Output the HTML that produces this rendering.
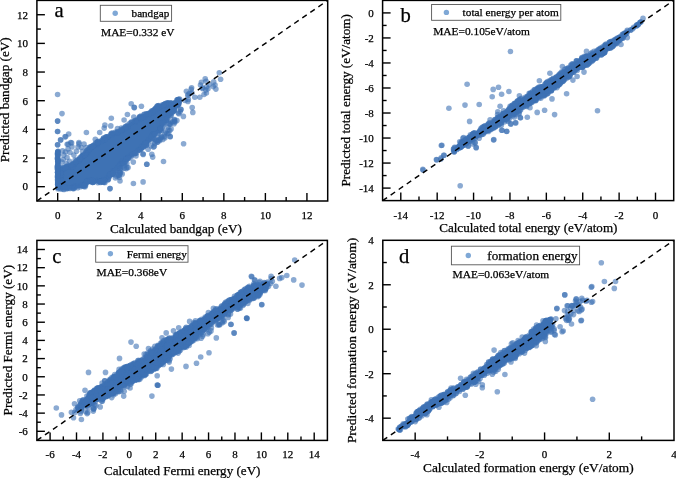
<!DOCTYPE html>
<html><head><meta charset="utf-8"><style>
html,body{margin:0;padding:0;background:#fff;width:676px;height:478px;overflow:hidden}
svg{display:block;will-change:transform}
text{font-family:"Liberation Serif", serif;fill:#000;stroke:#000;stroke-width:0.25px}
</style></head><body>
<svg width="676" height="478" viewBox="0 0 676 478">
<clipPath id="clipa"><rect x="36.9" y="0.4" width="290.8" height="200.6"/></clipPath>
<clipPath id="clipb"><rect x="382.6" y="0.4" width="291.1" height="200.2"/></clipPath>
<clipPath id="clipc"><rect x="36.9" y="240.4" width="290.5" height="199.99999999999997"/></clipPath>
<clipPath id="clipd"><rect x="382.8" y="240.3" width="291.2" height="200.09999999999997"/></clipPath>
<g clip-path="url(#clipa)"><polygon points="59.1,167.5 59.1,189.8 69.9,189.2 79.7,187.9 85.3,186.9 86.8,183.4 86.9,183.2 87.0,183.1 87.1,183.0 87.2,182.8 87.3,182.7 87.5,182.6 87.6,182.6 87.7,182.5 87.9,182.5 88.1,182.4 88.2,182.4 88.4,182.4 95.2,182.7 106.2,182.4 115.8,171.0 115.9,170.9 120.9,165.9 120.9,165.8 126.9,160.3 127.1,160.2 132.0,156.7 139.0,151.2 139.0,151.2 144.9,146.8 149.8,141.9 154.7,135.5 154.8,135.4 154.9,135.3 155.1,135.2 155.2,135.1 160.8,131.9 163.1,127.0 163.1,127.0 165.6,121.8 165.6,121.6 165.7,121.5 165.9,121.4 169.8,117.5 173.7,112.1 179.4,103.9 179.8,98.6 178.2,99.1 172.0,101.6 171.9,101.6 171.7,101.7 165.4,103.0 157.1,105.4 151.1,111.2 151.0,111.3 150.9,111.3 150.7,111.4 150.6,111.5 144.7,114.0 138.8,116.9 132.4,121.3 132.3,121.4 125.8,125.4 125.8,125.4 119.8,129.0 119.7,129.0 113.7,131.9 106.8,135.9 100.8,139.4 94.9,143.3 88.7,147.7 83.2,154.0 83.1,154.1 83.0,154.2 77.1,159.2 71.1,165.1 71.0,165.2 70.9,165.3 70.8,165.4 70.6,165.5 70.5,165.5 70.3,165.6 60.3,167.6 60.2,167.6 60.0,167.6 59.8,167.6 59.7,167.6 59.1,167.5" fill="#3e72b4"/><rect x="55.8" y="150" width="4.0" height="40" fill="#3e72b4"/><g fill="#3e72b4" fill-opacity="0.6"><circle cx="146.6" cy="114.1" r="2.8"/><circle cx="88.1" cy="152.1" r="2.8"/><circle cx="101.8" cy="140.4" r="2.8"/><circle cx="59.6" cy="171.5" r="2.8"/><circle cx="85.6" cy="185.5" r="2.8"/><circle cx="121.3" cy="129.5" r="2.8"/><circle cx="66.9" cy="188.4" r="2.8"/><circle cx="67.6" cy="166.2" r="2.8"/><circle cx="166.9" cy="116.8" r="2.8"/><circle cx="84.4" cy="184.8" r="2.8"/><circle cx="174.1" cy="110.7" r="2.8"/><circle cx="87.0" cy="180.5" r="2.8"/><circle cx="87.2" cy="182.5" r="2.8"/><circle cx="141.5" cy="116.7" r="2.8"/><circle cx="174.4" cy="109.9" r="2.8"/><circle cx="104.1" cy="182.5" r="2.8"/><circle cx="171.1" cy="115.3" r="2.8"/><circle cx="131.0" cy="155.2" r="2.8"/><circle cx="59.8" cy="180.8" r="2.8"/><circle cx="108.1" cy="179.1" r="2.8"/><circle cx="173.8" cy="111.0" r="2.8"/><circle cx="169.6" cy="113.7" r="2.8"/><circle cx="150.3" cy="113.1" r="2.8"/><circle cx="86.2" cy="151.8" r="2.8"/><circle cx="89.1" cy="181.0" r="2.8"/><circle cx="172.6" cy="111.6" r="2.8"/><circle cx="59.9" cy="175.6" r="2.8"/><circle cx="149.0" cy="141.1" r="2.8"/><circle cx="148.6" cy="139.9" r="2.8"/><circle cx="88.0" cy="181.4" r="2.8"/><circle cx="127.9" cy="126.7" r="2.8"/><circle cx="84.7" cy="155.4" r="2.8"/><circle cx="165.9" cy="120.3" r="2.8"/><circle cx="82.8" cy="156.8" r="2.8"/><circle cx="135.1" cy="121.4" r="2.8"/><circle cx="81.2" cy="158.3" r="2.8"/><circle cx="153.0" cy="134.1" r="2.8"/><circle cx="73.9" cy="188.4" r="2.8"/><circle cx="159.7" cy="131.0" r="2.8"/><circle cx="60.5" cy="185.4" r="2.8"/><circle cx="59.9" cy="175.3" r="2.8"/><circle cx="141.3" cy="118.0" r="2.8"/><circle cx="73.8" cy="186.7" r="2.8"/><circle cx="157.7" cy="105.9" r="2.8"/><circle cx="127.5" cy="125.3" r="2.8"/><circle cx="66.4" cy="187.4" r="2.8"/><circle cx="63.2" cy="188.9" r="2.8"/><circle cx="153.1" cy="137.5" r="2.8"/><circle cx="168.9" cy="104.5" r="2.8"/><circle cx="85.7" cy="183.8" r="2.8"/><circle cx="160.4" cy="129.1" r="2.8"/><circle cx="97.5" cy="181.0" r="2.8"/><circle cx="72.9" cy="187.9" r="2.8"/><circle cx="139.7" cy="117.9" r="2.8"/><circle cx="167.2" cy="103.9" r="2.8"/><circle cx="177.2" cy="100.1" r="2.8"/><circle cx="145.0" cy="116.6" r="2.8"/><circle cx="164.3" cy="122.9" r="2.8"/><circle cx="73.7" cy="163.8" r="2.8"/><circle cx="143.4" cy="116.4" r="2.8"/><circle cx="149.2" cy="113.6" r="2.8"/><circle cx="106.0" cy="137.0" r="2.8"/><circle cx="134.1" cy="121.5" r="2.8"/><circle cx="127.9" cy="157.9" r="2.8"/><circle cx="135.1" cy="153.6" r="2.8"/><circle cx="139.7" cy="116.6" r="2.8"/><circle cx="113.4" cy="133.8" r="2.8"/><circle cx="97.1" cy="180.6" r="2.8"/><circle cx="84.2" cy="185.3" r="2.8"/><circle cx="127.6" cy="127.0" r="2.8"/><circle cx="74.3" cy="164.0" r="2.8"/><circle cx="161.3" cy="130.7" r="2.8"/><circle cx="90.6" cy="148.4" r="2.8"/><circle cx="79.5" cy="159.4" r="2.8"/><circle cx="98.3" cy="141.4" r="2.8"/><circle cx="62.4" cy="169.2" r="2.8"/><circle cx="81.5" cy="156.8" r="2.8"/><circle cx="86.4" cy="150.8" r="2.8"/><circle cx="152.6" cy="111.1" r="2.8"/><circle cx="178.8" cy="101.7" r="2.8"/><circle cx="117.2" cy="132.1" r="2.8"/><circle cx="60.0" cy="178.0" r="2.8"/><circle cx="127.7" cy="126.2" r="2.8"/><circle cx="131.2" cy="122.1" r="2.8"/><circle cx="178.3" cy="103.7" r="2.8"/><circle cx="126.1" cy="158.6" r="2.8"/><circle cx="98.2" cy="181.0" r="2.8"/><circle cx="72.1" cy="165.5" r="2.8"/><circle cx="107.6" cy="177.4" r="2.8"/><circle cx="164.0" cy="123.0" r="2.8"/><circle cx="78.6" cy="160.9" r="2.8"/><circle cx="72.6" cy="187.5" r="2.8"/><circle cx="60.2" cy="181.7" r="2.8"/><circle cx="100.1" cy="182.4" r="2.8"/><circle cx="177.3" cy="101.6" r="2.8"/><circle cx="61.5" cy="189.0" r="2.8"/><circle cx="85.1" cy="186.8" r="2.8"/><circle cx="179.6" cy="99.1" r="2.8"/><circle cx="168.7" cy="103.1" r="2.8"/><circle cx="86.0" cy="154.5" r="2.8"/><circle cx="91.1" cy="181.5" r="2.8"/><circle cx="150.7" cy="112.3" r="2.8"/><circle cx="159.7" cy="107.0" r="2.8"/><circle cx="170.7" cy="116.1" r="2.8"/><circle cx="141.1" cy="149.1" r="2.8"/><circle cx="59.8" cy="188.8" r="2.8"/><circle cx="163.2" cy="105.2" r="2.8"/><circle cx="90.2" cy="181.2" r="2.8"/><circle cx="91.8" cy="180.1" r="2.8"/><circle cx="60.9" cy="184.6" r="2.8"/><circle cx="177.7" cy="102.4" r="2.8"/><circle cx="83.1" cy="155.6" r="2.8"/><circle cx="173.2" cy="109.2" r="2.8"/><circle cx="113.9" cy="172.4" r="2.8"/><circle cx="148.2" cy="114.2" r="2.8"/><circle cx="126.5" cy="159.8" r="2.8"/><circle cx="102.9" cy="182.3" r="2.8"/><circle cx="135.1" cy="122.3" r="2.8"/><circle cx="152.6" cy="134.6" r="2.8"/><circle cx="77.3" cy="159.9" r="2.8"/><circle cx="74.9" cy="162.8" r="2.8"/><circle cx="160.3" cy="128.3" r="2.8"/><circle cx="62.8" cy="169.6" r="2.8"/><circle cx="178.1" cy="105.1" r="2.8"/><circle cx="60.7" cy="177.4" r="2.8"/><circle cx="102.0" cy="180.6" r="2.8"/><circle cx="59.4" cy="176.3" r="2.8"/><circle cx="151.1" cy="112.1" r="2.8"/><circle cx="93.8" cy="181.3" r="2.8"/><circle cx="137.8" cy="150.6" r="2.8"/><circle cx="60.9" cy="176.4" r="2.8"/><circle cx="74.8" cy="186.4" r="2.8"/><circle cx="86.5" cy="153.1" r="2.8"/><circle cx="60.6" cy="185.1" r="2.8"/><circle cx="166.1" cy="103.8" r="2.8"/><circle cx="108.4" cy="179.6" r="2.8"/><circle cx="68.0" cy="166.2" r="2.8"/><circle cx="108.1" cy="137.0" r="2.8"/><circle cx="178.2" cy="100.4" r="2.8"/><circle cx="139.2" cy="150.1" r="2.8"/><circle cx="135.6" cy="120.6" r="2.8"/><circle cx="139.8" cy="118.9" r="2.8"/><circle cx="97.5" cy="142.1" r="2.8"/><circle cx="103.9" cy="139.4" r="2.8"/><circle cx="67.4" cy="167.1" r="2.8"/><circle cx="152.1" cy="138.5" r="2.8"/><circle cx="151.8" cy="110.9" r="2.8"/><circle cx="82.5" cy="186.0" r="2.8"/><circle cx="162.2" cy="127.9" r="2.8"/><circle cx="60.4" cy="168.2" r="2.8"/><circle cx="86.5" cy="181.6" r="2.8"/><circle cx="139.4" cy="117.6" r="2.8"/><circle cx="111.4" cy="133.3" r="2.8"/><circle cx="76.4" cy="185.9" r="2.8"/><circle cx="170.7" cy="103.4" r="2.8"/><circle cx="97.2" cy="144.6" r="2.8"/><circle cx="126.0" cy="159.1" r="2.8"/><circle cx="103.0" cy="180.2" r="2.8"/><circle cx="102.9" cy="181.9" r="2.8"/><circle cx="111.5" cy="134.3" r="2.8"/><circle cx="144.3" cy="114.6" r="2.8"/><circle cx="59.7" cy="171.8" r="2.8"/><circle cx="59.8" cy="171.4" r="2.8"/><circle cx="78.5" cy="161.0" r="2.8"/><circle cx="125.2" cy="127.2" r="2.8"/><circle cx="121.3" cy="128.1" r="2.8"/><circle cx="72.4" cy="166.7" r="2.8"/><circle cx="102.4" cy="180.7" r="2.8"/><circle cx="140.0" cy="118.9" r="2.8"/><circle cx="155.7" cy="108.9" r="2.8"/><circle cx="117.9" cy="132.3" r="2.8"/><circle cx="162.0" cy="128.9" r="2.8"/><circle cx="112.1" cy="134.9" r="2.8"/><circle cx="102.9" cy="180.9" r="2.8"/><circle cx="73.1" cy="188.6" r="2.8"/><circle cx="155.6" cy="108.2" r="2.8"/><circle cx="103.6" cy="138.1" r="2.8"/><circle cx="143.8" cy="145.7" r="2.8"/><circle cx="123.3" cy="128.5" r="2.8"/><circle cx="80.0" cy="157.5" r="2.8"/><circle cx="141.0" cy="148.4" r="2.8"/><circle cx="112.5" cy="174.3" r="2.8"/><circle cx="103.0" cy="139.5" r="2.8"/><circle cx="61.0" cy="179.8" r="2.8"/><circle cx="112.2" cy="174.3" r="2.8"/><circle cx="142.2" cy="147.2" r="2.8"/><circle cx="92.7" cy="182.5" r="2.8"/><circle cx="82.8" cy="185.8" r="2.8"/><circle cx="62.3" cy="167.3" r="2.8"/><circle cx="59.3" cy="171.5" r="2.8"/><circle cx="61.1" cy="183.4" r="2.8"/><circle cx="128.2" cy="157.7" r="2.8"/><circle cx="63.5" cy="167.6" r="2.8"/><circle cx="138.8" cy="149.7" r="2.8"/><circle cx="88.7" cy="149.5" r="2.8"/><circle cx="163.4" cy="105.9" r="2.8"/><circle cx="177.1" cy="99.8" r="2.8"/><circle cx="73.0" cy="165.3" r="2.8"/><circle cx="87.8" cy="149.8" r="2.8"/><circle cx="119.9" cy="164.2" r="2.8"/><circle cx="81.8" cy="185.2" r="2.8"/><circle cx="111.7" cy="133.3" r="2.8"/><circle cx="60.6" cy="177.2" r="2.8"/><circle cx="134.9" cy="153.3" r="2.8"/><circle cx="112.9" cy="170.9" r="2.8"/><circle cx="109.0" cy="176.1" r="2.8"/><circle cx="110.1" cy="174.9" r="2.8"/><circle cx="71.4" cy="165.3" r="2.8"/><circle cx="92.5" cy="182.5" r="2.8"/><circle cx="178.8" cy="101.3" r="2.8"/><circle cx="164.8" cy="104.1" r="2.8"/><circle cx="85.3" cy="184.3" r="2.8"/><circle cx="59.2" cy="177.7" r="2.8"/><circle cx="158.8" cy="107.5" r="2.8"/><circle cx="89.5" cy="148.1" r="2.8"/><circle cx="166.4" cy="120.7" r="2.8"/><circle cx="68.0" cy="167.3" r="2.8"/><circle cx="123.3" cy="162.4" r="2.8"/><circle cx="163.2" cy="122.0" r="2.8"/><circle cx="178.7" cy="100.9" r="2.8"/><circle cx="97.2" cy="143.6" r="2.8"/><circle cx="166.4" cy="120.2" r="2.8"/><circle cx="105.0" cy="182.4" r="2.8"/><circle cx="138.1" cy="119.1" r="2.8"/><circle cx="178.1" cy="99.5" r="2.8"/><circle cx="139.8" cy="117.4" r="2.8"/><circle cx="100.5" cy="182.3" r="2.8"/><circle cx="159.8" cy="130.6" r="2.8"/><circle cx="82.3" cy="155.7" r="2.8"/><circle cx="174.7" cy="108.0" r="2.8"/><circle cx="118.7" cy="167.6" r="2.8"/><circle cx="176.4" cy="106.9" r="2.8"/><circle cx="112.1" cy="172.8" r="2.8"/><circle cx="125.5" cy="128.4" r="2.8"/><circle cx="90.2" cy="146.8" r="2.8"/><circle cx="69.6" cy="188.4" r="2.8"/><circle cx="153.4" cy="110.4" r="2.8"/><circle cx="175.4" cy="102.2" r="2.8"/><circle cx="171.4" cy="103.3" r="2.8"/><circle cx="153.1" cy="112.5" r="2.8"/><circle cx="60.0" cy="180.4" r="2.8"/><circle cx="145.3" cy="143.3" r="2.8"/><circle cx="158.4" cy="132.6" r="2.8"/><circle cx="158.8" cy="105.5" r="2.8"/><circle cx="140.4" cy="149.8" r="2.8"/><circle cx="99.9" cy="181.5" r="2.8"/><circle cx="80.3" cy="186.7" r="2.8"/><circle cx="114.5" cy="171.1" r="2.8"/><circle cx="97.2" cy="142.0" r="2.8"/><circle cx="71.8" cy="166.7" r="2.8"/><circle cx="177.8" cy="104.6" r="2.8"/><circle cx="156.7" cy="108.6" r="2.8"/><circle cx="153.1" cy="134.2" r="2.8"/><circle cx="67.3" cy="187.8" r="2.8"/><circle cx="72.6" cy="164.8" r="2.8"/><circle cx="154.6" cy="109.6" r="2.8"/><circle cx="175.3" cy="106.1" r="2.8"/><circle cx="178.4" cy="104.1" r="2.8"/><circle cx="143.8" cy="146.1" r="2.8"/><circle cx="128.8" cy="156.8" r="2.8"/><circle cx="61.4" cy="175.0" r="2.8"/><circle cx="61.0" cy="175.0" r="2.8"/><circle cx="123.0" cy="129.6" r="2.8"/><circle cx="136.6" cy="152.9" r="2.8"/><circle cx="67.1" cy="166.6" r="2.8"/><circle cx="93.3" cy="182.3" r="2.8"/><circle cx="167.0" cy="118.9" r="2.8"/><circle cx="154.8" cy="109.3" r="2.8"/><circle cx="146.4" cy="145.0" r="2.8"/><circle cx="177.9" cy="104.9" r="2.8"/><circle cx="177.9" cy="99.7" r="2.8"/><circle cx="165.0" cy="119.4" r="2.8"/><circle cx="132.3" cy="154.6" r="2.8"/><circle cx="103.6" cy="138.2" r="2.8"/><circle cx="83.0" cy="155.5" r="2.8"/><circle cx="144.1" cy="114.4" r="2.8"/><circle cx="144.8" cy="143.5" r="2.8"/><circle cx="63.9" cy="189.4" r="2.8"/><circle cx="165.3" cy="105.0" r="2.8"/><circle cx="162.4" cy="104.9" r="2.8"/><circle cx="106.0" cy="137.4" r="2.8"/><circle cx="179.0" cy="104.0" r="2.8"/><circle cx="92.6" cy="146.5" r="2.8"/><circle cx="76.5" cy="160.8" r="2.8"/><circle cx="74.7" cy="187.6" r="2.8"/><circle cx="144.6" cy="143.9" r="2.8"/><circle cx="147.8" cy="113.5" r="2.8"/><circle cx="90.7" cy="181.4" r="2.8"/><circle cx="106.4" cy="136.9" r="2.8"/><circle cx="60.5" cy="186.4" r="2.8"/><circle cx="87.2" cy="153.1" r="2.8"/><circle cx="125.3" cy="126.8" r="2.8"/><circle cx="151.0" cy="113.3" r="2.8"/><circle cx="158.9" cy="106.6" r="2.8"/><circle cx="135.4" cy="120.4" r="2.8"/><circle cx="60.2" cy="183.7" r="2.8"/><circle cx="165.5" cy="105.0" r="2.8"/><circle cx="104.0" cy="139.7" r="2.8"/><circle cx="140.9" cy="116.1" r="2.8"/><circle cx="146.3" cy="144.8" r="2.8"/><circle cx="102.6" cy="181.1" r="2.8"/><circle cx="158.0" cy="106.1" r="2.8"/><circle cx="85.8" cy="182.1" r="2.8"/><circle cx="92.6" cy="145.7" r="2.8"/><circle cx="170.7" cy="113.2" r="2.8"/><circle cx="156.3" cy="107.6" r="2.8"/><circle cx="146.4" cy="144.9" r="2.8"/><circle cx="60.2" cy="175.1" r="2.8"/><circle cx="107.9" cy="179.8" r="2.8"/><circle cx="117.8" cy="168.7" r="2.8"/><circle cx="163.8" cy="105.7" r="2.8"/><circle cx="156.7" cy="109.1" r="2.8"/><circle cx="116.8" cy="132.6" r="2.8"/><circle cx="132.0" cy="122.0" r="2.8"/><circle cx="83.2" cy="154.9" r="2.8"/><circle cx="152.8" cy="112.2" r="2.8"/><circle cx="88.5" cy="150.1" r="2.8"/><circle cx="117.7" cy="168.1" r="2.8"/><circle cx="71.8" cy="167.3" r="2.8"/><circle cx="82.2" cy="155.9" r="2.8"/><circle cx="173.6" cy="103.2" r="2.8"/><circle cx="148.8" cy="139.8" r="2.8"/><circle cx="166.0" cy="105.0" r="2.8"/><circle cx="97.7" cy="182.6" r="2.8"/><circle cx="77.7" cy="187.8" r="2.8"/><circle cx="119.8" cy="165.2" r="2.8"/><circle cx="70.0" cy="188.0" r="2.8"/><circle cx="142.1" cy="145.8" r="2.8"/><circle cx="117.5" cy="167.8" r="2.8"/><circle cx="104.6" cy="180.6" r="2.8"/><circle cx="168.7" cy="114.8" r="2.8"/><circle cx="108.8" cy="175.9" r="2.8"/><circle cx="66.4" cy="188.8" r="2.8"/><circle cx="60.2" cy="186.9" r="2.8"/><circle cx="91.4" cy="146.9" r="2.8"/><circle cx="154.6" cy="134.5" r="2.8"/><circle cx="95.5" cy="143.1" r="2.8"/><circle cx="118.6" cy="131.6" r="2.8"/><circle cx="115.8" cy="170.8" r="2.8"/><circle cx="113.4" cy="173.2" r="2.8"/><circle cx="61.0" cy="172.7" r="2.8"/><circle cx="167.9" cy="102.8" r="2.8"/><circle cx="83.1" cy="155.8" r="2.8"/><circle cx="165.2" cy="103.5" r="2.8"/><circle cx="169.6" cy="114.5" r="2.8"/><circle cx="179.2" cy="100.9" r="2.8"/><circle cx="167.6" cy="118.4" r="2.8"/><circle cx="107.8" cy="136.6" r="2.8"/><circle cx="164.7" cy="104.6" r="2.8"/><circle cx="115.4" cy="170.4" r="2.8"/><circle cx="145.7" cy="143.2" r="2.8"/><circle cx="79.8" cy="159.5" r="2.8"/><circle cx="109.4" cy="176.7" r="2.8"/><circle cx="90.8" cy="147.0" r="2.8"/><circle cx="115.4" cy="132.0" r="2.8"/><circle cx="167.2" cy="102.9" r="2.8"/><circle cx="97.9" cy="141.8" r="2.8"/><circle cx="141.5" cy="147.3" r="2.8"/><circle cx="170.7" cy="113.1" r="2.8"/><circle cx="110.0" cy="174.4" r="2.8"/><circle cx="60.8" cy="168.8" r="2.8"/><circle cx="74.3" cy="164.0" r="2.8"/><circle cx="148.5" cy="114.9" r="2.8"/><circle cx="137.2" cy="120.2" r="2.8"/><circle cx="141.1" cy="118.5" r="2.8"/><circle cx="150.9" cy="138.5" r="2.8"/><circle cx="75.9" cy="162.1" r="2.8"/><circle cx="164.2" cy="124.6" r="2.8"/><circle cx="110.1" cy="174.6" r="2.8"/><circle cx="93.4" cy="181.8" r="2.8"/><circle cx="174.5" cy="106.9" r="2.8"/><circle cx="168.3" cy="103.8" r="2.8"/><circle cx="90.6" cy="180.4" r="2.8"/><circle cx="160.3" cy="128.5" r="2.8"/><circle cx="85.3" cy="154.8" r="2.8"/><circle cx="95.9" cy="143.7" r="2.8"/><circle cx="126.0" cy="126.4" r="2.8"/><circle cx="152.1" cy="135.1" r="2.8"/><circle cx="87.2" cy="181.1" r="2.8"/><circle cx="119.9" cy="166.7" r="2.8"/><circle cx="110.7" cy="134.6" r="2.8"/><circle cx="121.3" cy="131.0" r="2.8"/><circle cx="153.6" cy="135.5" r="2.8"/><circle cx="84.7" cy="155.3" r="2.8"/><circle cx="143.8" cy="146.6" r="2.8"/><circle cx="160.4" cy="128.7" r="2.8"/><circle cx="100.5" cy="181.4" r="2.8"/><circle cx="59.4" cy="171.4" r="2.8"/><circle cx="128.9" cy="158.5" r="2.8"/><circle cx="93.6" cy="145.6" r="2.8"/><circle cx="59.1" cy="182.8" r="2.8"/><circle cx="93.9" cy="145.0" r="2.8"/><circle cx="131.2" cy="122.8" r="2.8"/><circle cx="145.8" cy="143.9" r="2.8"/><circle cx="84.0" cy="186.4" r="2.8"/><circle cx="64.0" cy="168.5" r="2.8"/><circle cx="85.5" cy="153.0" r="2.8"/><circle cx="178.9" cy="99.4" r="2.8"/><circle cx="151.3" cy="136.5" r="2.8"/><circle cx="79.8" cy="158.6" r="2.8"/><circle cx="129.3" cy="123.7" r="2.8"/><circle cx="66.4" cy="166.4" r="2.8"/><circle cx="92.9" cy="146.5" r="2.8"/><circle cx="84.5" cy="185.6" r="2.8"/><circle cx="131.2" cy="156.7" r="2.8"/><circle cx="163.3" cy="105.3" r="2.8"/><circle cx="143.6" cy="147.0" r="2.8"/><circle cx="73.0" cy="163.6" r="2.8"/><circle cx="154.7" cy="134.6" r="2.8"/><circle cx="90.1" cy="180.2" r="2.8"/><circle cx="122.1" cy="163.4" r="2.8"/><circle cx="105.0" cy="139.7" r="2.8"/><circle cx="119.1" cy="166.2" r="2.8"/><circle cx="157.2" cy="133.4" r="2.8"/><circle cx="92.4" cy="180.3" r="2.8"/><circle cx="135.2" cy="153.5" r="2.8"/><circle cx="140.3" cy="117.7" r="2.8"/><circle cx="118.0" cy="132.6" r="2.8"/><circle cx="69.3" cy="166.1" r="2.8"/><circle cx="68.6" cy="188.0" r="2.8"/><circle cx="174.1" cy="111.0" r="2.8"/><circle cx="170.8" cy="103.1" r="2.8"/><circle cx="162.3" cy="123.4" r="2.8"/><circle cx="128.0" cy="157.7" r="2.8"/><circle cx="73.0" cy="166.7" r="2.8"/><circle cx="122.2" cy="161.3" r="2.8"/><circle cx="63.8" cy="187.3" r="2.8"/><circle cx="113.1" cy="133.0" r="2.8"/><circle cx="121.6" cy="130.0" r="2.8"/><circle cx="112.8" cy="173.4" r="2.8"/><circle cx="154.8" cy="133.7" r="2.8"/><circle cx="65.6" cy="167.5" r="2.8"/><circle cx="101.4" cy="141.4" r="2.8"/><circle cx="98.2" cy="142.6" r="2.8"/><circle cx="154.9" cy="110.4" r="2.8"/><circle cx="142.8" cy="117.5" r="2.8"/><circle cx="148.8" cy="114.1" r="2.8"/><circle cx="60.9" cy="173.1" r="2.8"/><circle cx="64.7" cy="187.2" r="2.8"/><circle cx="164.1" cy="104.5" r="2.8"/><circle cx="122.9" cy="163.5" r="2.8"/><circle cx="171.1" cy="103.4" r="2.8"/><circle cx="146.2" cy="113.9" r="2.8"/><circle cx="172.3" cy="112.4" r="2.8"/><circle cx="179.1" cy="102.2" r="2.8"/><circle cx="126.5" cy="159.4" r="2.8"/><circle cx="162.8" cy="139.4" r="2.8"/><circle cx="169.4" cy="124.1" r="2.8"/><circle cx="169.6" cy="123.8" r="2.8"/><circle cx="155.1" cy="139.5" r="2.8"/><circle cx="165.9" cy="132.2" r="2.8"/><circle cx="168.6" cy="133.5" r="2.8"/><circle cx="154.2" cy="142.0" r="2.8"/><circle cx="164.9" cy="138.0" r="2.8"/><circle cx="174.4" cy="121.3" r="2.8"/><circle cx="170.7" cy="122.0" r="2.8"/><circle cx="170.2" cy="123.9" r="2.8"/><circle cx="154.3" cy="138.9" r="2.8"/><circle cx="124.9" cy="162.7" r="2.8"/><circle cx="120.2" cy="168.6" r="2.8"/><circle cx="124.9" cy="161.9" r="2.8"/><circle cx="119.4" cy="172.0" r="2.8"/><circle cx="120.4" cy="168.5" r="2.8"/><circle cx="126.8" cy="163.5" r="2.8"/><circle cx="114.1" cy="174.7" r="2.8"/><circle cx="124.7" cy="164.9" r="2.8"/><circle cx="123.0" cy="163.7" r="2.8"/><circle cx="120.0" cy="172.7" r="2.8"/><circle cx="158.0" cy="140.5" r="2.8"/><circle cx="158.6" cy="139.9" r="2.8"/><circle cx="172.3" cy="122.0" r="2.8"/><circle cx="176.9" cy="120.6" r="2.8"/><circle cx="161.5" cy="136.7" r="2.8"/><circle cx="164.5" cy="136.5" r="2.8"/><circle cx="164.7" cy="134.0" r="2.8"/><circle cx="160.2" cy="138.7" r="2.8"/><circle cx="174.9" cy="122.1" r="2.8"/><circle cx="118.4" cy="175.4" r="2.8"/><circle cx="157.3" cy="141.9" r="2.8"/><circle cx="126.1" cy="168.6" r="2.8"/><circle cx="169.7" cy="130.6" r="2.8"/><circle cx="153.5" cy="147.1" r="2.8"/><circle cx="167.1" cy="133.6" r="2.8"/><circle cx="133.3" cy="162.1" r="2.8"/><circle cx="143.0" cy="154.0" r="2.8"/><circle cx="159.8" cy="140.4" r="2.8"/><circle cx="159.8" cy="137.3" r="2.8"/><circle cx="157.8" cy="142.1" r="2.8"/><circle cx="119.7" cy="173.1" r="2.8"/><circle cx="180.9" cy="109.4" r="2.8"/><circle cx="124.2" cy="168.2" r="2.8"/><circle cx="161.6" cy="137.1" r="2.8"/><circle cx="180.2" cy="111.6" r="2.8"/><circle cx="180.9" cy="109.5" r="2.8"/><circle cx="117.0" cy="176.5" r="2.8"/><circle cx="148.1" cy="149.2" r="2.8"/><circle cx="178.3" cy="113.0" r="2.8"/><circle cx="155.0" cy="143.6" r="2.8"/><circle cx="154.3" cy="146.3" r="2.8"/><circle cx="156.3" cy="140.5" r="2.8"/><circle cx="171.1" cy="128.9" r="2.8"/><circle cx="122.2" cy="173.9" r="2.8"/><circle cx="119.5" cy="177.5" r="2.8"/><circle cx="128.1" cy="167.6" r="2.8"/><circle cx="168.0" cy="127.3" r="2.8"/><circle cx="174.0" cy="123.8" r="2.8"/><circle cx="143.2" cy="154.4" r="2.8"/><circle cx="120.6" cy="173.1" r="2.8"/><circle cx="167.9" cy="130.0" r="2.8"/><circle cx="178.9" cy="113.8" r="2.8"/><circle cx="118.2" cy="174.6" r="2.8"/><circle cx="126.9" cy="167.4" r="2.8"/><circle cx="115.4" cy="178.0" r="2.8"/><circle cx="187.9" cy="101.4" r="2.8"/><circle cx="189.7" cy="93.4" r="2.8"/><circle cx="206.6" cy="86.9" r="2.8"/><circle cx="202.6" cy="88.6" r="2.8"/><circle cx="201.4" cy="82.3" r="2.8"/><circle cx="188.3" cy="99.4" r="2.8"/><circle cx="213.2" cy="86.6" r="2.8"/><circle cx="204.0" cy="94.5" r="2.8"/><circle cx="205.8" cy="90.1" r="2.8"/><circle cx="191.2" cy="89.4" r="2.8"/><circle cx="187.8" cy="95.5" r="2.8"/><circle cx="199.8" cy="97.2" r="2.8"/><circle cx="191.9" cy="92.7" r="2.8"/><circle cx="209.3" cy="84.6" r="2.8"/><circle cx="185.0" cy="100.5" r="2.8"/><circle cx="206.4" cy="93.0" r="2.8"/><circle cx="57.7" cy="155.5" r="2.8"/><circle cx="57.9" cy="152.4" r="2.8"/><circle cx="57.8" cy="163.9" r="2.8"/><circle cx="57.5" cy="169.5" r="2.8"/><circle cx="57.5" cy="166.6" r="2.8"/><circle cx="57.5" cy="153.1" r="2.8"/><circle cx="57.8" cy="182.2" r="2.8"/><circle cx="57.6" cy="158.3" r="2.8"/><circle cx="57.9" cy="186.9" r="2.8"/><circle cx="57.8" cy="165.2" r="2.8"/><circle cx="58.1" cy="151.3" r="2.8"/><circle cx="58.0" cy="160.9" r="2.8"/><circle cx="57.6" cy="154.2" r="2.8"/><circle cx="57.7" cy="181.7" r="2.8"/><circle cx="57.6" cy="172.5" r="2.8"/><circle cx="57.9" cy="164.2" r="2.8"/><circle cx="57.8" cy="152.0" r="2.8"/><circle cx="57.5" cy="157.6" r="2.8"/><circle cx="57.9" cy="166.4" r="2.8"/><circle cx="57.7" cy="172.6" r="2.8"/><circle cx="57.8" cy="161.3" r="2.8"/><circle cx="58.0" cy="177.1" r="2.8"/><circle cx="57.6" cy="172.2" r="2.8"/><circle cx="57.8" cy="184.1" r="2.8"/><circle cx="57.9" cy="160.9" r="2.8"/><circle cx="58.1" cy="154.2" r="2.8"/><circle cx="57.8" cy="179.4" r="2.8"/><circle cx="57.6" cy="168.8" r="2.8"/><circle cx="57.5" cy="175.9" r="2.8"/><circle cx="58.0" cy="172.1" r="2.8"/><circle cx="58.0" cy="161.9" r="2.8"/><circle cx="57.9" cy="173.0" r="2.8"/><circle cx="57.8" cy="167.5" r="2.8"/><circle cx="58.0" cy="186.8" r="2.8"/><circle cx="57.8" cy="175.7" r="2.8"/><circle cx="57.5" cy="177.2" r="2.8"/><circle cx="57.9" cy="188.7" r="2.8"/><circle cx="58.0" cy="160.7" r="2.8"/><circle cx="57.7" cy="175.9" r="2.8"/><circle cx="57.5" cy="167.7" r="2.8"/><circle cx="57.6" cy="154.1" r="2.8"/><circle cx="57.5" cy="179.8" r="2.8"/><circle cx="57.6" cy="159.3" r="2.8"/><circle cx="57.7" cy="183.9" r="2.8"/><circle cx="57.5" cy="167.2" r="2.8"/><circle cx="57.8" cy="184.4" r="2.8"/><circle cx="58.0" cy="183.6" r="2.8"/><circle cx="57.7" cy="165.9" r="2.8"/><circle cx="57.7" cy="184.4" r="2.8"/><circle cx="58.1" cy="155.5" r="2.8"/><circle cx="57.6" cy="158.7" r="2.8"/><circle cx="57.6" cy="168.7" r="2.8"/><circle cx="57.9" cy="159.9" r="2.8"/><circle cx="57.5" cy="166.0" r="2.8"/><circle cx="57.7" cy="171.9" r="2.8"/><circle cx="58.1" cy="176.8" r="2.8"/><circle cx="57.8" cy="173.9" r="2.8"/><circle cx="57.9" cy="151.6" r="2.8"/><circle cx="58.0" cy="180.3" r="2.8"/><circle cx="58.0" cy="181.0" r="2.8"/><circle cx="60.7" cy="140.0" r="2.8"/><circle cx="65.0" cy="136.9" r="2.8"/><circle cx="68.2" cy="144.4" r="2.8"/><circle cx="70.7" cy="142.5" r="2.8"/><circle cx="72.0" cy="146.9" r="2.8"/><circle cx="62.6" cy="150.7" r="2.8"/><circle cx="63.8" cy="155.1" r="2.8"/><circle cx="63.2" cy="159.5" r="2.8"/><circle cx="67.0" cy="157.6" r="2.8"/><circle cx="69.5" cy="161.3" r="2.8"/><circle cx="73.9" cy="155.1" r="2.8"/><circle cx="76.4" cy="151.3" r="2.8"/><circle cx="78.9" cy="142.5" r="2.8"/><circle cx="82.6" cy="151.3" r="2.8"/><circle cx="86.4" cy="147.5" r="2.8"/><circle cx="81.4" cy="147.5" r="2.8"/><circle cx="71.3" cy="165.1" r="2.8"/><circle cx="66.3" cy="163.9" r="2.8"/><circle cx="61.9" cy="162.0" r="2.8"/><circle cx="75.1" cy="160.1" r="2.8"/><circle cx="65.5" cy="152.0" r="2.8"/><circle cx="70.0" cy="152.5" r="2.8"/><circle cx="78.0" cy="147.0" r="2.8"/><circle cx="84.0" cy="144.0" r="2.8"/><circle cx="68.0" cy="149.0" r="2.8"/><circle cx="57.6" cy="94.5" r="2.8"/><circle cx="62.0" cy="113.6" r="2.8"/><circle cx="57.6" cy="121.1" r="2.8"/><circle cx="57.6" cy="121.1" r="2.8"/><circle cx="57.6" cy="131.5" r="2.8"/><circle cx="57.6" cy="131.5" r="2.8"/><circle cx="60.5" cy="139.9" r="2.8"/><circle cx="65.7" cy="136.5" r="2.8"/><circle cx="68.7" cy="134.0" r="2.8"/><circle cx="57.6" cy="144.8" r="2.8"/><circle cx="57.6" cy="144.8" r="2.8"/><circle cx="67.2" cy="144.3" r="2.8"/><circle cx="71.6" cy="142.9" r="2.8"/><circle cx="79.0" cy="143.9" r="2.8"/><circle cx="86.4" cy="132.5" r="2.8"/><circle cx="95.3" cy="139.2" r="2.8"/><circle cx="99.7" cy="132.5" r="2.8"/><circle cx="104.9" cy="125.1" r="2.8"/><circle cx="104.2" cy="128.1" r="2.8"/><circle cx="110.8" cy="125.9" r="2.8"/><circle cx="111.3" cy="118.2" r="2.8"/><circle cx="117.5" cy="128.5" r="2.8"/><circle cx="124.1" cy="120.0" r="2.8"/><circle cx="127.4" cy="114.5" r="2.8"/><circle cx="131.2" cy="103.7" r="2.8"/><circle cx="134.1" cy="107.4" r="2.8"/><circle cx="141.4" cy="106.3" r="2.8"/><circle cx="133.8" cy="117.0" r="2.8"/><circle cx="134.4" cy="107.6" r="2.8"/><circle cx="157.0" cy="106.4" r="2.8"/><circle cx="183.6" cy="143.7" r="2.8"/><circle cx="170.2" cy="136.7" r="2.8"/><circle cx="163.5" cy="161.5" r="2.8"/><circle cx="146.8" cy="164.3" r="2.8"/><circle cx="146.8" cy="164.3" r="2.8"/><circle cx="151.0" cy="145.9" r="2.8"/><circle cx="151.8" cy="154.3" r="2.8"/><circle cx="152.7" cy="157.1" r="2.8"/><circle cx="143.1" cy="181.9" r="2.8"/><circle cx="133.4" cy="183.5" r="2.8"/><circle cx="110.0" cy="188.6" r="2.8"/><circle cx="110.0" cy="188.6" r="2.8"/><circle cx="120.0" cy="181.0" r="2.8"/><circle cx="121.7" cy="168.5" r="2.8"/><circle cx="119.2" cy="175.2" r="2.8"/><circle cx="136.0" cy="156.0" r="2.8"/><circle cx="174.4" cy="120.0" r="2.8"/><circle cx="174.6" cy="119.6" r="2.8"/><circle cx="183.4" cy="116.4" r="2.8"/><circle cx="192.8" cy="112.4" r="2.8"/><circle cx="192.2" cy="107.6" r="2.8"/><circle cx="170.2" cy="136.5" r="2.8"/><circle cx="219.3" cy="72.7" r="2.8"/><circle cx="220.6" cy="79.3" r="2.8"/><circle cx="205.2" cy="78.8" r="2.8"/><circle cx="206.1" cy="81.2" r="2.8"/><circle cx="213.7" cy="81.8" r="2.8"/><circle cx="215.0" cy="85.0" r="2.8"/><circle cx="215.9" cy="89.1" r="2.8"/><circle cx="200.5" cy="85.0" r="2.8"/><circle cx="202.4" cy="87.8" r="2.8"/><circle cx="208.0" cy="88.7" r="2.8"/><circle cx="191.6" cy="87.8" r="2.8"/><circle cx="186.4" cy="91.2" r="2.8"/><circle cx="194.8" cy="97.2" r="2.8"/><circle cx="188.2" cy="94.4" r="2.8"/></g></g>
<line x1="36.90" y1="201.00" x2="327.70" y2="0.40" stroke="#000" stroke-width="1.45" stroke-dasharray="5.4,4.37"/>
<line x1="57.67" y1="201.00" x2="57.67" y2="193.00" stroke="#000" stroke-width="1.4"/>
<line x1="78.44" y1="201.00" x2="78.44" y2="197.00" stroke="#000" stroke-width="1.4"/>
<line x1="99.21" y1="201.00" x2="99.21" y2="193.00" stroke="#000" stroke-width="1.4"/>
<line x1="119.99" y1="201.00" x2="119.99" y2="197.00" stroke="#000" stroke-width="1.4"/>
<line x1="140.76" y1="201.00" x2="140.76" y2="193.00" stroke="#000" stroke-width="1.4"/>
<line x1="161.53" y1="201.00" x2="161.53" y2="197.00" stroke="#000" stroke-width="1.4"/>
<line x1="182.30" y1="201.00" x2="182.30" y2="193.00" stroke="#000" stroke-width="1.4"/>
<line x1="203.07" y1="201.00" x2="203.07" y2="197.00" stroke="#000" stroke-width="1.4"/>
<line x1="223.84" y1="201.00" x2="223.84" y2="193.00" stroke="#000" stroke-width="1.4"/>
<line x1="244.61" y1="201.00" x2="244.61" y2="197.00" stroke="#000" stroke-width="1.4"/>
<line x1="265.39" y1="201.00" x2="265.39" y2="193.00" stroke="#000" stroke-width="1.4"/>
<line x1="286.16" y1="201.00" x2="286.16" y2="197.00" stroke="#000" stroke-width="1.4"/>
<line x1="306.93" y1="201.00" x2="306.93" y2="193.00" stroke="#000" stroke-width="1.4"/>
<line x1="36.90" y1="186.67" x2="44.90" y2="186.67" stroke="#000" stroke-width="1.4"/>
<line x1="36.90" y1="172.34" x2="40.90" y2="172.34" stroke="#000" stroke-width="1.4"/>
<line x1="36.90" y1="158.01" x2="44.90" y2="158.01" stroke="#000" stroke-width="1.4"/>
<line x1="36.90" y1="143.69" x2="40.90" y2="143.69" stroke="#000" stroke-width="1.4"/>
<line x1="36.90" y1="129.36" x2="44.90" y2="129.36" stroke="#000" stroke-width="1.4"/>
<line x1="36.90" y1="115.03" x2="40.90" y2="115.03" stroke="#000" stroke-width="1.4"/>
<line x1="36.90" y1="100.70" x2="44.90" y2="100.70" stroke="#000" stroke-width="1.4"/>
<line x1="36.90" y1="86.37" x2="40.90" y2="86.37" stroke="#000" stroke-width="1.4"/>
<line x1="36.90" y1="72.04" x2="44.90" y2="72.04" stroke="#000" stroke-width="1.4"/>
<line x1="36.90" y1="57.71" x2="40.90" y2="57.71" stroke="#000" stroke-width="1.4"/>
<line x1="36.90" y1="43.39" x2="44.90" y2="43.39" stroke="#000" stroke-width="1.4"/>
<line x1="36.90" y1="29.06" x2="40.90" y2="29.06" stroke="#000" stroke-width="1.4"/>
<line x1="36.90" y1="14.73" x2="44.90" y2="14.73" stroke="#000" stroke-width="1.4"/>
<rect x="36.90" y="0.40" width="290.80" height="200.60" fill="none" stroke="#000" stroke-width="1.5"/>
<text x="57.67" y="219.00" text-anchor="middle" font-size="11.0">0</text>
<text x="99.21" y="219.00" text-anchor="middle" font-size="11.0">2</text>
<text x="140.76" y="219.00" text-anchor="middle" font-size="11.0">4</text>
<text x="182.30" y="219.00" text-anchor="middle" font-size="11.0">6</text>
<text x="223.84" y="219.00" text-anchor="middle" font-size="11.0">8</text>
<text x="265.39" y="219.00" text-anchor="middle" font-size="11.0">10</text>
<text x="306.93" y="219.00" text-anchor="middle" font-size="11.0">12</text>
<text x="28.00" y="190.47" text-anchor="end" font-size="11.0">0</text>
<text x="28.00" y="161.81" text-anchor="end" font-size="11.0">2</text>
<text x="28.00" y="133.16" text-anchor="end" font-size="11.0">4</text>
<text x="28.00" y="104.50" text-anchor="end" font-size="11.0">6</text>
<text x="28.00" y="75.84" text-anchor="end" font-size="11.0">8</text>
<text x="28.00" y="47.19" text-anchor="end" font-size="11.0">10</text>
<text x="28.00" y="18.53" text-anchor="end" font-size="11.0">12</text>
<text x="110.0" y="232.6" font-size="13.2">Calculated bandgap (eV)</text>
<text transform="translate(9.2,162.2) rotate(-90)" x="0" y="0" font-size="13.15">Predicted bandgap (eV)</text>
<text x="54.5" y="16.5" font-size="20.6">a</text>
<rect x="100.3" y="5.3" width="71.30" height="16.00" fill="#fff" stroke="#555" stroke-width="0.9"/>
<circle cx="115.2" cy="13.3" r="2.7" fill="#7fa8d6"/>
<text x="131.6" y="17.3" font-size="11.1">bandgap</text>
<text x="101.0" y="36.2" font-size="11.4">MAE=0.332 eV</text>
<g clip-path="url(#clipb)"><polygon points="453.6,150.5 453.6,152.8 457.1,150.4 465.1,144.9 465.1,144.9 475.1,138.5 475.3,138.4 486.2,132.9 496.1,127.1 503.0,121.8 503.1,121.8 509.1,117.7 509.1,117.6 520.1,110.6 520.1,110.6 530.1,104.2 530.2,104.1 541.2,98.1 551.0,91.3 564.0,80.9 564.0,80.9 575.0,72.5 575.2,72.4 585.1,66.4 596.1,58.8 604.1,53.4 615.0,44.8 625.0,37.0 632.9,29.5 632.9,29.5 639.8,23.3 641.6,21.1 641.5,21.1 635.0,26.0 634.9,26.0 626.9,31.5 626.9,31.6 616.9,37.9 616.8,38.0 605.8,44.0 597.9,49.5 597.8,49.5 597.7,49.6 586.7,54.6 576.9,60.4 565.9,68.4 565.9,68.5 552.9,77.9 552.9,77.9 542.9,84.8 542.8,84.9 531.8,90.9 521.9,97.7 511.1,105.7 505.1,111.7 505.0,111.9 498.0,117.2 497.9,117.3 487.9,123.6 476.9,130.7 467.0,137.5 459.1,144.9 453.6,150.5" fill="#3e72b4"/><g fill="#3e72b4" fill-opacity="0.6"><circle cx="606.0" cy="46.1" r="2.8"/><circle cx="604.3" cy="52.5" r="2.8"/><circle cx="489.4" cy="122.8" r="2.8"/><circle cx="514.5" cy="113.9" r="2.8"/><circle cx="549.5" cy="80.7" r="2.8"/><circle cx="488.8" cy="128.7" r="2.8"/><circle cx="460.4" cy="144.5" r="2.8"/><circle cx="545.0" cy="84.1" r="2.8"/><circle cx="488.2" cy="125.9" r="2.8"/><circle cx="520.2" cy="100.9" r="2.8"/><circle cx="497.9" cy="123.8" r="2.8"/><circle cx="540.8" cy="98.2" r="2.8"/><circle cx="469.7" cy="137.2" r="2.8"/><circle cx="603.7" cy="52.6" r="2.8"/><circle cx="587.1" cy="56.7" r="2.8"/><circle cx="582.5" cy="67.1" r="2.8"/><circle cx="510.1" cy="115.8" r="2.8"/><circle cx="508.1" cy="111.5" r="2.8"/><circle cx="546.4" cy="82.8" r="2.8"/><circle cx="486.4" cy="127.2" r="2.8"/><circle cx="564.6" cy="72.1" r="2.8"/><circle cx="544.1" cy="95.4" r="2.8"/><circle cx="614.1" cy="42.7" r="2.8"/><circle cx="514.0" cy="106.6" r="2.8"/><circle cx="497.9" cy="117.9" r="2.8"/><circle cx="523.2" cy="106.6" r="2.8"/><circle cx="520.3" cy="99.1" r="2.8"/><circle cx="535.5" cy="99.2" r="2.8"/><circle cx="586.0" cy="64.3" r="2.8"/><circle cx="513.8" cy="113.4" r="2.8"/><circle cx="638.4" cy="24.6" r="2.8"/><circle cx="457.2" cy="148.8" r="2.8"/><circle cx="539.3" cy="97.8" r="2.8"/><circle cx="609.3" cy="46.4" r="2.8"/><circle cx="538.0" cy="97.2" r="2.8"/><circle cx="623.8" cy="34.6" r="2.8"/><circle cx="636.8" cy="25.8" r="2.8"/><circle cx="502.3" cy="116.8" r="2.8"/><circle cx="573.9" cy="72.2" r="2.8"/><circle cx="622.7" cy="34.2" r="2.8"/><circle cx="618.9" cy="38.1" r="2.8"/><circle cx="587.2" cy="63.0" r="2.8"/><circle cx="462.7" cy="145.2" r="2.8"/><circle cx="607.3" cy="45.5" r="2.8"/><circle cx="507.5" cy="116.5" r="2.8"/><circle cx="493.6" cy="127.2" r="2.8"/><circle cx="625.5" cy="33.5" r="2.8"/><circle cx="509.0" cy="116.8" r="2.8"/><circle cx="576.5" cy="61.3" r="2.8"/><circle cx="588.4" cy="63.3" r="2.8"/><circle cx="527.6" cy="96.6" r="2.8"/><circle cx="605.6" cy="50.0" r="2.8"/><circle cx="596.7" cy="58.1" r="2.8"/><circle cx="503.2" cy="113.6" r="2.8"/><circle cx="614.7" cy="42.1" r="2.8"/><circle cx="514.5" cy="105.9" r="2.8"/><circle cx="600.3" cy="49.0" r="2.8"/><circle cx="636.3" cy="25.8" r="2.8"/><circle cx="558.6" cy="84.1" r="2.8"/><circle cx="530.2" cy="93.5" r="2.8"/><circle cx="571.5" cy="72.4" r="2.8"/><circle cx="546.6" cy="93.9" r="2.8"/><circle cx="544.1" cy="94.0" r="2.8"/><circle cx="461.8" cy="146.2" r="2.8"/><circle cx="480.9" cy="129.2" r="2.8"/><circle cx="586.5" cy="62.9" r="2.8"/><circle cx="537.2" cy="89.4" r="2.8"/><circle cx="500.4" cy="116.6" r="2.8"/><circle cx="498.2" cy="122.8" r="2.8"/><circle cx="613.5" cy="45.4" r="2.8"/><circle cx="485.4" cy="125.7" r="2.8"/><circle cx="465.8" cy="139.5" r="2.8"/><circle cx="552.1" cy="80.1" r="2.8"/><circle cx="584.9" cy="65.2" r="2.8"/><circle cx="589.6" cy="56.0" r="2.8"/><circle cx="597.7" cy="55.0" r="2.8"/><circle cx="548.4" cy="90.6" r="2.8"/><circle cx="515.9" cy="110.7" r="2.8"/><circle cx="479.9" cy="130.5" r="2.8"/><circle cx="503.2" cy="114.1" r="2.8"/><circle cx="617.4" cy="39.8" r="2.8"/><circle cx="572.7" cy="71.2" r="2.8"/><circle cx="469.7" cy="140.8" r="2.8"/><circle cx="454.3" cy="151.1" r="2.8"/><circle cx="456.9" cy="149.4" r="2.8"/><circle cx="509.7" cy="114.8" r="2.8"/><circle cx="512.7" cy="105.7" r="2.8"/><circle cx="612.1" cy="47.1" r="2.8"/><circle cx="459.4" cy="147.9" r="2.8"/><circle cx="604.1" cy="52.7" r="2.8"/><circle cx="564.8" cy="69.4" r="2.8"/><circle cx="638.1" cy="24.3" r="2.8"/><circle cx="467.3" cy="140.3" r="2.8"/><circle cx="627.5" cy="31.3" r="2.8"/><circle cx="488.1" cy="130.3" r="2.8"/><circle cx="593.0" cy="58.8" r="2.8"/><circle cx="588.9" cy="63.5" r="2.8"/><circle cx="601.4" cy="54.8" r="2.8"/><circle cx="616.1" cy="39.1" r="2.8"/><circle cx="552.7" cy="86.8" r="2.8"/><circle cx="462.0" cy="145.1" r="2.8"/><circle cx="460.7" cy="146.9" r="2.8"/><circle cx="559.3" cy="76.0" r="2.8"/><circle cx="499.8" cy="117.0" r="2.8"/><circle cx="514.0" cy="113.6" r="2.8"/><circle cx="516.5" cy="112.0" r="2.8"/><circle cx="633.7" cy="27.2" r="2.8"/><circle cx="497.9" cy="117.4" r="2.8"/><circle cx="592.1" cy="59.3" r="2.8"/><circle cx="630.7" cy="29.8" r="2.8"/><circle cx="581.6" cy="60.3" r="2.8"/><circle cx="537.9" cy="89.4" r="2.8"/><circle cx="618.4" cy="39.0" r="2.8"/><circle cx="581.6" cy="59.4" r="2.8"/><circle cx="632.7" cy="28.8" r="2.8"/><circle cx="501.0" cy="123.2" r="2.8"/><circle cx="614.8" cy="39.5" r="2.8"/><circle cx="517.6" cy="102.3" r="2.8"/><circle cx="574.0" cy="70.7" r="2.8"/><circle cx="519.7" cy="108.1" r="2.8"/><circle cx="542.0" cy="87.2" r="2.8"/><circle cx="531.0" cy="102.3" r="2.8"/><circle cx="494.5" cy="119.8" r="2.8"/><circle cx="503.9" cy="119.5" r="2.8"/><circle cx="621.8" cy="37.8" r="2.8"/><circle cx="516.4" cy="103.3" r="2.8"/><circle cx="618.0" cy="40.3" r="2.8"/><circle cx="583.8" cy="57.8" r="2.8"/><circle cx="466.9" cy="142.7" r="2.8"/><circle cx="579.0" cy="61.5" r="2.8"/><circle cx="619.0" cy="40.8" r="2.8"/><circle cx="461.3" cy="146.2" r="2.8"/><circle cx="611.0" cy="43.9" r="2.8"/><circle cx="619.1" cy="38.9" r="2.8"/><circle cx="615.3" cy="42.3" r="2.8"/><circle cx="619.9" cy="37.0" r="2.8"/><circle cx="559.0" cy="76.5" r="2.8"/><circle cx="507.7" cy="116.8" r="2.8"/><circle cx="600.1" cy="48.3" r="2.8"/><circle cx="568.0" cy="77.0" r="2.8"/><circle cx="530.3" cy="93.4" r="2.8"/><circle cx="542.7" cy="86.6" r="2.8"/><circle cx="494.3" cy="121.6" r="2.8"/><circle cx="482.5" cy="134.2" r="2.8"/><circle cx="619.6" cy="37.0" r="2.8"/><circle cx="605.2" cy="45.3" r="2.8"/><circle cx="582.8" cy="66.4" r="2.8"/><circle cx="625.1" cy="33.9" r="2.8"/><circle cx="489.2" cy="124.6" r="2.8"/><circle cx="516.3" cy="111.3" r="2.8"/><circle cx="561.6" cy="81.9" r="2.8"/><circle cx="493.2" cy="121.8" r="2.8"/><circle cx="515.4" cy="103.7" r="2.8"/><circle cx="561.4" cy="80.2" r="2.8"/><circle cx="474.3" cy="132.9" r="2.8"/><circle cx="575.7" cy="69.6" r="2.8"/><circle cx="639.8" cy="22.6" r="2.8"/><circle cx="484.2" cy="127.2" r="2.8"/><circle cx="506.9" cy="111.6" r="2.8"/><circle cx="462.2" cy="142.1" r="2.8"/><circle cx="526.6" cy="104.7" r="2.8"/><circle cx="580.1" cy="61.4" r="2.8"/><circle cx="622.5" cy="37.2" r="2.8"/><circle cx="576.6" cy="68.9" r="2.8"/><circle cx="494.2" cy="126.3" r="2.8"/><circle cx="581.1" cy="66.3" r="2.8"/><circle cx="505.6" cy="112.4" r="2.8"/><circle cx="482.3" cy="127.2" r="2.8"/><circle cx="611.5" cy="43.3" r="2.8"/><circle cx="584.1" cy="64.2" r="2.8"/><circle cx="465.7" cy="139.4" r="2.8"/><circle cx="604.1" cy="45.7" r="2.8"/><circle cx="558.9" cy="74.9" r="2.8"/><circle cx="546.0" cy="83.8" r="2.8"/><circle cx="563.0" cy="80.6" r="2.8"/><circle cx="604.4" cy="50.2" r="2.8"/><circle cx="533.5" cy="100.3" r="2.8"/><circle cx="485.4" cy="130.6" r="2.8"/><circle cx="536.1" cy="98.9" r="2.8"/><circle cx="561.9" cy="81.7" r="2.8"/><circle cx="609.9" cy="42.1" r="2.8"/><circle cx="552.6" cy="80.4" r="2.8"/><circle cx="529.4" cy="95.1" r="2.8"/><circle cx="505.9" cy="112.7" r="2.8"/><circle cx="596.8" cy="55.7" r="2.8"/><circle cx="492.8" cy="126.2" r="2.8"/><circle cx="585.0" cy="64.5" r="2.8"/><circle cx="463.0" cy="145.1" r="2.8"/><circle cx="533.4" cy="100.5" r="2.8"/><circle cx="551.3" cy="79.6" r="2.8"/><circle cx="459.8" cy="147.4" r="2.8"/><circle cx="596.0" cy="58.1" r="2.8"/><circle cx="583.2" cy="59.2" r="2.8"/><circle cx="495.2" cy="126.5" r="2.8"/><circle cx="489.4" cy="129.1" r="2.8"/><circle cx="562.4" cy="79.1" r="2.8"/><circle cx="598.1" cy="55.4" r="2.8"/><circle cx="617.5" cy="41.4" r="2.8"/><circle cx="583.2" cy="66.6" r="2.8"/><circle cx="503.6" cy="114.6" r="2.8"/><circle cx="609.1" cy="47.2" r="2.8"/><circle cx="617.6" cy="39.0" r="2.8"/><circle cx="574.1" cy="64.7" r="2.8"/><circle cx="513.9" cy="113.4" r="2.8"/><circle cx="593.4" cy="59.4" r="2.8"/><circle cx="500.2" cy="116.2" r="2.8"/><circle cx="558.1" cy="83.7" r="2.8"/><circle cx="463.0" cy="144.7" r="2.8"/><circle cx="581.9" cy="57.6" r="2.8"/><circle cx="555.9" cy="77.9" r="2.8"/><circle cx="482.9" cy="128.2" r="2.8"/><circle cx="546.3" cy="83.3" r="2.8"/><circle cx="474.7" cy="134.0" r="2.8"/><circle cx="563.6" cy="78.3" r="2.8"/><circle cx="586.9" cy="56.3" r="2.8"/><circle cx="561.1" cy="74.7" r="2.8"/><circle cx="544.3" cy="94.7" r="2.8"/><circle cx="546.2" cy="91.7" r="2.8"/><circle cx="577.2" cy="68.4" r="2.8"/><circle cx="476.7" cy="135.7" r="2.8"/><circle cx="567.6" cy="70.0" r="2.8"/><circle cx="554.3" cy="87.4" r="2.8"/><circle cx="589.9" cy="60.9" r="2.8"/><circle cx="603.7" cy="48.4" r="2.8"/><circle cx="573.0" cy="66.1" r="2.8"/><circle cx="551.2" cy="91.0" r="2.8"/><circle cx="482.0" cy="130.1" r="2.8"/><circle cx="630.6" cy="30.3" r="2.8"/><circle cx="610.4" cy="48.2" r="2.8"/><circle cx="514.0" cy="106.1" r="2.8"/><circle cx="546.8" cy="82.6" r="2.8"/><circle cx="550.1" cy="81.9" r="2.8"/><circle cx="606.1" cy="44.3" r="2.8"/><circle cx="484.6" cy="127.5" r="2.8"/><circle cx="615.2" cy="43.4" r="2.8"/><circle cx="459.4" cy="146.2" r="2.8"/><circle cx="603.3" cy="52.2" r="2.8"/><circle cx="611.5" cy="41.2" r="2.8"/><circle cx="474.7" cy="135.1" r="2.8"/><circle cx="497.1" cy="120.6" r="2.8"/><circle cx="619.6" cy="40.3" r="2.8"/><circle cx="503.1" cy="113.7" r="2.8"/><circle cx="516.9" cy="111.6" r="2.8"/><circle cx="537.7" cy="88.6" r="2.8"/><circle cx="474.0" cy="133.6" r="2.8"/><circle cx="616.3" cy="39.3" r="2.8"/><circle cx="526.6" cy="106.4" r="2.8"/><circle cx="548.6" cy="92.0" r="2.8"/><circle cx="505.3" cy="119.6" r="2.8"/><circle cx="600.3" cy="54.7" r="2.8"/><circle cx="542.1" cy="94.9" r="2.8"/><circle cx="484.3" cy="126.4" r="2.8"/><circle cx="602.8" cy="53.5" r="2.8"/><circle cx="484.4" cy="131.7" r="2.8"/><circle cx="580.2" cy="67.3" r="2.8"/><circle cx="467.6" cy="141.8" r="2.8"/><circle cx="495.5" cy="126.5" r="2.8"/><circle cx="492.1" cy="128.4" r="2.8"/><circle cx="587.4" cy="64.7" r="2.8"/><circle cx="535.0" cy="90.8" r="2.8"/><circle cx="512.2" cy="105.2" r="2.8"/><circle cx="459.3" cy="146.8" r="2.8"/><circle cx="543.1" cy="86.5" r="2.8"/><circle cx="593.1" cy="58.6" r="2.8"/><circle cx="560.2" cy="74.1" r="2.8"/><circle cx="493.1" cy="126.7" r="2.8"/><circle cx="625.6" cy="32.7" r="2.8"/><circle cx="494.9" cy="121.7" r="2.8"/><circle cx="475.7" cy="136.5" r="2.8"/><circle cx="551.2" cy="90.6" r="2.8"/><circle cx="544.6" cy="94.6" r="2.8"/><circle cx="495.8" cy="119.7" r="2.8"/><circle cx="484.4" cy="131.1" r="2.8"/><circle cx="534.7" cy="91.4" r="2.8"/><circle cx="615.1" cy="42.0" r="2.8"/><circle cx="461.5" cy="146.6" r="2.8"/><circle cx="556.1" cy="77.2" r="2.8"/><circle cx="525.3" cy="97.3" r="2.8"/><circle cx="590.0" cy="62.5" r="2.8"/><circle cx="609.3" cy="48.0" r="2.8"/><circle cx="467.4" cy="138.1" r="2.8"/><circle cx="465.1" cy="140.7" r="2.8"/><circle cx="564.4" cy="79.1" r="2.8"/><circle cx="453.6" cy="150.7" r="2.8"/><circle cx="494.8" cy="126.7" r="2.8"/><circle cx="571.9" cy="64.1" r="2.8"/><circle cx="529.3" cy="103.8" r="2.8"/><circle cx="591.8" cy="61.5" r="2.8"/><circle cx="489.5" cy="128.1" r="2.8"/><circle cx="460.6" cy="146.9" r="2.8"/><circle cx="615.2" cy="43.2" r="2.8"/><circle cx="507.9" cy="110.6" r="2.8"/><circle cx="525.5" cy="105.6" r="2.8"/><circle cx="500.3" cy="123.1" r="2.8"/><circle cx="519.4" cy="99.7" r="2.8"/><circle cx="563.9" cy="72.9" r="2.8"/><circle cx="473.5" cy="139.5" r="2.8"/><circle cx="603.9" cy="53.0" r="2.8"/><circle cx="521.5" cy="98.3" r="2.8"/><circle cx="462.4" cy="143.3" r="2.8"/><circle cx="568.5" cy="69.1" r="2.8"/><circle cx="547.4" cy="93.4" r="2.8"/><circle cx="555.8" cy="84.6" r="2.8"/><circle cx="640.7" cy="22.0" r="2.8"/><circle cx="587.4" cy="56.2" r="2.8"/><circle cx="463.6" cy="141.4" r="2.8"/><circle cx="488.5" cy="131.4" r="2.8"/><circle cx="474.7" cy="133.0" r="2.8"/><circle cx="463.5" cy="141.3" r="2.8"/><circle cx="564.8" cy="79.5" r="2.8"/><circle cx="532.8" cy="91.3" r="2.8"/><circle cx="461.4" cy="142.8" r="2.8"/><circle cx="527.3" cy="96.3" r="2.8"/><circle cx="626.1" cy="33.6" r="2.8"/><circle cx="465.8" cy="141.1" r="2.8"/><circle cx="488.6" cy="125.4" r="2.8"/><circle cx="596.5" cy="57.0" r="2.8"/><circle cx="620.5" cy="38.4" r="2.8"/><circle cx="563.0" cy="72.0" r="2.8"/><circle cx="474.1" cy="135.1" r="2.8"/><circle cx="582.2" cy="67.5" r="2.8"/><circle cx="616.2" cy="41.2" r="2.8"/><circle cx="472.4" cy="134.2" r="2.8"/><circle cx="469.5" cy="139.7" r="2.8"/><circle cx="588.2" cy="64.1" r="2.8"/><circle cx="509.7" cy="109.5" r="2.8"/><circle cx="490.5" cy="128.4" r="2.8"/><circle cx="605.1" cy="52.1" r="2.8"/><circle cx="570.7" cy="65.2" r="2.8"/><circle cx="571.7" cy="65.9" r="2.8"/><circle cx="536.0" cy="98.6" r="2.8"/><circle cx="503.1" cy="119.1" r="2.8"/><circle cx="479.5" cy="135.2" r="2.8"/><circle cx="504.9" cy="114.5" r="2.8"/><circle cx="475.4" cy="138.3" r="2.8"/><circle cx="472.2" cy="138.9" r="2.8"/><circle cx="620.9" cy="38.8" r="2.8"/><circle cx="607.8" cy="48.6" r="2.8"/><circle cx="498.7" cy="124.9" r="2.8"/><circle cx="540.8" cy="96.2" r="2.8"/><circle cx="594.1" cy="51.4" r="2.8"/><circle cx="559.2" cy="83.4" r="2.8"/><circle cx="512.0" cy="105.6" r="2.8"/><circle cx="568.6" cy="76.7" r="2.8"/><circle cx="508.9" cy="109.5" r="2.8"/><circle cx="614.9" cy="40.6" r="2.8"/><circle cx="538.5" cy="87.9" r="2.8"/><circle cx="598.2" cy="51.0" r="2.8"/><circle cx="596.8" cy="50.8" r="2.8"/><circle cx="540.5" cy="86.7" r="2.8"/><circle cx="599.0" cy="49.6" r="2.8"/><circle cx="477.3" cy="135.5" r="2.8"/><circle cx="622.1" cy="34.9" r="2.8"/><circle cx="637.8" cy="24.6" r="2.8"/><circle cx="611.6" cy="43.2" r="2.8"/><circle cx="550.9" cy="88.5" r="2.8"/><circle cx="561.3" cy="80.7" r="2.8"/><circle cx="487.9" cy="124.8" r="2.8"/><circle cx="603.5" cy="51.0" r="2.8"/><circle cx="551.5" cy="90.2" r="2.8"/><circle cx="473.6" cy="133.6" r="2.8"/><circle cx="511.5" cy="107.0" r="2.8"/><circle cx="535.8" cy="100.3" r="2.8"/><circle cx="478.8" cy="132.3" r="2.8"/><circle cx="493.8" cy="127.9" r="2.8"/><circle cx="507.2" cy="117.8" r="2.8"/><circle cx="470.3" cy="136.4" r="2.8"/><circle cx="498.3" cy="124.8" r="2.8"/><circle cx="460.6" cy="144.5" r="2.8"/><circle cx="606.6" cy="46.1" r="2.8"/><circle cx="584.4" cy="56.2" r="2.8"/><circle cx="558.5" cy="76.0" r="2.8"/><circle cx="616.2" cy="43.8" r="2.8"/><circle cx="615.2" cy="42.2" r="2.8"/><circle cx="557.3" cy="77.0" r="2.8"/><circle cx="614.8" cy="41.1" r="2.8"/><circle cx="483.4" cy="134.0" r="2.8"/><circle cx="620.4" cy="39.5" r="2.8"/><circle cx="559.7" cy="84.1" r="2.8"/><circle cx="593.0" cy="59.6" r="2.8"/><circle cx="498.1" cy="117.3" r="2.8"/><circle cx="557.6" cy="85.6" r="2.8"/><circle cx="614.1" cy="44.0" r="2.8"/><circle cx="636.6" cy="25.0" r="2.8"/><circle cx="612.1" cy="46.5" r="2.8"/><circle cx="509.0" cy="109.3" r="2.8"/><circle cx="526.6" cy="105.8" r="2.8"/><circle cx="581.8" cy="59.5" r="2.8"/><circle cx="609.7" cy="47.2" r="2.8"/><circle cx="576.9" cy="60.9" r="2.8"/><circle cx="472.4" cy="134.9" r="2.8"/><circle cx="558.4" cy="85.2" r="2.8"/><circle cx="545.1" cy="93.0" r="2.8"/><circle cx="573.8" cy="64.9" r="2.8"/><circle cx="458.3" cy="147.1" r="2.8"/><circle cx="500.6" cy="117.7" r="2.8"/><circle cx="613.5" cy="45.2" r="2.8"/><circle cx="560.6" cy="81.2" r="2.8"/><circle cx="572.8" cy="64.9" r="2.8"/><circle cx="466.0" cy="141.2" r="2.8"/><circle cx="620.9" cy="37.8" r="2.8"/><circle cx="559.8" cy="75.6" r="2.8"/><circle cx="502.9" cy="113.7" r="2.8"/><circle cx="520.9" cy="107.2" r="2.8"/><circle cx="495.4" cy="125.2" r="2.8"/><circle cx="570.0" cy="75.2" r="2.8"/><circle cx="568.3" cy="67.8" r="2.8"/><circle cx="602.3" cy="49.0" r="2.8"/><circle cx="470.3" cy="141.2" r="2.8"/><circle cx="506.6" cy="119.3" r="2.8"/><circle cx="528.7" cy="103.7" r="2.8"/><circle cx="514.1" cy="111.7" r="2.8"/><circle cx="537.3" cy="88.2" r="2.8"/><circle cx="563.2" cy="80.9" r="2.8"/><circle cx="593.0" cy="59.5" r="2.8"/><circle cx="606.4" cy="46.5" r="2.8"/><circle cx="535.2" cy="100.2" r="2.8"/><circle cx="590.1" cy="60.9" r="2.8"/><circle cx="595.5" cy="57.6" r="2.8"/><circle cx="510.6" cy="107.0" r="2.8"/><circle cx="457.8" cy="147.1" r="2.8"/><circle cx="518.8" cy="111.1" r="2.8"/><circle cx="596.8" cy="51.9" r="2.8"/><circle cx="551.5" cy="90.2" r="2.8"/><circle cx="562.0" cy="79.5" r="2.8"/><circle cx="509.4" cy="108.5" r="2.8"/><circle cx="495.5" cy="119.4" r="2.8"/><circle cx="540.1" cy="88.2" r="2.8"/><circle cx="612.3" cy="41.5" r="2.8"/><circle cx="582.9" cy="65.4" r="2.8"/><circle cx="478.6" cy="134.0" r="2.8"/><circle cx="459.5" cy="146.1" r="2.8"/><circle cx="539.4" cy="88.9" r="2.8"/><circle cx="467.3" cy="142.0" r="2.8"/><circle cx="496.1" cy="120.0" r="2.8"/><circle cx="611.1" cy="42.4" r="2.8"/><circle cx="519.2" cy="100.0" r="2.8"/><circle cx="464.3" cy="145.2" r="2.8"/><circle cx="567.4" cy="70.3" r="2.8"/><circle cx="585.7" cy="56.5" r="2.8"/><circle cx="608.9" cy="48.0" r="2.8"/><circle cx="640.8" cy="22.0" r="2.8"/><circle cx="498.6" cy="119.1" r="2.8"/><circle cx="501.5" cy="122.7" r="2.8"/><circle cx="473.1" cy="133.5" r="2.8"/><circle cx="488.8" cy="123.5" r="2.8"/><circle cx="568.9" cy="75.4" r="2.8"/><circle cx="562.4" cy="79.7" r="2.8"/><circle cx="609.1" cy="42.6" r="2.8"/><circle cx="530.0" cy="103.0" r="2.8"/><circle cx="507.1" cy="118.6" r="2.8"/><circle cx="460.8" cy="147.2" r="2.8"/><circle cx="472.3" cy="138.4" r="2.8"/><circle cx="549.5" cy="89.6" r="2.8"/><circle cx="488.0" cy="124.3" r="2.8"/><circle cx="602.0" cy="47.2" r="2.8"/><circle cx="555.0" cy="86.8" r="2.8"/><circle cx="612.6" cy="42.0" r="2.8"/><circle cx="572.5" cy="71.3" r="2.8"/><circle cx="530.3" cy="101.3" r="2.8"/><circle cx="581.1" cy="66.9" r="2.8"/><circle cx="553.5" cy="78.4" r="2.8"/><circle cx="567.5" cy="68.5" r="2.8"/><circle cx="471.1" cy="139.3" r="2.8"/><circle cx="601.9" cy="54.6" r="2.8"/><circle cx="488.2" cy="129.9" r="2.8"/><circle cx="479.0" cy="134.0" r="2.8"/><circle cx="467.4" cy="138.5" r="2.8"/><circle cx="585.9" cy="56.5" r="2.8"/><circle cx="469.5" cy="137.2" r="2.8"/><circle cx="519.6" cy="101.7" r="2.8"/><circle cx="522.7" cy="107.5" r="2.8"/><circle cx="607.3" cy="48.5" r="2.8"/><circle cx="505.8" cy="113.8" r="2.8"/><circle cx="604.8" cy="50.4" r="2.8"/><circle cx="602.6" cy="53.6" r="2.8"/><circle cx="578.2" cy="62.5" r="2.8"/><circle cx="454.2" cy="152.0" r="2.8"/><circle cx="560.4" cy="83.2" r="2.8"/><circle cx="553.7" cy="86.9" r="2.8"/><circle cx="500.9" cy="121.5" r="2.8"/><circle cx="552.6" cy="79.9" r="2.8"/><circle cx="586.7" cy="65.3" r="2.8"/><circle cx="539.0" cy="87.1" r="2.8"/><circle cx="491.5" cy="123.4" r="2.8"/><circle cx="504.2" cy="114.2" r="2.8"/><circle cx="617.7" cy="37.7" r="2.8"/><circle cx="610.6" cy="47.2" r="2.8"/><circle cx="560.4" cy="81.4" r="2.8"/><circle cx="581.8" cy="66.6" r="2.8"/><circle cx="595.7" cy="56.7" r="2.8"/><circle cx="618.3" cy="40.3" r="2.8"/><circle cx="465.6" cy="142.2" r="2.8"/><circle cx="555.4" cy="85.5" r="2.8"/><circle cx="463.0" cy="141.4" r="2.8"/><circle cx="587.2" cy="56.3" r="2.8"/><circle cx="554.4" cy="87.8" r="2.8"/><circle cx="501.7" cy="121.0" r="2.8"/><circle cx="622.8" cy="38.0" r="2.8"/><circle cx="577.3" cy="70.3" r="2.8"/><circle cx="575.8" cy="63.7" r="2.8"/><circle cx="582.5" cy="66.0" r="2.8"/><circle cx="540.6" cy="87.8" r="2.8"/><circle cx="582.1" cy="58.3" r="2.8"/><circle cx="486.2" cy="127.7" r="2.8"/><circle cx="530.0" cy="103.3" r="2.8"/><circle cx="529.7" cy="101.7" r="2.8"/><circle cx="623.9" cy="35.6" r="2.8"/><circle cx="544.7" cy="95.6" r="2.8"/><circle cx="484.2" cy="126.3" r="2.8"/><circle cx="605.7" cy="44.4" r="2.8"/><circle cx="533.7" cy="101.1" r="2.8"/><circle cx="576.3" cy="60.9" r="2.8"/><circle cx="472.9" cy="134.1" r="2.8"/><circle cx="624.3" cy="35.0" r="2.8"/><circle cx="481.1" cy="134.8" r="2.8"/><circle cx="619.0" cy="38.9" r="2.8"/><circle cx="585.0" cy="57.4" r="2.8"/><circle cx="548.8" cy="90.4" r="2.8"/><circle cx="609.9" cy="42.1" r="2.8"/><circle cx="624.1" cy="33.4" r="2.8"/><circle cx="519.9" cy="110.1" r="2.8"/><circle cx="559.1" cy="76.1" r="2.8"/><circle cx="483.0" cy="127.2" r="2.8"/><circle cx="469.4" cy="141.2" r="2.8"/><circle cx="481.1" cy="128.4" r="2.8"/><circle cx="463.6" cy="142.4" r="2.8"/><circle cx="526.2" cy="104.0" r="2.8"/><circle cx="470.0" cy="138.9" r="2.8"/><circle cx="495.9" cy="126.6" r="2.8"/><circle cx="515.2" cy="103.5" r="2.8"/><circle cx="567.1" cy="78.0" r="2.8"/><circle cx="582.0" cy="58.4" r="2.8"/><circle cx="514.2" cy="103.7" r="2.8"/><circle cx="532.3" cy="101.0" r="2.8"/><circle cx="511.5" cy="114.0" r="2.8"/><circle cx="561.1" cy="73.8" r="2.8"/><circle cx="609.3" cy="43.5" r="2.8"/><circle cx="572.9" cy="63.9" r="2.8"/><circle cx="615.3" cy="41.0" r="2.8"/><circle cx="624.3" cy="35.2" r="2.8"/><circle cx="550.1" cy="82.3" r="2.8"/><circle cx="475.5" cy="136.0" r="2.8"/><circle cx="598.3" cy="49.5" r="2.8"/><circle cx="623.1" cy="38.1" r="2.8"/><circle cx="547.0" cy="84.5" r="2.8"/><circle cx="624.4" cy="33.7" r="2.8"/><circle cx="531.5" cy="93.5" r="2.8"/><circle cx="563.3" cy="72.1" r="2.8"/><circle cx="529.2" cy="93.4" r="2.8"/><circle cx="535.9" cy="100.6" r="2.8"/><circle cx="518.7" cy="101.6" r="2.8"/><circle cx="531.6" cy="92.8" r="2.8"/><circle cx="517.7" cy="101.2" r="2.8"/><circle cx="592.8" cy="60.3" r="2.8"/><circle cx="454.2" cy="151.8" r="2.8"/><circle cx="591.0" cy="55.3" r="2.8"/><circle cx="533.1" cy="99.8" r="2.8"/><circle cx="560.3" cy="73.4" r="2.8"/><circle cx="490.0" cy="129.6" r="2.8"/><circle cx="532.7" cy="100.0" r="2.8"/><circle cx="520.6" cy="110.1" r="2.8"/><circle cx="531.7" cy="102.7" r="2.8"/><circle cx="542.7" cy="96.0" r="2.8"/><circle cx="550.4" cy="81.1" r="2.8"/><circle cx="484.8" cy="127.8" r="2.8"/><circle cx="592.0" cy="52.5" r="2.8"/><circle cx="485.7" cy="130.9" r="2.8"/><circle cx="600.7" cy="49.1" r="2.8"/><circle cx="563.5" cy="80.8" r="2.8"/><circle cx="571.0" cy="73.4" r="2.8"/><circle cx="513.4" cy="113.8" r="2.8"/><circle cx="466.9" cy="142.8" r="2.8"/><circle cx="561.8" cy="71.9" r="2.8"/><circle cx="571.0" cy="72.7" r="2.8"/><circle cx="610.6" cy="44.0" r="2.8"/><circle cx="617.6" cy="39.0" r="2.8"/><circle cx="613.6" cy="40.7" r="2.8"/><circle cx="535.0" cy="89.5" r="2.8"/><circle cx="569.6" cy="72.0" r="2.8"/><circle cx="577.7" cy="66.3" r="2.8"/><circle cx="497.6" cy="114.5" r="2.8"/><circle cx="586.3" cy="62.4" r="2.8"/><circle cx="617.0" cy="43.0" r="2.8"/><circle cx="534.3" cy="97.4" r="2.8"/><circle cx="504.3" cy="122.0" r="2.8"/><circle cx="557.0" cy="87.6" r="2.8"/><circle cx="460.7" cy="146.1" r="2.8"/><circle cx="585.0" cy="63.9" r="2.8"/><circle cx="479.3" cy="131.8" r="2.8"/><circle cx="541.5" cy="87.1" r="2.8"/><circle cx="604.3" cy="47.1" r="2.8"/><circle cx="552.4" cy="88.4" r="2.8"/><circle cx="490.9" cy="129.4" r="2.8"/><circle cx="488.3" cy="129.6" r="2.8"/><circle cx="573.5" cy="72.3" r="2.8"/><circle cx="601.2" cy="52.6" r="2.8"/><circle cx="491.0" cy="127.9" r="2.8"/><circle cx="493.1" cy="127.6" r="2.8"/><circle cx="534.3" cy="89.7" r="2.8"/><circle cx="521.2" cy="103.3" r="2.8"/><circle cx="469.6" cy="137.3" r="2.8"/><circle cx="495.1" cy="122.5" r="2.8"/><circle cx="580.1" cy="60.6" r="2.8"/><circle cx="470.4" cy="134.8" r="2.8"/><circle cx="502.4" cy="116.1" r="2.8"/><circle cx="484.7" cy="132.2" r="2.8"/><circle cx="490.1" cy="119.7" r="2.8"/><circle cx="569.2" cy="76.7" r="2.8"/><circle cx="626.8" cy="33.4" r="2.8"/><circle cx="497.0" cy="123.2" r="2.8"/><circle cx="581.7" cy="61.5" r="2.8"/><circle cx="566.3" cy="68.9" r="2.8"/><circle cx="604.4" cy="52.6" r="2.8"/><circle cx="569.8" cy="75.9" r="2.8"/><circle cx="479.1" cy="138.3" r="2.8"/><circle cx="590.6" cy="53.8" r="2.8"/><circle cx="517.0" cy="101.5" r="2.8"/><circle cx="500.2" cy="119.0" r="2.8"/><circle cx="547.9" cy="93.5" r="2.8"/><circle cx="503.6" cy="110.8" r="2.8"/><circle cx="519.1" cy="113.8" r="2.8"/><circle cx="509.5" cy="118.6" r="2.8"/><circle cx="507.2" cy="120.1" r="2.8"/><circle cx="553.1" cy="78.8" r="2.8"/><circle cx="534.9" cy="98.2" r="2.8"/><circle cx="514.4" cy="116.9" r="2.8"/><circle cx="577.1" cy="65.3" r="2.8"/><circle cx="578.0" cy="64.8" r="2.8"/><circle cx="592.8" cy="53.9" r="2.8"/><circle cx="512.1" cy="107.8" r="2.8"/><circle cx="487.0" cy="130.3" r="2.8"/><circle cx="521.6" cy="101.5" r="2.8"/><circle cx="627.2" cy="30.2" r="2.8"/><circle cx="487.6" cy="130.6" r="2.8"/><circle cx="557.8" cy="85.4" r="2.8"/><circle cx="612.8" cy="46.3" r="2.8"/><circle cx="472.9" cy="143.9" r="2.8"/><circle cx="471.5" cy="138.7" r="2.8"/><circle cx="516.0" cy="114.7" r="2.8"/><circle cx="521.6" cy="107.2" r="2.8"/><circle cx="558.7" cy="75.9" r="2.8"/><circle cx="537.0" cy="89.8" r="2.8"/><circle cx="542.5" cy="89.3" r="2.8"/><circle cx="534.6" cy="96.9" r="2.8"/><circle cx="510.1" cy="106.3" r="2.8"/><circle cx="514.6" cy="103.4" r="2.8"/><circle cx="530.0" cy="107.7" r="2.8"/><circle cx="517.1" cy="109.6" r="2.8"/><circle cx="531.6" cy="97.3" r="2.8"/><circle cx="506.8" cy="117.1" r="2.8"/><circle cx="556.6" cy="76.9" r="2.8"/><circle cx="515.3" cy="103.9" r="2.8"/><circle cx="512.7" cy="115.7" r="2.8"/><circle cx="548.2" cy="91.1" r="2.8"/><circle cx="547.5" cy="81.6" r="2.8"/><circle cx="533.3" cy="93.5" r="2.8"/><circle cx="520.8" cy="106.3" r="2.8"/><circle cx="526.9" cy="98.9" r="2.8"/><circle cx="526.4" cy="104.4" r="2.8"/><circle cx="559.4" cy="81.8" r="2.8"/><circle cx="559.5" cy="84.5" r="2.8"/><circle cx="502.7" cy="120.2" r="2.8"/><circle cx="518.8" cy="113.0" r="2.8"/><circle cx="501.3" cy="125.2" r="2.8"/><circle cx="498.1" cy="118.8" r="2.8"/><circle cx="538.2" cy="90.8" r="2.8"/><circle cx="508.0" cy="121.3" r="2.8"/><circle cx="517.6" cy="100.8" r="2.8"/><circle cx="423.1" cy="170.0" r="2.8"/><circle cx="436.7" cy="159.9" r="2.8"/><circle cx="440.9" cy="159.1" r="2.8"/><circle cx="444.1" cy="155.3" r="2.8"/><circle cx="441.3" cy="145.5" r="2.8"/><circle cx="453.5" cy="149.0" r="2.8"/><circle cx="454.5" cy="147.4" r="2.8"/><circle cx="459.7" cy="141.7" r="2.8"/><circle cx="462.9" cy="138.2" r="2.8"/><circle cx="468.1" cy="145.9" r="2.8"/><circle cx="476.1" cy="147.4" r="2.8"/><circle cx="474.8" cy="142.8" r="2.8"/><circle cx="493.6" cy="140.0" r="2.8"/><circle cx="501.6" cy="130.2" r="2.8"/><circle cx="506.8" cy="131.3" r="2.8"/><circle cx="511.0" cy="123.9" r="2.8"/><circle cx="515.8" cy="122.9" r="2.8"/><circle cx="469.6" cy="121.4" r="2.8"/><circle cx="448.9" cy="108.2" r="2.8"/><circle cx="465.0" cy="105.1" r="2.8"/><circle cx="479.2" cy="104.5" r="2.8"/><circle cx="467.1" cy="84.2" r="2.8"/><circle cx="492.2" cy="96.7" r="2.8"/><circle cx="493.2" cy="89.4" r="2.8"/><circle cx="498.5" cy="87.3" r="2.8"/><circle cx="501.6" cy="94.2" r="2.8"/><circle cx="508.9" cy="91.5" r="2.8"/><circle cx="500.1" cy="106.2" r="2.8"/><circle cx="497.8" cy="111.8" r="2.8"/><circle cx="519.4" cy="95.7" r="2.8"/><circle cx="527.3" cy="117.2" r="2.8"/><circle cx="537.2" cy="112.4" r="2.8"/><circle cx="520.4" cy="117.7" r="2.8"/><circle cx="520.4" cy="117.7" r="2.8"/><circle cx="539.4" cy="80.7" r="2.8"/><circle cx="549.9" cy="73.2" r="2.8"/><circle cx="562.4" cy="66.5" r="2.8"/><circle cx="586.5" cy="51.4" r="2.8"/><circle cx="566.6" cy="93.7" r="2.8"/><circle cx="552.0" cy="98.9" r="2.8"/><circle cx="584.0" cy="72.1" r="2.8"/><circle cx="572.9" cy="80.1" r="2.8"/><circle cx="577.1" cy="76.5" r="2.8"/><circle cx="621.0" cy="44.5" r="2.8"/><circle cx="627.3" cy="37.6" r="2.8"/><circle cx="544.6" cy="110.3" r="2.8"/><circle cx="554.6" cy="114.6" r="2.8"/><circle cx="510.4" cy="51.5" r="2.8"/><circle cx="597.5" cy="110.7" r="2.8"/><circle cx="460.2" cy="185.8" r="2.8"/><circle cx="476.2" cy="147.8" r="2.8"/><circle cx="475.2" cy="142.8" r="2.8"/><circle cx="441.9" cy="145.3" r="2.8"/><circle cx="506.6" cy="131.5" r="2.8"/><circle cx="502.2" cy="130.2" r="2.8"/><circle cx="510.4" cy="123.9" r="2.8"/><circle cx="515.4" cy="122.7" r="2.8"/><circle cx="493.8" cy="139.6" r="2.8"/><circle cx="643.0" cy="18.4" r="2.8"/><circle cx="422.8" cy="169.4" r="2.8"/><circle cx="436.4" cy="159.5" r="2.8"/><circle cx="441.1" cy="157.9" r="2.8"/><circle cx="443.7" cy="155.3" r="2.8"/><circle cx="453.7" cy="149.0" r="2.8"/><circle cx="455.2" cy="147.5" r="2.8"/><circle cx="461.0" cy="142.2" r="2.8"/><circle cx="463.6" cy="137.5" r="2.8"/><circle cx="466.2" cy="143.8" r="2.8"/><circle cx="468.3" cy="145.9" r="2.8"/></g></g>
<line x1="382.60" y1="200.60" x2="673.70" y2="0.40" stroke="#000" stroke-width="1.45" stroke-dasharray="5.4,4.37"/>
<line x1="400.79" y1="200.60" x2="400.79" y2="192.60" stroke="#000" stroke-width="1.4"/>
<line x1="418.99" y1="200.60" x2="418.99" y2="196.60" stroke="#000" stroke-width="1.4"/>
<line x1="437.18" y1="200.60" x2="437.18" y2="192.60" stroke="#000" stroke-width="1.4"/>
<line x1="455.38" y1="200.60" x2="455.38" y2="196.60" stroke="#000" stroke-width="1.4"/>
<line x1="473.57" y1="200.60" x2="473.57" y2="192.60" stroke="#000" stroke-width="1.4"/>
<line x1="491.76" y1="200.60" x2="491.76" y2="196.60" stroke="#000" stroke-width="1.4"/>
<line x1="509.96" y1="200.60" x2="509.96" y2="192.60" stroke="#000" stroke-width="1.4"/>
<line x1="528.15" y1="200.60" x2="528.15" y2="196.60" stroke="#000" stroke-width="1.4"/>
<line x1="546.34" y1="200.60" x2="546.34" y2="192.60" stroke="#000" stroke-width="1.4"/>
<line x1="564.54" y1="200.60" x2="564.54" y2="196.60" stroke="#000" stroke-width="1.4"/>
<line x1="582.73" y1="200.60" x2="582.73" y2="192.60" stroke="#000" stroke-width="1.4"/>
<line x1="600.93" y1="200.60" x2="600.93" y2="196.60" stroke="#000" stroke-width="1.4"/>
<line x1="619.12" y1="200.60" x2="619.12" y2="192.60" stroke="#000" stroke-width="1.4"/>
<line x1="637.31" y1="200.60" x2="637.31" y2="196.60" stroke="#000" stroke-width="1.4"/>
<line x1="655.51" y1="200.60" x2="655.51" y2="192.60" stroke="#000" stroke-width="1.4"/>
<line x1="382.60" y1="188.09" x2="390.60" y2="188.09" stroke="#000" stroke-width="1.4"/>
<line x1="382.60" y1="175.57" x2="386.60" y2="175.57" stroke="#000" stroke-width="1.4"/>
<line x1="382.60" y1="163.06" x2="390.60" y2="163.06" stroke="#000" stroke-width="1.4"/>
<line x1="382.60" y1="150.55" x2="386.60" y2="150.55" stroke="#000" stroke-width="1.4"/>
<line x1="382.60" y1="138.04" x2="390.60" y2="138.04" stroke="#000" stroke-width="1.4"/>
<line x1="382.60" y1="125.53" x2="386.60" y2="125.53" stroke="#000" stroke-width="1.4"/>
<line x1="382.60" y1="113.01" x2="390.60" y2="113.01" stroke="#000" stroke-width="1.4"/>
<line x1="382.60" y1="100.50" x2="386.60" y2="100.50" stroke="#000" stroke-width="1.4"/>
<line x1="382.60" y1="87.99" x2="390.60" y2="87.99" stroke="#000" stroke-width="1.4"/>
<line x1="382.60" y1="75.47" x2="386.60" y2="75.47" stroke="#000" stroke-width="1.4"/>
<line x1="382.60" y1="62.96" x2="390.60" y2="62.96" stroke="#000" stroke-width="1.4"/>
<line x1="382.60" y1="50.45" x2="386.60" y2="50.45" stroke="#000" stroke-width="1.4"/>
<line x1="382.60" y1="37.94" x2="390.60" y2="37.94" stroke="#000" stroke-width="1.4"/>
<line x1="382.60" y1="25.43" x2="386.60" y2="25.43" stroke="#000" stroke-width="1.4"/>
<line x1="382.60" y1="12.91" x2="390.60" y2="12.91" stroke="#000" stroke-width="1.4"/>
<rect x="382.60" y="0.40" width="291.10" height="200.20" fill="none" stroke="#000" stroke-width="1.5"/>
<text x="400.79" y="218.60" text-anchor="middle" font-size="11.0">-14</text>
<text x="437.18" y="218.60" text-anchor="middle" font-size="11.0">-12</text>
<text x="473.57" y="218.60" text-anchor="middle" font-size="11.0">-10</text>
<text x="509.96" y="218.60" text-anchor="middle" font-size="11.0">-8</text>
<text x="546.34" y="218.60" text-anchor="middle" font-size="11.0">-6</text>
<text x="582.73" y="218.60" text-anchor="middle" font-size="11.0">-4</text>
<text x="619.12" y="218.60" text-anchor="middle" font-size="11.0">-2</text>
<text x="655.51" y="218.60" text-anchor="middle" font-size="11.0">0</text>
<text x="373.80" y="191.89" text-anchor="end" font-size="11.0">-14</text>
<text x="373.80" y="166.86" text-anchor="end" font-size="11.0">-12</text>
<text x="373.80" y="141.84" text-anchor="end" font-size="11.0">-10</text>
<text x="373.80" y="116.81" text-anchor="end" font-size="11.0">-8</text>
<text x="373.80" y="91.79" text-anchor="end" font-size="11.0">-6</text>
<text x="373.80" y="66.76" text-anchor="end" font-size="11.0">-4</text>
<text x="373.80" y="41.74" text-anchor="end" font-size="11.0">-2</text>
<text x="373.80" y="16.71" text-anchor="end" font-size="11.0">0</text>
<text x="439.2" y="231.7" font-size="13.1">Calculated total energy (eV/atom)</text>
<text transform="translate(350.0,186.5) rotate(-90)" x="0" y="0" font-size="13.15">Predicted total energy (eV/atom)</text>
<text x="400.5" y="21.5" font-size="20.6">b</text>
<rect x="431.6" y="4.5" width="129.20" height="15.80" fill="#fff" stroke="#555" stroke-width="0.9"/>
<circle cx="446.4" cy="12.4" r="2.7" fill="#7fa8d6"/>
<text x="462.6" y="16.0" font-size="11.3">total energy per atom</text>
<text x="433.2" y="35.4" font-size="11.4">MAE=0.105eV/atom</text>
<g clip-path="url(#clipc)"><polygon points="73.6,412.8 73.6,413.9 79.7,409.0 79.8,408.9 79.9,408.8 80.1,408.8 80.2,408.7 85.4,407.1 91.9,403.6 92.1,403.5 102.3,399.5 112.2,393.6 122.1,387.3 122.2,387.2 132.2,381.8 132.3,381.8 142.2,377.0 152.1,370.6 162.1,363.6 172.1,356.4 192.0,341.7 201.9,332.8 211.9,324.0 212.0,323.9 222.0,316.0 222.2,315.9 232.2,310.0 232.2,310.0 246.2,302.4 256.1,296.5 263.9,291.2 268.4,285.4 268.4,281.0 265.5,281.9 257.5,284.4 257.4,284.4 247.7,287.2 233.9,296.7 223.9,303.6 214.0,311.4 213.9,311.5 203.9,317.9 203.8,317.9 193.8,323.9 183.9,330.2 183.8,330.2 173.8,336.1 173.6,336.2 163.9,340.4 154.0,348.7 144.1,357.5 144.0,357.6 143.8,357.7 143.7,357.8 133.7,362.7 123.9,367.5 114.1,376.2 114.0,376.2 104.0,384.6 103.9,384.7 103.8,384.8 103.7,384.9 93.6,389.4 87.2,394.7 82.0,401.2 73.6,412.8" fill="#3e72b4"/><g fill="#3e72b4" fill-opacity="0.6"><circle cx="144.1" cy="373.9" r="2.8"/><circle cx="161.7" cy="342.9" r="2.8"/><circle cx="182.9" cy="333.5" r="2.8"/><circle cx="225.1" cy="311.8" r="2.8"/><circle cx="115.8" cy="389.2" r="2.8"/><circle cx="200.9" cy="321.4" r="2.8"/><circle cx="90.7" cy="401.7" r="2.8"/><circle cx="244.4" cy="302.6" r="2.8"/><circle cx="200.1" cy="321.4" r="2.8"/><circle cx="162.5" cy="344.5" r="2.8"/><circle cx="150.0" cy="370.1" r="2.8"/><circle cx="226.1" cy="304.2" r="2.8"/><circle cx="190.8" cy="328.0" r="2.8"/><circle cx="91.2" cy="402.0" r="2.8"/><circle cx="145.1" cy="374.8" r="2.8"/><circle cx="120.9" cy="370.2" r="2.8"/><circle cx="103.5" cy="386.1" r="2.8"/><circle cx="133.3" cy="364.0" r="2.8"/><circle cx="184.8" cy="330.2" r="2.8"/><circle cx="102.6" cy="396.9" r="2.8"/><circle cx="220.8" cy="308.9" r="2.8"/><circle cx="244.1" cy="301.9" r="2.8"/><circle cx="207.7" cy="315.5" r="2.8"/><circle cx="178.7" cy="334.0" r="2.8"/><circle cx="148.9" cy="371.0" r="2.8"/><circle cx="156.8" cy="365.4" r="2.8"/><circle cx="175.5" cy="336.7" r="2.8"/><circle cx="89.5" cy="394.0" r="2.8"/><circle cx="214.4" cy="311.7" r="2.8"/><circle cx="114.4" cy="376.5" r="2.8"/><circle cx="181.4" cy="347.1" r="2.8"/><circle cx="218.3" cy="316.7" r="2.8"/><circle cx="135.4" cy="379.9" r="2.8"/><circle cx="111.7" cy="391.2" r="2.8"/><circle cx="89.5" cy="404.5" r="2.8"/><circle cx="188.1" cy="343.6" r="2.8"/><circle cx="240.3" cy="294.3" r="2.8"/><circle cx="106.2" cy="395.6" r="2.8"/><circle cx="238.2" cy="296.4" r="2.8"/><circle cx="91.9" cy="402.1" r="2.8"/><circle cx="227.1" cy="303.0" r="2.8"/><circle cx="231.5" cy="299.5" r="2.8"/><circle cx="212.7" cy="322.0" r="2.8"/><circle cx="123.9" cy="367.5" r="2.8"/><circle cx="188.1" cy="342.9" r="2.8"/><circle cx="263.7" cy="283.9" r="2.8"/><circle cx="221.4" cy="316.5" r="2.8"/><circle cx="115.1" cy="378.5" r="2.8"/><circle cx="158.4" cy="365.1" r="2.8"/><circle cx="109.1" cy="393.6" r="2.8"/><circle cx="217.8" cy="318.4" r="2.8"/><circle cx="125.1" cy="367.0" r="2.8"/><circle cx="267.4" cy="283.4" r="2.8"/><circle cx="247.9" cy="287.2" r="2.8"/><circle cx="238.3" cy="296.0" r="2.8"/><circle cx="162.1" cy="360.6" r="2.8"/><circle cx="111.3" cy="380.9" r="2.8"/><circle cx="116.9" cy="387.8" r="2.8"/><circle cx="231.8" cy="300.5" r="2.8"/><circle cx="81.5" cy="403.7" r="2.8"/><circle cx="212.1" cy="314.3" r="2.8"/><circle cx="90.7" cy="402.2" r="2.8"/><circle cx="215.4" cy="312.6" r="2.8"/><circle cx="160.1" cy="346.7" r="2.8"/><circle cx="78.0" cy="408.7" r="2.8"/><circle cx="188.7" cy="341.5" r="2.8"/><circle cx="215.4" cy="321.0" r="2.8"/><circle cx="111.8" cy="393.6" r="2.8"/><circle cx="198.8" cy="322.3" r="2.8"/><circle cx="264.7" cy="283.1" r="2.8"/><circle cx="122.8" cy="370.2" r="2.8"/><circle cx="119.0" cy="374.9" r="2.8"/><circle cx="213.2" cy="320.0" r="2.8"/><circle cx="227.8" cy="310.1" r="2.8"/><circle cx="142.2" cy="360.1" r="2.8"/><circle cx="78.1" cy="407.3" r="2.8"/><circle cx="208.2" cy="316.1" r="2.8"/><circle cx="188.4" cy="343.3" r="2.8"/><circle cx="86.5" cy="405.3" r="2.8"/><circle cx="246.0" cy="290.6" r="2.8"/><circle cx="165.0" cy="360.0" r="2.8"/><circle cx="193.2" cy="338.5" r="2.8"/><circle cx="165.3" cy="340.0" r="2.8"/><circle cx="125.7" cy="367.3" r="2.8"/><circle cx="90.7" cy="393.7" r="2.8"/><circle cx="119.4" cy="372.1" r="2.8"/><circle cx="121.1" cy="371.1" r="2.8"/><circle cx="209.9" cy="324.8" r="2.8"/><circle cx="106.9" cy="385.0" r="2.8"/><circle cx="153.6" cy="369.5" r="2.8"/><circle cx="231.2" cy="310.1" r="2.8"/><circle cx="81.0" cy="408.5" r="2.8"/><circle cx="133.4" cy="364.5" r="2.8"/><circle cx="78.3" cy="407.7" r="2.8"/><circle cx="176.1" cy="351.9" r="2.8"/><circle cx="176.8" cy="334.9" r="2.8"/><circle cx="155.2" cy="350.3" r="2.8"/><circle cx="100.7" cy="388.4" r="2.8"/><circle cx="189.6" cy="327.8" r="2.8"/><circle cx="185.3" cy="345.3" r="2.8"/><circle cx="105.9" cy="383.8" r="2.8"/><circle cx="167.1" cy="359.7" r="2.8"/><circle cx="254.1" cy="297.2" r="2.8"/><circle cx="96.7" cy="388.2" r="2.8"/><circle cx="176.5" cy="336.1" r="2.8"/><circle cx="179.3" cy="333.1" r="2.8"/><circle cx="264.4" cy="287.8" r="2.8"/><circle cx="264.9" cy="286.2" r="2.8"/><circle cx="124.7" cy="383.7" r="2.8"/><circle cx="221.3" cy="316.5" r="2.8"/><circle cx="139.7" cy="360.8" r="2.8"/><circle cx="240.4" cy="292.3" r="2.8"/><circle cx="238.2" cy="304.8" r="2.8"/><circle cx="205.2" cy="318.8" r="2.8"/><circle cx="115.1" cy="390.1" r="2.8"/><circle cx="132.5" cy="380.9" r="2.8"/><circle cx="175.7" cy="351.0" r="2.8"/><circle cx="176.3" cy="351.3" r="2.8"/><circle cx="151.8" cy="352.2" r="2.8"/><circle cx="219.5" cy="316.5" r="2.8"/><circle cx="97.8" cy="399.2" r="2.8"/><circle cx="208.1" cy="327.0" r="2.8"/><circle cx="113.3" cy="378.5" r="2.8"/><circle cx="140.1" cy="375.8" r="2.8"/><circle cx="157.9" cy="345.4" r="2.8"/><circle cx="239.2" cy="294.3" r="2.8"/><circle cx="163.9" cy="361.4" r="2.8"/><circle cx="259.2" cy="292.4" r="2.8"/><circle cx="204.7" cy="319.6" r="2.8"/><circle cx="158.1" cy="345.7" r="2.8"/><circle cx="160.7" cy="364.5" r="2.8"/><circle cx="83.3" cy="399.9" r="2.8"/><circle cx="249.0" cy="299.3" r="2.8"/><circle cx="263.0" cy="289.7" r="2.8"/><circle cx="183.0" cy="345.3" r="2.8"/><circle cx="86.9" cy="396.1" r="2.8"/><circle cx="94.5" cy="390.0" r="2.8"/><circle cx="125.0" cy="367.8" r="2.8"/><circle cx="82.7" cy="401.9" r="2.8"/><circle cx="159.8" cy="347.0" r="2.8"/><circle cx="94.5" cy="390.6" r="2.8"/><circle cx="155.1" cy="350.4" r="2.8"/><circle cx="190.8" cy="341.9" r="2.8"/><circle cx="162.0" cy="363.2" r="2.8"/><circle cx="237.7" cy="295.0" r="2.8"/><circle cx="163.4" cy="360.7" r="2.8"/><circle cx="163.5" cy="341.7" r="2.8"/><circle cx="216.0" cy="319.9" r="2.8"/><circle cx="150.5" cy="352.7" r="2.8"/><circle cx="186.7" cy="330.9" r="2.8"/><circle cx="252.1" cy="296.6" r="2.8"/><circle cx="106.7" cy="396.2" r="2.8"/><circle cx="89.6" cy="404.0" r="2.8"/><circle cx="156.5" cy="367.3" r="2.8"/><circle cx="229.8" cy="299.9" r="2.8"/><circle cx="95.9" cy="390.5" r="2.8"/><circle cx="81.2" cy="402.6" r="2.8"/><circle cx="203.3" cy="329.8" r="2.8"/><circle cx="138.1" cy="376.8" r="2.8"/><circle cx="121.2" cy="372.4" r="2.8"/><circle cx="141.8" cy="376.7" r="2.8"/><circle cx="132.7" cy="381.5" r="2.8"/><circle cx="91.7" cy="402.9" r="2.8"/><circle cx="97.5" cy="388.5" r="2.8"/><circle cx="245.0" cy="301.1" r="2.8"/><circle cx="157.3" cy="347.0" r="2.8"/><circle cx="160.8" cy="343.0" r="2.8"/><circle cx="224.3" cy="305.8" r="2.8"/><circle cx="195.4" cy="337.3" r="2.8"/><circle cx="151.7" cy="370.6" r="2.8"/><circle cx="267.6" cy="282.0" r="2.8"/><circle cx="197.9" cy="334.8" r="2.8"/><circle cx="168.1" cy="340.9" r="2.8"/><circle cx="177.0" cy="334.2" r="2.8"/><circle cx="245.3" cy="300.2" r="2.8"/><circle cx="181.3" cy="332.1" r="2.8"/><circle cx="179.6" cy="348.2" r="2.8"/><circle cx="234.5" cy="296.4" r="2.8"/><circle cx="202.8" cy="330.6" r="2.8"/><circle cx="90.1" cy="404.6" r="2.8"/><circle cx="200.1" cy="332.5" r="2.8"/><circle cx="102.8" cy="387.8" r="2.8"/><circle cx="254.0" cy="295.1" r="2.8"/><circle cx="228.8" cy="300.9" r="2.8"/><circle cx="238.7" cy="294.8" r="2.8"/><circle cx="91.8" cy="401.2" r="2.8"/><circle cx="267.2" cy="284.3" r="2.8"/><circle cx="116.0" cy="389.4" r="2.8"/><circle cx="148.2" cy="354.4" r="2.8"/><circle cx="123.5" cy="385.6" r="2.8"/><circle cx="89.4" cy="394.7" r="2.8"/><circle cx="186.2" cy="343.0" r="2.8"/><circle cx="125.6" cy="383.2" r="2.8"/><circle cx="194.0" cy="325.9" r="2.8"/><circle cx="118.0" cy="376.1" r="2.8"/><circle cx="140.4" cy="375.6" r="2.8"/><circle cx="168.3" cy="357.0" r="2.8"/><circle cx="105.1" cy="395.7" r="2.8"/><circle cx="202.1" cy="332.1" r="2.8"/><circle cx="187.8" cy="342.3" r="2.8"/><circle cx="106.5" cy="396.0" r="2.8"/><circle cx="195.4" cy="323.8" r="2.8"/><circle cx="205.2" cy="317.1" r="2.8"/><circle cx="146.2" cy="356.9" r="2.8"/><circle cx="92.1" cy="392.8" r="2.8"/><circle cx="125.7" cy="368.8" r="2.8"/><circle cx="80.4" cy="405.0" r="2.8"/><circle cx="161.9" cy="344.0" r="2.8"/><circle cx="223.5" cy="313.1" r="2.8"/><circle cx="180.3" cy="350.3" r="2.8"/><circle cx="158.4" cy="365.8" r="2.8"/><circle cx="126.3" cy="367.8" r="2.8"/><circle cx="150.4" cy="353.8" r="2.8"/><circle cx="212.9" cy="321.7" r="2.8"/><circle cx="169.0" cy="338.4" r="2.8"/><circle cx="180.2" cy="332.9" r="2.8"/><circle cx="186.9" cy="328.9" r="2.8"/><circle cx="85.6" cy="405.6" r="2.8"/><circle cx="241.5" cy="292.1" r="2.8"/><circle cx="177.7" cy="350.1" r="2.8"/><circle cx="254.8" cy="287.5" r="2.8"/><circle cx="118.2" cy="375.3" r="2.8"/><circle cx="127.7" cy="366.7" r="2.8"/><circle cx="190.7" cy="339.8" r="2.8"/><circle cx="123.3" cy="370.7" r="2.8"/><circle cx="227.3" cy="303.4" r="2.8"/><circle cx="195.1" cy="324.7" r="2.8"/><circle cx="141.2" cy="360.6" r="2.8"/><circle cx="225.6" cy="305.2" r="2.8"/><circle cx="169.2" cy="356.5" r="2.8"/><circle cx="174.6" cy="352.7" r="2.8"/><circle cx="241.4" cy="303.6" r="2.8"/><circle cx="102.1" cy="399.4" r="2.8"/><circle cx="225.2" cy="313.1" r="2.8"/><circle cx="162.1" cy="345.1" r="2.8"/><circle cx="98.6" cy="389.2" r="2.8"/><circle cx="182.6" cy="332.4" r="2.8"/><circle cx="120.5" cy="373.4" r="2.8"/><circle cx="155.6" cy="365.3" r="2.8"/><circle cx="138.5" cy="360.4" r="2.8"/><circle cx="258.8" cy="292.6" r="2.8"/><circle cx="252.7" cy="298.4" r="2.8"/><circle cx="168.5" cy="339.4" r="2.8"/><circle cx="242.2" cy="291.5" r="2.8"/><circle cx="212.3" cy="315.0" r="2.8"/><circle cx="200.7" cy="331.6" r="2.8"/><circle cx="150.2" cy="354.2" r="2.8"/><circle cx="173.7" cy="338.8" r="2.8"/><circle cx="225.1" cy="312.4" r="2.8"/><circle cx="184.4" cy="346.8" r="2.8"/><circle cx="112.0" cy="391.6" r="2.8"/><circle cx="207.3" cy="327.3" r="2.8"/><circle cx="101.5" cy="397.5" r="2.8"/><circle cx="204.7" cy="328.4" r="2.8"/><circle cx="104.7" cy="385.3" r="2.8"/><circle cx="90.4" cy="393.0" r="2.8"/><circle cx="236.3" cy="305.7" r="2.8"/><circle cx="190.5" cy="341.4" r="2.8"/><circle cx="170.9" cy="339.9" r="2.8"/><circle cx="179.1" cy="333.5" r="2.8"/><circle cx="250.0" cy="288.0" r="2.8"/><circle cx="122.5" cy="384.5" r="2.8"/><circle cx="127.1" cy="383.7" r="2.8"/><circle cx="237.1" cy="295.3" r="2.8"/><circle cx="237.1" cy="297.3" r="2.8"/><circle cx="176.6" cy="350.3" r="2.8"/><circle cx="102.6" cy="399.1" r="2.8"/><circle cx="143.1" cy="375.0" r="2.8"/><circle cx="201.7" cy="319.4" r="2.8"/><circle cx="122.7" cy="370.9" r="2.8"/><circle cx="204.3" cy="329.4" r="2.8"/><circle cx="239.3" cy="295.8" r="2.8"/><circle cx="167.3" cy="341.5" r="2.8"/><circle cx="172.7" cy="354.5" r="2.8"/><circle cx="258.1" cy="284.6" r="2.8"/><circle cx="77.7" cy="407.1" r="2.8"/><circle cx="109.3" cy="394.7" r="2.8"/><circle cx="185.3" cy="345.7" r="2.8"/><circle cx="166.4" cy="340.2" r="2.8"/><circle cx="257.2" cy="294.3" r="2.8"/><circle cx="160.7" cy="362.0" r="2.8"/><circle cx="185.1" cy="330.2" r="2.8"/><circle cx="234.2" cy="299.4" r="2.8"/><circle cx="182.2" cy="345.8" r="2.8"/><circle cx="221.9" cy="305.7" r="2.8"/><circle cx="213.4" cy="312.7" r="2.8"/><circle cx="89.0" cy="395.7" r="2.8"/><circle cx="257.8" cy="294.7" r="2.8"/><circle cx="167.1" cy="357.6" r="2.8"/><circle cx="119.9" cy="372.4" r="2.8"/><circle cx="224.0" cy="306.7" r="2.8"/><circle cx="267.2" cy="285.3" r="2.8"/><circle cx="260.2" cy="292.5" r="2.8"/><circle cx="184.4" cy="330.6" r="2.8"/><circle cx="167.6" cy="339.5" r="2.8"/><circle cx="131.7" cy="380.2" r="2.8"/><circle cx="181.9" cy="346.9" r="2.8"/><circle cx="98.2" cy="398.9" r="2.8"/><circle cx="136.9" cy="379.3" r="2.8"/><circle cx="189.0" cy="342.7" r="2.8"/><circle cx="127.8" cy="381.5" r="2.8"/><circle cx="182.0" cy="333.6" r="2.8"/><circle cx="200.9" cy="333.6" r="2.8"/><circle cx="192.4" cy="340.2" r="2.8"/><circle cx="188.3" cy="330.1" r="2.8"/><circle cx="184.9" cy="346.8" r="2.8"/><circle cx="102.6" cy="398.1" r="2.8"/><circle cx="125.3" cy="382.9" r="2.8"/><circle cx="261.3" cy="285.0" r="2.8"/><circle cx="133.9" cy="378.5" r="2.8"/><circle cx="114.9" cy="377.9" r="2.8"/><circle cx="151.8" cy="352.0" r="2.8"/><circle cx="258.8" cy="293.0" r="2.8"/><circle cx="239.7" cy="294.2" r="2.8"/><circle cx="219.4" cy="315.7" r="2.8"/><circle cx="230.1" cy="309.6" r="2.8"/><circle cx="248.6" cy="289.1" r="2.8"/><circle cx="235.4" cy="298.1" r="2.8"/><circle cx="81.9" cy="402.7" r="2.8"/><circle cx="136.7" cy="378.7" r="2.8"/><circle cx="241.6" cy="302.8" r="2.8"/><circle cx="246.2" cy="290.0" r="2.8"/><circle cx="101.4" cy="386.9" r="2.8"/><circle cx="118.3" cy="375.1" r="2.8"/><circle cx="264.6" cy="287.4" r="2.8"/><circle cx="241.6" cy="303.0" r="2.8"/><circle cx="107.5" cy="383.6" r="2.8"/><circle cx="123.8" cy="385.2" r="2.8"/><circle cx="151.1" cy="371.0" r="2.8"/><circle cx="150.5" cy="354.6" r="2.8"/><circle cx="108.4" cy="381.6" r="2.8"/><circle cx="178.5" cy="335.8" r="2.8"/><circle cx="209.7" cy="316.9" r="2.8"/><circle cx="112.6" cy="393.4" r="2.8"/><circle cx="190.0" cy="340.7" r="2.8"/><circle cx="114.0" cy="377.1" r="2.8"/><circle cx="95.8" cy="399.4" r="2.8"/><circle cx="96.0" cy="390.7" r="2.8"/><circle cx="110.5" cy="381.8" r="2.8"/><circle cx="107.7" cy="382.1" r="2.8"/><circle cx="154.3" cy="351.3" r="2.8"/><circle cx="252.5" cy="287.8" r="2.8"/><circle cx="257.0" cy="284.6" r="2.8"/><circle cx="200.2" cy="320.5" r="2.8"/><circle cx="176.6" cy="336.5" r="2.8"/><circle cx="110.5" cy="393.6" r="2.8"/><circle cx="244.8" cy="301.1" r="2.8"/><circle cx="189.2" cy="329.0" r="2.8"/><circle cx="81.2" cy="407.7" r="2.8"/><circle cx="238.5" cy="305.7" r="2.8"/><circle cx="195.9" cy="338.1" r="2.8"/><circle cx="184.8" cy="345.4" r="2.8"/><circle cx="178.5" cy="335.3" r="2.8"/><circle cx="257.4" cy="286.1" r="2.8"/><circle cx="147.1" cy="358.2" r="2.8"/><circle cx="234.3" cy="298.5" r="2.8"/><circle cx="230.1" cy="310.7" r="2.8"/><circle cx="224.1" cy="304.8" r="2.8"/><circle cx="213.0" cy="312.1" r="2.8"/><circle cx="146.5" cy="374.0" r="2.8"/><circle cx="140.3" cy="361.3" r="2.8"/><circle cx="141.5" cy="375.0" r="2.8"/><circle cx="264.1" cy="282.6" r="2.8"/><circle cx="119.4" cy="387.7" r="2.8"/><circle cx="92.1" cy="402.8" r="2.8"/><circle cx="202.7" cy="321.0" r="2.8"/><circle cx="257.6" cy="293.1" r="2.8"/><circle cx="172.9" cy="337.7" r="2.8"/><circle cx="99.0" cy="388.2" r="2.8"/><circle cx="214.0" cy="319.6" r="2.8"/><circle cx="157.1" cy="364.9" r="2.8"/><circle cx="137.3" cy="378.9" r="2.8"/><circle cx="103.3" cy="398.3" r="2.8"/><circle cx="200.6" cy="320.7" r="2.8"/><circle cx="114.2" cy="377.6" r="2.8"/><circle cx="80.2" cy="404.9" r="2.8"/><circle cx="126.7" cy="366.6" r="2.8"/><circle cx="153.7" cy="367.9" r="2.8"/><circle cx="211.7" cy="314.4" r="2.8"/><circle cx="122.0" cy="371.0" r="2.8"/><circle cx="187.3" cy="328.2" r="2.8"/><circle cx="187.1" cy="343.3" r="2.8"/><circle cx="115.9" cy="389.5" r="2.8"/><circle cx="220.4" cy="316.3" r="2.8"/><circle cx="177.5" cy="350.3" r="2.8"/><circle cx="98.8" cy="387.7" r="2.8"/><circle cx="221.8" cy="315.6" r="2.8"/><circle cx="196.9" cy="336.9" r="2.8"/><circle cx="257.7" cy="295.2" r="2.8"/><circle cx="217.5" cy="309.0" r="2.8"/><circle cx="137.0" cy="363.5" r="2.8"/><circle cx="82.2" cy="406.5" r="2.8"/><circle cx="206.8" cy="318.2" r="2.8"/><circle cx="118.8" cy="372.6" r="2.8"/><circle cx="199.5" cy="334.0" r="2.8"/><circle cx="210.7" cy="315.5" r="2.8"/><circle cx="212.7" cy="313.5" r="2.8"/><circle cx="131.4" cy="381.8" r="2.8"/><circle cx="143.9" cy="374.8" r="2.8"/><circle cx="245.3" cy="301.8" r="2.8"/><circle cx="166.7" cy="357.7" r="2.8"/><circle cx="183.4" cy="347.6" r="2.8"/><circle cx="134.2" cy="378.8" r="2.8"/><circle cx="245.6" cy="288.8" r="2.8"/><circle cx="211.7" cy="314.0" r="2.8"/><circle cx="147.9" cy="371.2" r="2.8"/><circle cx="109.2" cy="383.5" r="2.8"/><circle cx="109.5" cy="382.1" r="2.8"/><circle cx="265.5" cy="288.9" r="2.8"/><circle cx="255.7" cy="294.4" r="2.8"/><circle cx="260.9" cy="291.2" r="2.8"/><circle cx="168.2" cy="340.9" r="2.8"/><circle cx="218.4" cy="318.3" r="2.8"/><circle cx="231.4" cy="299.6" r="2.8"/><circle cx="213.4" cy="312.8" r="2.8"/><circle cx="164.9" cy="360.5" r="2.8"/><circle cx="125.3" cy="383.0" r="2.8"/><circle cx="163.7" cy="340.6" r="2.8"/><circle cx="146.7" cy="356.7" r="2.8"/><circle cx="181.2" cy="333.5" r="2.8"/><circle cx="90.3" cy="403.1" r="2.8"/><circle cx="216.5" cy="311.6" r="2.8"/><circle cx="101.7" cy="397.5" r="2.8"/><circle cx="225.1" cy="304.0" r="2.8"/><circle cx="167.2" cy="340.5" r="2.8"/><circle cx="265.5" cy="289.0" r="2.8"/><circle cx="200.1" cy="321.0" r="2.8"/><circle cx="227.8" cy="303.1" r="2.8"/><circle cx="203.8" cy="319.4" r="2.8"/><circle cx="207.1" cy="325.4" r="2.8"/><circle cx="84.5" cy="405.8" r="2.8"/><circle cx="171.9" cy="354.0" r="2.8"/><circle cx="253.7" cy="297.7" r="2.8"/><circle cx="154.5" cy="368.8" r="2.8"/><circle cx="197.3" cy="323.1" r="2.8"/><circle cx="89.8" cy="395.7" r="2.8"/><circle cx="143.0" cy="359.0" r="2.8"/><circle cx="129.7" cy="365.6" r="2.8"/><circle cx="137.8" cy="360.7" r="2.8"/><circle cx="241.0" cy="292.3" r="2.8"/><circle cx="193.4" cy="338.4" r="2.8"/><circle cx="231.9" cy="307.7" r="2.8"/><circle cx="144.2" cy="374.4" r="2.8"/><circle cx="113.9" cy="392.0" r="2.8"/><circle cx="178.2" cy="334.2" r="2.8"/><circle cx="155.5" cy="365.8" r="2.8"/><circle cx="248.1" cy="289.6" r="2.8"/><circle cx="162.3" cy="361.9" r="2.8"/><circle cx="172.0" cy="354.4" r="2.8"/><circle cx="211.5" cy="324.1" r="2.8"/><circle cx="217.3" cy="316.9" r="2.8"/><circle cx="181.3" cy="331.8" r="2.8"/><circle cx="169.3" cy="340.6" r="2.8"/><circle cx="243.2" cy="302.6" r="2.8"/><circle cx="192.5" cy="325.7" r="2.8"/><circle cx="95.6" cy="401.1" r="2.8"/><circle cx="91.4" cy="393.9" r="2.8"/><circle cx="169.6" cy="340.2" r="2.8"/><circle cx="159.8" cy="346.3" r="2.8"/><circle cx="102.5" cy="397.6" r="2.8"/><circle cx="133.6" cy="378.6" r="2.8"/><circle cx="231.1" cy="308.3" r="2.8"/><circle cx="221.1" cy="308.1" r="2.8"/><circle cx="166.1" cy="357.9" r="2.8"/><circle cx="241.3" cy="304.0" r="2.8"/><circle cx="114.4" cy="378.3" r="2.8"/><circle cx="258.6" cy="293.1" r="2.8"/><circle cx="219.1" cy="310.1" r="2.8"/><circle cx="99.4" cy="388.6" r="2.8"/><circle cx="219.0" cy="309.9" r="2.8"/><circle cx="74.7" cy="412.4" r="2.8"/><circle cx="258.7" cy="285.6" r="2.8"/><circle cx="118.4" cy="372.9" r="2.8"/><circle cx="265.5" cy="288.3" r="2.8"/><circle cx="133.3" cy="364.6" r="2.8"/><circle cx="204.1" cy="328.6" r="2.8"/><circle cx="154.8" cy="366.8" r="2.8"/><circle cx="192.4" cy="325.4" r="2.8"/><circle cx="139.2" cy="362.4" r="2.8"/><circle cx="121.4" cy="372.1" r="2.8"/><circle cx="125.6" cy="368.8" r="2.8"/><circle cx="208.1" cy="317.2" r="2.8"/><circle cx="123.0" cy="370.6" r="2.8"/><circle cx="232.9" cy="308.0" r="2.8"/><circle cx="242.1" cy="302.6" r="2.8"/><circle cx="104.7" cy="395.2" r="2.8"/><circle cx="187.0" cy="344.9" r="2.8"/><circle cx="162.7" cy="343.8" r="2.8"/><circle cx="169.0" cy="356.7" r="2.8"/><circle cx="258.8" cy="293.4" r="2.8"/><circle cx="212.5" cy="314.6" r="2.8"/><circle cx="177.7" cy="349.3" r="2.8"/><circle cx="184.5" cy="346.6" r="2.8"/><circle cx="210.3" cy="322.6" r="2.8"/><circle cx="248.0" cy="299.9" r="2.8"/><circle cx="131.1" cy="379.9" r="2.8"/><circle cx="94.0" cy="391.4" r="2.8"/><circle cx="131.4" cy="382.1" r="2.8"/><circle cx="108.6" cy="393.3" r="2.8"/><circle cx="247.9" cy="287.7" r="2.8"/><circle cx="134.7" cy="362.7" r="2.8"/><circle cx="105.8" cy="397.0" r="2.8"/><circle cx="123.6" cy="368.9" r="2.8"/><circle cx="254.8" cy="285.4" r="2.8"/><circle cx="245.3" cy="301.0" r="2.8"/><circle cx="226.9" cy="301.8" r="2.8"/><circle cx="218.1" cy="311.0" r="2.8"/><circle cx="194.3" cy="338.1" r="2.8"/><circle cx="111.6" cy="392.7" r="2.8"/><circle cx="121.8" cy="385.7" r="2.8"/><circle cx="154.7" cy="349.9" r="2.8"/><circle cx="145.2" cy="374.5" r="2.8"/><circle cx="108.2" cy="395.1" r="2.8"/><circle cx="155.5" cy="368.1" r="2.8"/><circle cx="168.0" cy="340.7" r="2.8"/><circle cx="184.7" cy="344.1" r="2.8"/><circle cx="112.0" cy="391.1" r="2.8"/><circle cx="80.1" cy="405.0" r="2.8"/><circle cx="264.7" cy="284.5" r="2.8"/><circle cx="237.0" cy="304.7" r="2.8"/><circle cx="185.4" cy="346.2" r="2.8"/><circle cx="239.9" cy="294.7" r="2.8"/><circle cx="195.1" cy="336.8" r="2.8"/><circle cx="231.4" cy="301.0" r="2.8"/><circle cx="237.4" cy="295.2" r="2.8"/><circle cx="216.7" cy="319.2" r="2.8"/><circle cx="131.8" cy="380.2" r="2.8"/><circle cx="109.5" cy="383.2" r="2.8"/><circle cx="93.0" cy="391.9" r="2.8"/><circle cx="210.8" cy="314.1" r="2.8"/><circle cx="110.1" cy="380.6" r="2.8"/><circle cx="179.1" cy="351.2" r="2.8"/><circle cx="160.0" cy="364.5" r="2.8"/><circle cx="159.3" cy="365.0" r="2.8"/><circle cx="220.3" cy="308.7" r="2.8"/><circle cx="104.0" cy="395.9" r="2.8"/><circle cx="221.2" cy="306.7" r="2.8"/><circle cx="113.2" cy="392.9" r="2.8"/><circle cx="192.1" cy="339.1" r="2.8"/><circle cx="158.0" cy="347.6" r="2.8"/><circle cx="135.2" cy="380.2" r="2.8"/><circle cx="183.0" cy="333.1" r="2.8"/><circle cx="145.9" cy="373.1" r="2.8"/><circle cx="116.8" cy="390.0" r="2.8"/><circle cx="100.4" cy="397.5" r="2.8"/><circle cx="237.3" cy="304.6" r="2.8"/><circle cx="196.0" cy="322.9" r="2.8"/><circle cx="213.4" cy="313.9" r="2.8"/><circle cx="162.9" cy="362.2" r="2.8"/><circle cx="109.5" cy="381.0" r="2.8"/><circle cx="194.2" cy="325.1" r="2.8"/><circle cx="212.6" cy="313.4" r="2.8"/><circle cx="101.4" cy="387.4" r="2.8"/><circle cx="156.4" cy="366.2" r="2.8"/><circle cx="101.5" cy="386.6" r="2.8"/><circle cx="206.6" cy="318.9" r="2.8"/><circle cx="217.8" cy="317.6" r="2.8"/><circle cx="265.4" cy="286.4" r="2.8"/><circle cx="231.5" cy="299.7" r="2.8"/><circle cx="214.2" cy="311.9" r="2.8"/><circle cx="243.2" cy="302.9" r="2.8"/><circle cx="186.5" cy="345.5" r="2.8"/><circle cx="205.4" cy="318.2" r="2.8"/><circle cx="188.8" cy="327.9" r="2.8"/><circle cx="253.9" cy="296.3" r="2.8"/><circle cx="106.8" cy="384.2" r="2.8"/><circle cx="185.4" cy="329.3" r="2.8"/><circle cx="162.3" cy="343.4" r="2.8"/><circle cx="195.9" cy="335.9" r="2.8"/><circle cx="227.7" cy="302.9" r="2.8"/><circle cx="141.4" cy="361.7" r="2.8"/><circle cx="108.4" cy="395.6" r="2.8"/><circle cx="137.6" cy="362.4" r="2.8"/><circle cx="196.1" cy="335.8" r="2.8"/><circle cx="113.6" cy="376.7" r="2.8"/><circle cx="246.4" cy="300.7" r="2.8"/><circle cx="187.9" cy="330.3" r="2.8"/><circle cx="160.0" cy="362.4" r="2.8"/><circle cx="98.1" cy="387.8" r="2.8"/><circle cx="209.7" cy="324.1" r="2.8"/><circle cx="82.5" cy="400.8" r="2.8"/><circle cx="183.5" cy="330.6" r="2.8"/><circle cx="202.5" cy="321.6" r="2.8"/><circle cx="162.9" cy="360.7" r="2.8"/><circle cx="138.5" cy="362.3" r="2.8"/><circle cx="161.4" cy="345.5" r="2.8"/><circle cx="215.8" cy="319.7" r="2.8"/><circle cx="186.9" cy="331.2" r="2.8"/><circle cx="229.5" cy="309.5" r="2.8"/><circle cx="111.5" cy="393.0" r="2.8"/><circle cx="156.5" cy="348.3" r="2.8"/><circle cx="102.9" cy="386.1" r="2.8"/><circle cx="150.5" cy="352.0" r="2.8"/><circle cx="256.1" cy="294.2" r="2.8"/><circle cx="240.3" cy="305.2" r="2.8"/><circle cx="96.3" cy="399.3" r="2.8"/><circle cx="106.4" cy="384.3" r="2.8"/><circle cx="86.9" cy="406.1" r="2.8"/><circle cx="266.9" cy="284.5" r="2.8"/><circle cx="158.8" cy="346.3" r="2.8"/><circle cx="114.2" cy="390.6" r="2.8"/><circle cx="140.0" cy="377.2" r="2.8"/><circle cx="173.9" cy="352.1" r="2.8"/><circle cx="244.0" cy="290.3" r="2.8"/><circle cx="215.9" cy="310.5" r="2.8"/><circle cx="233.3" cy="307.8" r="2.8"/><circle cx="76.0" cy="409.6" r="2.8"/><circle cx="90.0" cy="392.7" r="2.8"/><circle cx="125.8" cy="367.6" r="2.8"/><circle cx="202.5" cy="321.3" r="2.8"/><circle cx="238.0" cy="304.7" r="2.8"/><circle cx="118.8" cy="375.1" r="2.8"/><circle cx="118.7" cy="373.0" r="2.8"/><circle cx="188.9" cy="328.3" r="2.8"/><circle cx="191.2" cy="326.2" r="2.8"/><circle cx="205.9" cy="326.7" r="2.8"/><circle cx="91.1" cy="392.8" r="2.8"/><circle cx="191.2" cy="326.5" r="2.8"/><circle cx="165.5" cy="359.9" r="2.8"/><circle cx="250.9" cy="298.8" r="2.8"/><circle cx="91.0" cy="403.0" r="2.8"/><circle cx="127.5" cy="367.8" r="2.8"/><circle cx="178.4" cy="335.6" r="2.8"/><circle cx="162.4" cy="361.5" r="2.8"/><circle cx="216.5" cy="319.3" r="2.8"/><circle cx="192.1" cy="339.3" r="2.8"/><circle cx="180.6" cy="347.3" r="2.8"/><circle cx="97.3" cy="388.9" r="2.8"/><circle cx="216.6" cy="319.6" r="2.8"/><circle cx="98.5" cy="389.8" r="2.8"/><circle cx="265.5" cy="288.3" r="2.8"/><circle cx="118.9" cy="373.9" r="2.8"/><circle cx="190.7" cy="341.5" r="2.8"/><circle cx="169.7" cy="338.1" r="2.8"/><circle cx="160.9" cy="361.4" r="2.8"/><circle cx="248.0" cy="288.1" r="2.8"/><circle cx="246.2" cy="301.3" r="2.8"/><circle cx="125.3" cy="383.9" r="2.8"/><circle cx="91.6" cy="403.2" r="2.8"/><circle cx="181.1" cy="332.8" r="2.8"/><circle cx="266.5" cy="287.4" r="2.8"/><circle cx="244.5" cy="300.9" r="2.8"/><circle cx="92.5" cy="392.1" r="2.8"/><circle cx="108.6" cy="392.6" r="2.8"/><circle cx="88.8" cy="407.6" r="2.8"/><circle cx="193.8" cy="322.7" r="2.8"/><circle cx="208.4" cy="312.6" r="2.8"/><circle cx="260.3" cy="293.4" r="2.8"/><circle cx="124.3" cy="386.7" r="2.8"/><circle cx="170.4" cy="344.4" r="2.8"/><circle cx="93.3" cy="401.5" r="2.8"/><circle cx="165.3" cy="347.9" r="2.8"/><circle cx="213.4" cy="308.3" r="2.8"/><circle cx="179.7" cy="340.8" r="2.8"/><circle cx="207.5" cy="316.4" r="2.8"/><circle cx="255.8" cy="286.7" r="2.8"/><circle cx="167.5" cy="339.2" r="2.8"/><circle cx="153.2" cy="364.1" r="2.8"/><circle cx="128.7" cy="378.8" r="2.8"/><circle cx="258.1" cy="296.6" r="2.8"/><circle cx="100.2" cy="406.9" r="2.8"/><circle cx="128.5" cy="366.9" r="2.8"/><circle cx="260.3" cy="287.0" r="2.8"/><circle cx="119.1" cy="369.4" r="2.8"/><circle cx="178.4" cy="346.8" r="2.8"/><circle cx="169.3" cy="350.8" r="2.8"/><circle cx="160.9" cy="362.7" r="2.8"/><circle cx="228.6" cy="300.5" r="2.8"/><circle cx="93.9" cy="408.3" r="2.8"/><circle cx="127.3" cy="380.8" r="2.8"/><circle cx="253.6" cy="288.6" r="2.8"/><circle cx="115.1" cy="392.5" r="2.8"/><circle cx="116.6" cy="377.1" r="2.8"/><circle cx="161.8" cy="352.5" r="2.8"/><circle cx="117.1" cy="391.3" r="2.8"/><circle cx="168.3" cy="346.7" r="2.8"/><circle cx="196.1" cy="323.9" r="2.8"/><circle cx="207.9" cy="333.8" r="2.8"/><circle cx="109.5" cy="379.8" r="2.8"/><circle cx="203.9" cy="322.1" r="2.8"/><circle cx="138.8" cy="379.6" r="2.8"/><circle cx="240.5" cy="308.1" r="2.8"/><circle cx="271.2" cy="278.5" r="2.8"/><circle cx="98.0" cy="398.1" r="2.8"/><circle cx="222.5" cy="317.9" r="2.8"/><circle cx="165.5" cy="358.0" r="2.8"/><circle cx="97.8" cy="397.4" r="2.8"/><circle cx="130.0" cy="374.1" r="2.8"/><circle cx="213.3" cy="318.7" r="2.8"/><circle cx="167.0" cy="360.0" r="2.8"/><circle cx="271.1" cy="276.3" r="2.8"/><circle cx="120.9" cy="391.3" r="2.8"/><circle cx="169.2" cy="362.1" r="2.8"/><circle cx="104.9" cy="384.0" r="2.8"/><circle cx="119.2" cy="378.0" r="2.8"/><circle cx="215.9" cy="310.3" r="2.8"/><circle cx="237.4" cy="309.0" r="2.8"/><circle cx="260.0" cy="281.3" r="2.8"/><circle cx="117.9" cy="391.3" r="2.8"/><circle cx="130.1" cy="388.0" r="2.8"/><circle cx="225.4" cy="304.1" r="2.8"/><circle cx="107.6" cy="391.8" r="2.8"/><circle cx="96.0" cy="394.5" r="2.8"/><circle cx="175.8" cy="335.4" r="2.8"/><circle cx="247.8" cy="303.5" r="2.8"/><circle cx="97.5" cy="388.2" r="2.8"/><circle cx="243.1" cy="305.2" r="2.8"/><circle cx="148.5" cy="348.6" r="2.8"/><circle cx="195.4" cy="320.8" r="2.8"/><circle cx="93.6" cy="409.2" r="2.8"/><circle cx="113.5" cy="393.1" r="2.8"/><circle cx="209.3" cy="332.2" r="2.8"/><circle cx="221.3" cy="314.7" r="2.8"/><circle cx="134.8" cy="366.3" r="2.8"/><circle cx="147.7" cy="353.1" r="2.8"/><circle cx="178.0" cy="341.0" r="2.8"/><circle cx="272.3" cy="281.2" r="2.8"/><circle cx="127.1" cy="368.6" r="2.8"/><circle cx="87.8" cy="412.4" r="2.8"/><circle cx="117.0" cy="380.7" r="2.8"/><circle cx="104.8" cy="380.8" r="2.8"/><circle cx="150.0" cy="357.9" r="2.8"/><circle cx="201.6" cy="321.1" r="2.8"/><circle cx="268.5" cy="286.2" r="2.8"/><circle cx="239.3" cy="297.4" r="2.8"/><circle cx="184.6" cy="331.3" r="2.8"/><circle cx="118.8" cy="391.8" r="2.8"/><circle cx="264.0" cy="290.4" r="2.8"/><circle cx="169.5" cy="340.1" r="2.8"/><circle cx="111.7" cy="397.6" r="2.8"/><circle cx="100.8" cy="394.7" r="2.8"/><circle cx="231.9" cy="305.8" r="2.8"/><circle cx="155.7" cy="363.1" r="2.8"/><circle cx="259.6" cy="295.1" r="2.8"/><circle cx="200.9" cy="321.1" r="2.8"/><circle cx="227.0" cy="306.1" r="2.8"/><circle cx="85.6" cy="411.6" r="2.8"/><circle cx="124.2" cy="391.3" r="2.8"/><circle cx="169.4" cy="343.2" r="2.8"/><circle cx="252.6" cy="297.4" r="2.8"/><circle cx="254.3" cy="298.1" r="2.8"/><circle cx="159.3" cy="359.8" r="2.8"/><circle cx="204.0" cy="321.5" r="2.8"/><circle cx="119.9" cy="378.6" r="2.8"/><circle cx="107.9" cy="388.8" r="2.8"/><circle cx="159.4" cy="345.7" r="2.8"/><circle cx="156.0" cy="368.4" r="2.8"/><circle cx="129.3" cy="368.2" r="2.8"/><circle cx="93.6" cy="408.6" r="2.8"/><circle cx="111.7" cy="393.1" r="2.8"/><circle cx="113.5" cy="394.8" r="2.8"/><circle cx="208.0" cy="324.3" r="2.8"/><circle cx="101.1" cy="394.5" r="2.8"/><circle cx="230.5" cy="313.9" r="2.8"/><circle cx="249.9" cy="295.7" r="2.8"/><circle cx="96.4" cy="394.8" r="2.8"/><circle cx="185.8" cy="328.0" r="2.8"/><circle cx="153.9" cy="367.4" r="2.8"/><circle cx="206.3" cy="317.8" r="2.8"/><circle cx="224.5" cy="313.6" r="2.8"/><circle cx="181.5" cy="346.5" r="2.8"/><circle cx="158.3" cy="355.1" r="2.8"/><circle cx="110.7" cy="380.3" r="2.8"/><circle cx="142.4" cy="373.5" r="2.8"/><circle cx="154.9" cy="346.2" r="2.8"/><circle cx="163.6" cy="348.8" r="2.8"/><circle cx="239.6" cy="307.7" r="2.8"/><circle cx="244.5" cy="289.5" r="2.8"/><circle cx="136.7" cy="379.6" r="2.8"/><circle cx="122.3" cy="377.1" r="2.8"/><circle cx="150.6" cy="356.3" r="2.8"/><circle cx="228.5" cy="314.7" r="2.8"/><circle cx="165.3" cy="348.0" r="2.8"/><circle cx="172.4" cy="344.6" r="2.8"/><circle cx="121.2" cy="374.5" r="2.8"/><circle cx="207.2" cy="316.3" r="2.8"/><circle cx="141.4" cy="372.2" r="2.8"/><circle cx="130.3" cy="379.6" r="2.8"/><circle cx="115.6" cy="393.6" r="2.8"/><circle cx="155.2" cy="366.8" r="2.8"/><circle cx="211.0" cy="330.9" r="2.8"/><circle cx="135.1" cy="363.7" r="2.8"/><circle cx="150.9" cy="359.1" r="2.8"/><circle cx="114.8" cy="374.5" r="2.8"/><circle cx="175.7" cy="337.6" r="2.8"/><circle cx="137.3" cy="371.9" r="2.8"/><circle cx="235.5" cy="300.4" r="2.8"/><circle cx="237.6" cy="309.2" r="2.8"/><circle cx="224.7" cy="303.9" r="2.8"/><circle cx="262.3" cy="287.2" r="2.8"/><circle cx="219.1" cy="324.5" r="2.8"/><circle cx="176.8" cy="341.7" r="2.8"/><circle cx="253.7" cy="286.3" r="2.8"/><circle cx="249.5" cy="286.2" r="2.8"/><circle cx="144.8" cy="372.9" r="2.8"/><circle cx="257.8" cy="295.7" r="2.8"/><circle cx="225.5" cy="302.3" r="2.8"/><circle cx="110.8" cy="378.7" r="2.8"/><circle cx="237.9" cy="304.5" r="2.8"/><circle cx="167.0" cy="346.9" r="2.8"/><circle cx="126.4" cy="377.0" r="2.8"/><circle cx="249.6" cy="289.9" r="2.8"/><circle cx="237.1" cy="307.1" r="2.8"/><circle cx="257.7" cy="292.2" r="2.8"/><circle cx="265.3" cy="290.4" r="2.8"/><circle cx="163.3" cy="364.4" r="2.8"/><circle cx="145.0" cy="357.7" r="2.8"/><circle cx="102.3" cy="401.3" r="2.8"/><circle cx="120.0" cy="383.8" r="2.8"/><circle cx="197.4" cy="338.6" r="2.8"/><circle cx="165.7" cy="357.7" r="2.8"/><circle cx="124.4" cy="375.4" r="2.8"/><circle cx="205.7" cy="328.2" r="2.8"/><circle cx="131.0" cy="384.0" r="2.8"/><circle cx="127.4" cy="380.8" r="2.8"/><circle cx="253.8" cy="283.7" r="2.8"/><circle cx="113.0" cy="382.4" r="2.8"/><circle cx="107.4" cy="395.4" r="2.8"/><circle cx="253.9" cy="294.6" r="2.8"/><circle cx="173.1" cy="345.2" r="2.8"/><circle cx="126.6" cy="377.0" r="2.8"/><circle cx="115.0" cy="385.2" r="2.8"/><circle cx="122.4" cy="384.4" r="2.8"/><circle cx="110.4" cy="387.1" r="2.8"/><circle cx="101.8" cy="389.4" r="2.8"/><circle cx="137.6" cy="364.6" r="2.8"/><circle cx="249.7" cy="287.5" r="2.8"/><circle cx="145.9" cy="354.6" r="2.8"/><circle cx="150.7" cy="371.5" r="2.8"/><circle cx="132.8" cy="368.3" r="2.8"/><circle cx="171.2" cy="338.5" r="2.8"/><circle cx="173.5" cy="351.6" r="2.8"/><circle cx="160.4" cy="351.9" r="2.8"/><circle cx="144.2" cy="354.1" r="2.8"/><circle cx="215.9" cy="308.7" r="2.8"/><circle cx="157.1" cy="363.3" r="2.8"/><circle cx="141.1" cy="369.1" r="2.8"/><circle cx="171.1" cy="345.7" r="2.8"/><circle cx="170.1" cy="358.8" r="2.8"/><circle cx="102.9" cy="398.7" r="2.8"/><circle cx="203.1" cy="334.4" r="2.8"/><circle cx="224.5" cy="313.8" r="2.8"/><circle cx="84.5" cy="402.1" r="2.8"/><circle cx="217.5" cy="325.0" r="2.8"/><circle cx="189.1" cy="345.5" r="2.8"/><circle cx="159.3" cy="356.5" r="2.8"/><circle cx="221.9" cy="322.0" r="2.8"/><circle cx="167.2" cy="352.6" r="2.8"/><circle cx="187.9" cy="343.8" r="2.8"/><circle cx="258.1" cy="291.1" r="2.8"/><circle cx="155.8" cy="358.2" r="2.8"/><circle cx="132.7" cy="375.5" r="2.8"/><circle cx="249.3" cy="300.4" r="2.8"/><circle cx="138.1" cy="379.2" r="2.8"/><circle cx="144.6" cy="368.6" r="2.8"/><circle cx="132.8" cy="363.7" r="2.8"/><circle cx="194.9" cy="329.8" r="2.8"/><circle cx="130.5" cy="365.3" r="2.8"/><circle cx="183.0" cy="341.9" r="2.8"/><circle cx="218.8" cy="324.8" r="2.8"/><circle cx="184.0" cy="335.8" r="2.8"/><circle cx="114.2" cy="377.4" r="2.8"/><circle cx="131.6" cy="372.7" r="2.8"/><circle cx="194.2" cy="339.8" r="2.8"/><circle cx="132.8" cy="380.3" r="2.8"/><circle cx="241.5" cy="293.9" r="2.8"/><circle cx="199.5" cy="320.5" r="2.8"/><circle cx="224.7" cy="314.6" r="2.8"/><circle cx="92.9" cy="403.5" r="2.8"/><circle cx="128.8" cy="370.2" r="2.8"/><circle cx="121.5" cy="384.8" r="2.8"/><circle cx="223.6" cy="306.3" r="2.8"/><circle cx="190.6" cy="338.0" r="2.8"/><circle cx="225.7" cy="308.2" r="2.8"/><circle cx="82.1" cy="407.3" r="2.8"/><circle cx="243.2" cy="298.7" r="2.8"/><circle cx="92.4" cy="397.6" r="2.8"/><circle cx="215.3" cy="310.4" r="2.8"/><circle cx="217.6" cy="314.0" r="2.8"/><circle cx="148.4" cy="357.9" r="2.8"/><circle cx="252.4" cy="292.8" r="2.8"/><circle cx="160.1" cy="357.9" r="2.8"/><circle cx="112.1" cy="377.4" r="2.8"/><circle cx="168.9" cy="357.7" r="2.8"/><circle cx="226.1" cy="306.6" r="2.8"/><circle cx="261.7" cy="290.8" r="2.8"/><circle cx="130.4" cy="365.4" r="2.8"/><circle cx="156.9" cy="368.2" r="2.8"/><circle cx="255.6" cy="289.9" r="2.8"/><circle cx="211.4" cy="327.7" r="2.8"/><circle cx="115.9" cy="377.6" r="2.8"/><circle cx="111.3" cy="383.3" r="2.8"/><circle cx="99.7" cy="388.0" r="2.8"/><circle cx="222.1" cy="310.9" r="2.8"/><circle cx="150.5" cy="350.9" r="2.8"/><circle cx="152.0" cy="367.0" r="2.8"/><circle cx="176.6" cy="341.6" r="2.8"/><circle cx="234.3" cy="298.2" r="2.8"/><circle cx="178.7" cy="345.2" r="2.8"/><circle cx="121.1" cy="371.9" r="2.8"/><circle cx="86.8" cy="400.2" r="2.8"/><circle cx="259.7" cy="288.4" r="2.8"/><circle cx="164.7" cy="356.7" r="2.8"/><circle cx="175.7" cy="341.7" r="2.8"/><circle cx="238.9" cy="307.8" r="2.8"/><circle cx="164.3" cy="353.0" r="2.8"/><circle cx="134.7" cy="374.9" r="2.8"/><circle cx="81.4" cy="410.0" r="2.8"/><circle cx="120.2" cy="389.7" r="2.8"/><circle cx="138.8" cy="373.2" r="2.8"/><circle cx="165.8" cy="347.6" r="2.8"/><circle cx="255.4" cy="285.8" r="2.8"/><circle cx="142.5" cy="369.2" r="2.8"/><circle cx="165.9" cy="346.0" r="2.8"/><circle cx="200.2" cy="321.8" r="2.8"/><circle cx="178.2" cy="339.7" r="2.8"/><circle cx="95.9" cy="405.6" r="2.8"/><circle cx="224.7" cy="313.1" r="2.8"/><circle cx="82.7" cy="400.4" r="2.8"/><circle cx="80.3" cy="413.5" r="2.8"/><circle cx="253.7" cy="285.8" r="2.8"/><circle cx="127.1" cy="368.2" r="2.8"/><circle cx="208.8" cy="317.2" r="2.8"/><circle cx="258.3" cy="295.5" r="2.8"/><circle cx="160.7" cy="360.6" r="2.8"/><circle cx="148.4" cy="365.4" r="2.8"/><circle cx="196.1" cy="324.9" r="2.8"/><circle cx="108.7" cy="391.9" r="2.8"/><circle cx="152.6" cy="349.0" r="2.8"/><circle cx="126.1" cy="378.8" r="2.8"/><circle cx="243.6" cy="304.2" r="2.8"/><circle cx="219.8" cy="324.7" r="2.8"/><circle cx="180.5" cy="343.3" r="2.8"/><circle cx="140.0" cy="378.9" r="2.8"/><circle cx="200.2" cy="325.9" r="2.8"/><circle cx="137.7" cy="376.0" r="2.8"/><circle cx="161.0" cy="350.7" r="2.8"/><circle cx="189.3" cy="343.0" r="2.8"/><circle cx="86.2" cy="399.2" r="2.8"/><circle cx="94.7" cy="390.9" r="2.8"/><circle cx="228.2" cy="313.7" r="2.8"/><circle cx="201.1" cy="338.2" r="2.8"/><circle cx="221.8" cy="316.9" r="2.8"/><circle cx="120.4" cy="387.1" r="2.8"/><circle cx="152.0" cy="352.7" r="2.8"/><circle cx="202.6" cy="336.2" r="2.8"/><circle cx="224.2" cy="321.6" r="2.8"/><circle cx="94.6" cy="404.7" r="2.8"/><circle cx="141.6" cy="372.2" r="2.8"/><circle cx="249.9" cy="298.2" r="2.8"/><circle cx="125.9" cy="380.8" r="2.8"/><circle cx="177.7" cy="351.3" r="2.8"/><circle cx="161.6" cy="349.1" r="2.8"/><circle cx="110.8" cy="393.5" r="2.8"/><circle cx="167.6" cy="344.3" r="2.8"/><circle cx="186.3" cy="347.1" r="2.8"/><circle cx="168.9" cy="360.6" r="2.8"/><circle cx="127.5" cy="366.5" r="2.8"/><circle cx="222.3" cy="322.7" r="2.8"/><circle cx="187.4" cy="334.4" r="2.8"/><circle cx="122.0" cy="368.9" r="2.8"/><circle cx="237.3" cy="306.9" r="2.8"/><circle cx="168.9" cy="342.2" r="2.8"/><circle cx="246.7" cy="290.8" r="2.8"/><circle cx="97.1" cy="390.9" r="2.8"/><circle cx="136.3" cy="378.8" r="2.8"/><circle cx="223.6" cy="320.2" r="2.8"/><circle cx="194.8" cy="323.3" r="2.8"/><circle cx="178.4" cy="348.9" r="2.8"/><circle cx="191.2" cy="331.7" r="2.8"/><circle cx="249.2" cy="292.5" r="2.8"/><circle cx="228.2" cy="317.4" r="2.8"/><circle cx="167.0" cy="347.3" r="2.8"/><circle cx="259.3" cy="282.6" r="2.8"/><circle cx="80.9" cy="411.4" r="2.8"/><circle cx="208.3" cy="323.4" r="2.8"/><circle cx="259.6" cy="288.2" r="2.8"/><circle cx="160.3" cy="354.7" r="2.8"/><circle cx="127.6" cy="386.5" r="2.8"/><circle cx="176.8" cy="349.0" r="2.8"/><circle cx="130.4" cy="384.0" r="2.8"/><circle cx="144.7" cy="375.4" r="2.8"/><circle cx="174.3" cy="352.7" r="2.8"/><circle cx="118.5" cy="387.0" r="2.8"/><circle cx="210.9" cy="322.9" r="2.8"/><circle cx="202.8" cy="327.9" r="2.8"/><circle cx="175.9" cy="351.9" r="2.8"/><circle cx="100.9" cy="394.7" r="2.8"/><circle cx="100.3" cy="390.2" r="2.8"/><circle cx="116.8" cy="375.0" r="2.8"/><circle cx="192.6" cy="340.9" r="2.8"/><circle cx="232.3" cy="302.2" r="2.8"/><circle cx="200.1" cy="328.4" r="2.8"/><circle cx="178.1" cy="353.1" r="2.8"/><circle cx="128.4" cy="382.8" r="2.8"/><circle cx="101.6" cy="401.1" r="2.8"/><circle cx="195.0" cy="323.5" r="2.8"/><circle cx="127.0" cy="368.3" r="2.8"/><circle cx="253.7" cy="285.2" r="2.8"/><circle cx="104.7" cy="380.8" r="2.8"/><circle cx="246.6" cy="296.2" r="2.8"/><circle cx="102.1" cy="383.1" r="2.8"/><circle cx="232.3" cy="309.2" r="2.8"/><circle cx="239.4" cy="297.9" r="2.8"/><circle cx="126.9" cy="367.4" r="2.8"/><circle cx="186.2" cy="327.4" r="2.8"/><circle cx="167.4" cy="349.3" r="2.8"/><circle cx="206.4" cy="329.5" r="2.8"/><circle cx="167.5" cy="345.0" r="2.8"/><circle cx="175.4" cy="335.1" r="2.8"/><circle cx="107.5" cy="383.7" r="2.8"/><circle cx="219.1" cy="317.7" r="2.8"/><circle cx="178.9" cy="349.4" r="2.8"/><circle cx="56.3" cy="408.0" r="2.8"/><circle cx="61.5" cy="414.9" r="2.8"/><circle cx="71.4" cy="412.2" r="2.8"/><circle cx="73.5" cy="417.8" r="2.8"/><circle cx="81.4" cy="419.5" r="2.8"/><circle cx="87.1" cy="413.6" r="2.8"/><circle cx="93.3" cy="411.1" r="2.8"/><circle cx="88.5" cy="372.4" r="2.8"/><circle cx="105.5" cy="372.4" r="2.8"/><circle cx="85.0" cy="390.2" r="2.8"/><circle cx="79.7" cy="400.7" r="2.8"/><circle cx="74.5" cy="403.8" r="2.8"/><circle cx="151.9" cy="396.1" r="2.8"/><circle cx="157.2" cy="385.0" r="2.8"/><circle cx="123.7" cy="396.1" r="2.8"/><circle cx="119.5" cy="358.4" r="2.8"/><circle cx="131.0" cy="342.1" r="2.8"/><circle cx="136.2" cy="346.3" r="2.8"/><circle cx="157.8" cy="385.2" r="2.8"/><circle cx="157.8" cy="385.2" r="2.8"/><circle cx="157.2" cy="375.8" r="2.8"/><circle cx="171.4" cy="369.1" r="2.8"/><circle cx="186.0" cy="366.4" r="2.8"/><circle cx="196.5" cy="363.2" r="2.8"/><circle cx="200.7" cy="357.0" r="2.8"/><circle cx="209.0" cy="352.8" r="2.8"/><circle cx="234.1" cy="332.9" r="2.8"/><circle cx="246.7" cy="318.2" r="2.8"/><circle cx="231.0" cy="324.5" r="2.8"/><circle cx="189.6" cy="321.4" r="2.8"/><circle cx="166.2" cy="332.9" r="2.8"/><circle cx="162.0" cy="337.7" r="2.8"/><circle cx="178.7" cy="327.7" r="2.8"/><circle cx="173.5" cy="330.8" r="2.8"/><circle cx="294.7" cy="260.0" r="2.8"/><circle cx="281.8" cy="277.6" r="2.8"/><circle cx="286.8" cy="275.5" r="2.8"/><circle cx="293.7" cy="279.9" r="2.8"/><circle cx="302.0" cy="285.1" r="2.8"/><circle cx="275.9" cy="286.2" r="2.8"/><circle cx="270.7" cy="283.5" r="2.8"/><circle cx="251.8" cy="276.8" r="2.8"/><circle cx="255.0" cy="280.3" r="2.8"/><circle cx="261.7" cy="304.8" r="2.8"/><circle cx="247.0" cy="318.4" r="2.8"/><circle cx="234.1" cy="333.1" r="2.8"/><circle cx="230.9" cy="324.3" r="2.8"/><circle cx="216.3" cy="337.9" r="2.8"/><circle cx="251.3" cy="276.3" r="2.8"/><circle cx="254.5" cy="279.9" r="2.8"/><circle cx="279.6" cy="278.4" r="2.8"/><circle cx="246.6" cy="318.1" r="2.8"/><circle cx="261.8" cy="304.5" r="2.8"/></g></g>
<line x1="36.90" y1="440.40" x2="327.40" y2="240.40" stroke="#000" stroke-width="1.45" stroke-dasharray="5.4,4.37"/>
<line x1="50.10" y1="440.40" x2="50.10" y2="432.40" stroke="#000" stroke-width="1.4"/>
<line x1="63.31" y1="440.40" x2="63.31" y2="436.40" stroke="#000" stroke-width="1.4"/>
<line x1="76.51" y1="440.40" x2="76.51" y2="432.40" stroke="#000" stroke-width="1.4"/>
<line x1="89.72" y1="440.40" x2="89.72" y2="436.40" stroke="#000" stroke-width="1.4"/>
<line x1="102.92" y1="440.40" x2="102.92" y2="432.40" stroke="#000" stroke-width="1.4"/>
<line x1="116.13" y1="440.40" x2="116.13" y2="436.40" stroke="#000" stroke-width="1.4"/>
<line x1="129.33" y1="440.40" x2="129.33" y2="432.40" stroke="#000" stroke-width="1.4"/>
<line x1="142.54" y1="440.40" x2="142.54" y2="436.40" stroke="#000" stroke-width="1.4"/>
<line x1="155.74" y1="440.40" x2="155.74" y2="432.40" stroke="#000" stroke-width="1.4"/>
<line x1="168.95" y1="440.40" x2="168.95" y2="436.40" stroke="#000" stroke-width="1.4"/>
<line x1="182.15" y1="440.40" x2="182.15" y2="432.40" stroke="#000" stroke-width="1.4"/>
<line x1="195.35" y1="440.40" x2="195.35" y2="436.40" stroke="#000" stroke-width="1.4"/>
<line x1="208.56" y1="440.40" x2="208.56" y2="432.40" stroke="#000" stroke-width="1.4"/>
<line x1="221.76" y1="440.40" x2="221.76" y2="436.40" stroke="#000" stroke-width="1.4"/>
<line x1="234.97" y1="440.40" x2="234.97" y2="432.40" stroke="#000" stroke-width="1.4"/>
<line x1="248.17" y1="440.40" x2="248.17" y2="436.40" stroke="#000" stroke-width="1.4"/>
<line x1="261.38" y1="440.40" x2="261.38" y2="432.40" stroke="#000" stroke-width="1.4"/>
<line x1="274.58" y1="440.40" x2="274.58" y2="436.40" stroke="#000" stroke-width="1.4"/>
<line x1="287.79" y1="440.40" x2="287.79" y2="432.40" stroke="#000" stroke-width="1.4"/>
<line x1="300.99" y1="440.40" x2="300.99" y2="436.40" stroke="#000" stroke-width="1.4"/>
<line x1="314.20" y1="440.40" x2="314.20" y2="432.40" stroke="#000" stroke-width="1.4"/>
<line x1="36.90" y1="431.31" x2="44.90" y2="431.31" stroke="#000" stroke-width="1.4"/>
<line x1="36.90" y1="422.22" x2="40.90" y2="422.22" stroke="#000" stroke-width="1.4"/>
<line x1="36.90" y1="413.13" x2="44.90" y2="413.13" stroke="#000" stroke-width="1.4"/>
<line x1="36.90" y1="404.04" x2="40.90" y2="404.04" stroke="#000" stroke-width="1.4"/>
<line x1="36.90" y1="394.95" x2="44.90" y2="394.95" stroke="#000" stroke-width="1.4"/>
<line x1="36.90" y1="385.85" x2="40.90" y2="385.85" stroke="#000" stroke-width="1.4"/>
<line x1="36.90" y1="376.76" x2="44.90" y2="376.76" stroke="#000" stroke-width="1.4"/>
<line x1="36.90" y1="367.67" x2="40.90" y2="367.67" stroke="#000" stroke-width="1.4"/>
<line x1="36.90" y1="358.58" x2="44.90" y2="358.58" stroke="#000" stroke-width="1.4"/>
<line x1="36.90" y1="349.49" x2="40.90" y2="349.49" stroke="#000" stroke-width="1.4"/>
<line x1="36.90" y1="340.40" x2="44.90" y2="340.40" stroke="#000" stroke-width="1.4"/>
<line x1="36.90" y1="331.31" x2="40.90" y2="331.31" stroke="#000" stroke-width="1.4"/>
<line x1="36.90" y1="322.22" x2="44.90" y2="322.22" stroke="#000" stroke-width="1.4"/>
<line x1="36.90" y1="313.13" x2="40.90" y2="313.13" stroke="#000" stroke-width="1.4"/>
<line x1="36.90" y1="304.04" x2="44.90" y2="304.04" stroke="#000" stroke-width="1.4"/>
<line x1="36.90" y1="294.95" x2="40.90" y2="294.95" stroke="#000" stroke-width="1.4"/>
<line x1="36.90" y1="285.85" x2="44.90" y2="285.85" stroke="#000" stroke-width="1.4"/>
<line x1="36.90" y1="276.76" x2="40.90" y2="276.76" stroke="#000" stroke-width="1.4"/>
<line x1="36.90" y1="267.67" x2="44.90" y2="267.67" stroke="#000" stroke-width="1.4"/>
<line x1="36.90" y1="258.58" x2="40.90" y2="258.58" stroke="#000" stroke-width="1.4"/>
<line x1="36.90" y1="249.49" x2="44.90" y2="249.49" stroke="#000" stroke-width="1.4"/>
<rect x="36.90" y="240.40" width="290.50" height="200.00" fill="none" stroke="#000" stroke-width="1.5"/>
<text x="50.10" y="458.20" text-anchor="middle" font-size="11.0">-6</text>
<text x="76.51" y="458.20" text-anchor="middle" font-size="11.0">-4</text>
<text x="102.92" y="458.20" text-anchor="middle" font-size="11.0">-2</text>
<text x="129.33" y="458.20" text-anchor="middle" font-size="11.0">0</text>
<text x="155.74" y="458.20" text-anchor="middle" font-size="11.0">2</text>
<text x="182.15" y="458.20" text-anchor="middle" font-size="11.0">4</text>
<text x="208.56" y="458.20" text-anchor="middle" font-size="11.0">6</text>
<text x="234.97" y="458.20" text-anchor="middle" font-size="11.0">8</text>
<text x="261.38" y="458.20" text-anchor="middle" font-size="11.0">10</text>
<text x="287.79" y="458.20" text-anchor="middle" font-size="11.0">12</text>
<text x="314.20" y="458.20" text-anchor="middle" font-size="11.0">14</text>
<text x="27.80" y="435.11" text-anchor="end" font-size="11.0">-6</text>
<text x="27.80" y="416.93" text-anchor="end" font-size="11.0">-4</text>
<text x="27.80" y="398.75" text-anchor="end" font-size="11.0">-2</text>
<text x="27.80" y="380.56" text-anchor="end" font-size="11.0">0</text>
<text x="27.80" y="362.38" text-anchor="end" font-size="11.0">2</text>
<text x="27.80" y="344.20" text-anchor="end" font-size="11.0">4</text>
<text x="27.80" y="326.02" text-anchor="end" font-size="11.0">6</text>
<text x="27.80" y="307.84" text-anchor="end" font-size="11.0">8</text>
<text x="27.80" y="289.65" text-anchor="end" font-size="11.0">10</text>
<text x="27.80" y="271.47" text-anchor="end" font-size="11.0">12</text>
<text x="27.80" y="253.29" text-anchor="end" font-size="11.0">14</text>
<text x="104.0" y="474.7" font-size="13.1">Calculated Fermi energy (eV)</text>
<text transform="translate(11.6,415.4) rotate(-90)" x="0" y="0" font-size="13.15">Predicted Fermi energy (eV)</text>
<text x="52.3" y="263.0" font-size="20.6">c</text>
<rect x="95.7" y="245.7" width="92.30" height="16.50" fill="#fff" stroke="#555" stroke-width="0.9"/>
<circle cx="110.4" cy="253.7" r="2.7" fill="#7fa8d6"/>
<text x="126.7" y="257.8" font-size="11.25">Fermi energy</text>
<text x="96.5" y="276.4" font-size="11.4">MAE=0.368eV</text>
<g clip-path="url(#clipd)"><polygon points="397.6,429.0 397.6,431.6 404.2,427.8 424.1,414.6 435.0,406.1 435.1,406.0 435.2,405.9 435.4,405.9 445.2,401.6 456.1,393.6 456.2,393.5 466.2,387.7 476.1,381.3 489.1,372.4 489.2,372.4 500.2,365.8 511.2,359.3 521.1,353.1 531.1,346.5 540.0,340.4 547.7,333.2 551.4,327.0 551.4,318.9 549.3,318.8 541.9,322.5 533.1,330.1 523.1,338.9 522.9,339.1 512.9,345.9 512.7,346.0 501.8,351.7 491.0,359.5 478.1,371.3 477.9,371.5 467.9,378.8 467.9,378.9 457.9,385.7 457.8,385.8 446.8,391.9 446.8,391.9 436.8,397.2 425.9,404.7 406.1,420.3 397.6,429.0" fill="#3e72b4"/><g fill="#3e72b4" fill-opacity="0.6"><circle cx="432.0" cy="405.9" r="2.8"/><circle cx="398.8" cy="429.2" r="2.8"/><circle cx="458.9" cy="387.7" r="2.8"/><circle cx="426.1" cy="411.3" r="2.8"/><circle cx="412.3" cy="420.3" r="2.8"/><circle cx="411.8" cy="416.5" r="2.8"/><circle cx="484.7" cy="373.8" r="2.8"/><circle cx="427.1" cy="404.5" r="2.8"/><circle cx="491.9" cy="367.9" r="2.8"/><circle cx="410.4" cy="421.5" r="2.8"/><circle cx="534.4" cy="342.3" r="2.8"/><circle cx="474.4" cy="382.3" r="2.8"/><circle cx="440.4" cy="402.8" r="2.8"/><circle cx="435.7" cy="398.9" r="2.8"/><circle cx="419.2" cy="410.9" r="2.8"/><circle cx="498.3" cy="355.4" r="2.8"/><circle cx="427.2" cy="406.7" r="2.8"/><circle cx="425.9" cy="411.1" r="2.8"/><circle cx="478.2" cy="374.2" r="2.8"/><circle cx="538.8" cy="339.6" r="2.8"/><circle cx="457.5" cy="388.8" r="2.8"/><circle cx="519.6" cy="344.2" r="2.8"/><circle cx="411.5" cy="421.8" r="2.8"/><circle cx="425.2" cy="407.5" r="2.8"/><circle cx="535.2" cy="330.9" r="2.8"/><circle cx="431.3" cy="403.0" r="2.8"/><circle cx="492.3" cy="367.7" r="2.8"/><circle cx="546.5" cy="320.4" r="2.8"/><circle cx="502.3" cy="352.8" r="2.8"/><circle cx="509.3" cy="359.7" r="2.8"/><circle cx="458.9" cy="389.3" r="2.8"/><circle cx="531.2" cy="346.1" r="2.8"/><circle cx="422.2" cy="413.3" r="2.8"/><circle cx="438.2" cy="397.3" r="2.8"/><circle cx="549.3" cy="321.0" r="2.8"/><circle cx="463.9" cy="382.5" r="2.8"/><circle cx="489.6" cy="370.2" r="2.8"/><circle cx="481.9" cy="371.0" r="2.8"/><circle cx="439.3" cy="403.2" r="2.8"/><circle cx="451.1" cy="395.0" r="2.8"/><circle cx="518.7" cy="343.3" r="2.8"/><circle cx="403.3" cy="425.1" r="2.8"/><circle cx="521.5" cy="350.0" r="2.8"/><circle cx="432.3" cy="401.5" r="2.8"/><circle cx="542.2" cy="336.3" r="2.8"/><circle cx="499.8" cy="364.3" r="2.8"/><circle cx="531.6" cy="345.4" r="2.8"/><circle cx="417.6" cy="414.0" r="2.8"/><circle cx="537.5" cy="327.7" r="2.8"/><circle cx="519.8" cy="342.1" r="2.8"/><circle cx="433.0" cy="402.5" r="2.8"/><circle cx="403.5" cy="426.6" r="2.8"/><circle cx="538.3" cy="327.4" r="2.8"/><circle cx="443.6" cy="394.6" r="2.8"/><circle cx="418.2" cy="411.7" r="2.8"/><circle cx="453.5" cy="395.3" r="2.8"/><circle cx="490.4" cy="369.6" r="2.8"/><circle cx="453.4" cy="391.0" r="2.8"/><circle cx="479.4" cy="373.3" r="2.8"/><circle cx="510.4" cy="358.6" r="2.8"/><circle cx="466.6" cy="381.0" r="2.8"/><circle cx="493.2" cy="368.4" r="2.8"/><circle cx="411.1" cy="417.3" r="2.8"/><circle cx="432.8" cy="401.5" r="2.8"/><circle cx="460.3" cy="386.8" r="2.8"/><circle cx="501.0" cy="364.8" r="2.8"/><circle cx="515.9" cy="346.5" r="2.8"/><circle cx="495.5" cy="359.0" r="2.8"/><circle cx="490.7" cy="368.6" r="2.8"/><circle cx="417.0" cy="411.9" r="2.8"/><circle cx="433.3" cy="404.5" r="2.8"/><circle cx="515.1" cy="347.1" r="2.8"/><circle cx="525.3" cy="350.3" r="2.8"/><circle cx="410.8" cy="422.0" r="2.8"/><circle cx="516.4" cy="345.4" r="2.8"/><circle cx="524.5" cy="339.4" r="2.8"/><circle cx="421.0" cy="410.2" r="2.8"/><circle cx="398.2" cy="429.0" r="2.8"/><circle cx="424.0" cy="407.5" r="2.8"/><circle cx="477.3" cy="380.1" r="2.8"/><circle cx="405.3" cy="424.2" r="2.8"/><circle cx="511.1" cy="358.2" r="2.8"/><circle cx="418.0" cy="412.5" r="2.8"/><circle cx="441.9" cy="402.5" r="2.8"/><circle cx="525.2" cy="338.4" r="2.8"/><circle cx="447.8" cy="396.7" r="2.8"/><circle cx="465.8" cy="382.9" r="2.8"/><circle cx="415.4" cy="415.7" r="2.8"/><circle cx="480.4" cy="372.3" r="2.8"/><circle cx="474.1" cy="380.6" r="2.8"/><circle cx="473.6" cy="380.7" r="2.8"/><circle cx="420.1" cy="415.3" r="2.8"/><circle cx="460.8" cy="388.6" r="2.8"/><circle cx="429.2" cy="404.8" r="2.8"/><circle cx="414.4" cy="419.2" r="2.8"/><circle cx="529.3" cy="347.4" r="2.8"/><circle cx="427.8" cy="409.0" r="2.8"/><circle cx="536.1" cy="327.5" r="2.8"/><circle cx="415.3" cy="419.7" r="2.8"/><circle cx="529.4" cy="347.1" r="2.8"/><circle cx="517.4" cy="344.7" r="2.8"/><circle cx="429.2" cy="409.8" r="2.8"/><circle cx="427.8" cy="411.4" r="2.8"/><circle cx="448.3" cy="399.2" r="2.8"/><circle cx="546.1" cy="320.7" r="2.8"/><circle cx="433.6" cy="401.5" r="2.8"/><circle cx="427.8" cy="409.3" r="2.8"/><circle cx="550.1" cy="323.3" r="2.8"/><circle cx="551.2" cy="325.9" r="2.8"/><circle cx="543.1" cy="335.2" r="2.8"/><circle cx="535.5" cy="329.6" r="2.8"/><circle cx="466.7" cy="385.1" r="2.8"/><circle cx="507.4" cy="350.0" r="2.8"/><circle cx="452.9" cy="393.8" r="2.8"/><circle cx="469.4" cy="380.8" r="2.8"/><circle cx="491.5" cy="369.7" r="2.8"/><circle cx="408.3" cy="422.9" r="2.8"/><circle cx="427.5" cy="406.4" r="2.8"/><circle cx="459.7" cy="387.4" r="2.8"/><circle cx="403.5" cy="426.1" r="2.8"/><circle cx="409.9" cy="418.3" r="2.8"/><circle cx="458.8" cy="386.9" r="2.8"/><circle cx="514.6" cy="345.8" r="2.8"/><circle cx="417.7" cy="412.0" r="2.8"/><circle cx="494.8" cy="368.8" r="2.8"/><circle cx="440.4" cy="403.1" r="2.8"/><circle cx="456.1" cy="393.5" r="2.8"/><circle cx="472.3" cy="377.1" r="2.8"/><circle cx="538.6" cy="326.8" r="2.8"/><circle cx="549.4" cy="322.1" r="2.8"/><circle cx="486.4" cy="366.5" r="2.8"/><circle cx="466.7" cy="385.1" r="2.8"/><circle cx="466.7" cy="381.9" r="2.8"/><circle cx="480.7" cy="369.5" r="2.8"/><circle cx="452.9" cy="395.7" r="2.8"/><circle cx="472.1" cy="378.8" r="2.8"/><circle cx="481.7" cy="375.2" r="2.8"/><circle cx="421.6" cy="410.1" r="2.8"/><circle cx="540.1" cy="337.6" r="2.8"/><circle cx="461.4" cy="384.2" r="2.8"/><circle cx="516.3" cy="345.0" r="2.8"/><circle cx="543.6" cy="323.9" r="2.8"/><circle cx="438.1" cy="402.9" r="2.8"/><circle cx="441.4" cy="397.5" r="2.8"/><circle cx="457.7" cy="387.3" r="2.8"/><circle cx="475.3" cy="379.8" r="2.8"/><circle cx="536.2" cy="342.7" r="2.8"/><circle cx="465.7" cy="386.4" r="2.8"/><circle cx="468.5" cy="380.7" r="2.8"/><circle cx="416.5" cy="419.5" r="2.8"/><circle cx="442.1" cy="402.3" r="2.8"/><circle cx="427.9" cy="406.1" r="2.8"/><circle cx="435.4" cy="405.3" r="2.8"/><circle cx="510.3" cy="347.8" r="2.8"/><circle cx="509.9" cy="358.7" r="2.8"/><circle cx="550.7" cy="324.4" r="2.8"/><circle cx="405.4" cy="426.1" r="2.8"/><circle cx="519.3" cy="353.8" r="2.8"/><circle cx="416.0" cy="413.4" r="2.8"/><circle cx="445.2" cy="400.7" r="2.8"/><circle cx="534.7" cy="331.6" r="2.8"/><circle cx="531.9" cy="333.0" r="2.8"/><circle cx="510.9" cy="349.0" r="2.8"/><circle cx="455.7" cy="393.6" r="2.8"/><circle cx="434.5" cy="399.7" r="2.8"/><circle cx="424.1" cy="413.0" r="2.8"/><circle cx="549.0" cy="321.8" r="2.8"/><circle cx="526.7" cy="348.0" r="2.8"/><circle cx="526.9" cy="348.1" r="2.8"/><circle cx="515.6" cy="346.8" r="2.8"/><circle cx="499.0" cy="355.5" r="2.8"/><circle cx="520.3" cy="342.9" r="2.8"/><circle cx="423.8" cy="406.7" r="2.8"/><circle cx="519.3" cy="342.3" r="2.8"/><circle cx="441.4" cy="402.7" r="2.8"/><circle cx="515.8" cy="356.1" r="2.8"/><circle cx="425.1" cy="410.9" r="2.8"/><circle cx="547.9" cy="320.3" r="2.8"/><circle cx="489.5" cy="370.3" r="2.8"/><circle cx="493.0" cy="359.2" r="2.8"/><circle cx="543.9" cy="335.2" r="2.8"/><circle cx="493.8" cy="367.5" r="2.8"/><circle cx="416.6" cy="413.9" r="2.8"/><circle cx="446.5" cy="394.6" r="2.8"/><circle cx="512.9" cy="346.0" r="2.8"/><circle cx="525.7" cy="338.2" r="2.8"/><circle cx="453.6" cy="393.7" r="2.8"/><circle cx="551.2" cy="326.2" r="2.8"/><circle cx="428.3" cy="405.2" r="2.8"/><circle cx="443.4" cy="400.8" r="2.8"/><circle cx="428.9" cy="409.6" r="2.8"/><circle cx="502.1" cy="354.3" r="2.8"/><circle cx="457.4" cy="390.4" r="2.8"/><circle cx="500.6" cy="363.4" r="2.8"/><circle cx="461.2" cy="385.0" r="2.8"/><circle cx="432.3" cy="401.8" r="2.8"/><circle cx="441.5" cy="403.2" r="2.8"/><circle cx="536.9" cy="329.9" r="2.8"/><circle cx="483.0" cy="369.6" r="2.8"/><circle cx="449.5" cy="396.5" r="2.8"/><circle cx="549.3" cy="324.4" r="2.8"/><circle cx="423.4" cy="412.4" r="2.8"/><circle cx="483.5" cy="373.3" r="2.8"/><circle cx="418.1" cy="411.7" r="2.8"/><circle cx="516.1" cy="353.7" r="2.8"/><circle cx="524.6" cy="340.2" r="2.8"/><circle cx="404.3" cy="424.2" r="2.8"/><circle cx="447.0" cy="393.6" r="2.8"/><circle cx="534.3" cy="343.9" r="2.8"/><circle cx="427.1" cy="405.7" r="2.8"/><circle cx="490.1" cy="362.8" r="2.8"/><circle cx="426.3" cy="412.6" r="2.8"/><circle cx="507.3" cy="351.3" r="2.8"/><circle cx="545.8" cy="320.7" r="2.8"/><circle cx="495.2" cy="359.4" r="2.8"/><circle cx="439.6" cy="403.2" r="2.8"/><circle cx="408.0" cy="424.4" r="2.8"/><circle cx="544.3" cy="322.0" r="2.8"/><circle cx="468.4" cy="379.6" r="2.8"/><circle cx="505.5" cy="352.5" r="2.8"/><circle cx="470.2" cy="377.5" r="2.8"/><circle cx="475.7" cy="373.8" r="2.8"/><circle cx="545.8" cy="321.6" r="2.8"/><circle cx="422.6" cy="410.0" r="2.8"/><circle cx="528.8" cy="346.6" r="2.8"/><circle cx="432.8" cy="406.2" r="2.8"/><circle cx="517.3" cy="343.5" r="2.8"/><circle cx="416.3" cy="419.0" r="2.8"/><circle cx="515.6" cy="354.5" r="2.8"/><circle cx="523.5" cy="339.9" r="2.8"/><circle cx="530.6" cy="345.1" r="2.8"/><circle cx="525.9" cy="337.6" r="2.8"/><circle cx="502.5" cy="364.0" r="2.8"/><circle cx="484.2" cy="368.2" r="2.8"/><circle cx="529.6" cy="345.3" r="2.8"/><circle cx="548.9" cy="326.8" r="2.8"/><circle cx="531.2" cy="331.8" r="2.8"/><circle cx="457.8" cy="386.7" r="2.8"/><circle cx="545.5" cy="322.4" r="2.8"/><circle cx="540.9" cy="325.6" r="2.8"/><circle cx="500.4" cy="364.1" r="2.8"/><circle cx="492.2" cy="361.3" r="2.8"/><circle cx="509.5" cy="350.5" r="2.8"/><circle cx="444.5" cy="394.5" r="2.8"/><circle cx="513.8" cy="347.4" r="2.8"/><circle cx="538.6" cy="326.2" r="2.8"/><circle cx="504.7" cy="350.5" r="2.8"/><circle cx="433.0" cy="406.2" r="2.8"/><circle cx="473.4" cy="380.8" r="2.8"/><circle cx="407.1" cy="425.2" r="2.8"/><circle cx="524.1" cy="341.3" r="2.8"/><circle cx="547.9" cy="329.4" r="2.8"/><circle cx="510.2" cy="356.9" r="2.8"/><circle cx="453.7" cy="388.6" r="2.8"/><circle cx="487.1" cy="373.3" r="2.8"/><circle cx="411.8" cy="418.1" r="2.8"/><circle cx="470.9" cy="376.8" r="2.8"/><circle cx="550.7" cy="327.7" r="2.8"/><circle cx="528.7" cy="346.1" r="2.8"/><circle cx="427.9" cy="406.0" r="2.8"/><circle cx="412.1" cy="420.3" r="2.8"/><circle cx="462.9" cy="389.2" r="2.8"/><circle cx="549.7" cy="319.9" r="2.8"/><circle cx="471.5" cy="383.9" r="2.8"/><circle cx="538.4" cy="326.6" r="2.8"/><circle cx="498.4" cy="366.9" r="2.8"/><circle cx="551.2" cy="319.0" r="2.8"/><circle cx="420.3" cy="409.3" r="2.8"/><circle cx="536.3" cy="340.4" r="2.8"/><circle cx="512.6" cy="348.6" r="2.8"/><circle cx="514.7" cy="355.5" r="2.8"/><circle cx="529.1" cy="335.2" r="2.8"/><circle cx="432.9" cy="406.7" r="2.8"/><circle cx="399.8" cy="427.6" r="2.8"/><circle cx="423.8" cy="409.2" r="2.8"/><circle cx="443.7" cy="402.1" r="2.8"/><circle cx="488.1" cy="364.2" r="2.8"/><circle cx="492.6" cy="359.0" r="2.8"/><circle cx="412.0" cy="420.3" r="2.8"/><circle cx="549.1" cy="330.5" r="2.8"/><circle cx="477.3" cy="378.3" r="2.8"/><circle cx="509.3" cy="349.3" r="2.8"/><circle cx="478.0" cy="371.7" r="2.8"/><circle cx="550.5" cy="319.4" r="2.8"/><circle cx="523.4" cy="349.1" r="2.8"/><circle cx="477.5" cy="378.2" r="2.8"/><circle cx="408.3" cy="424.1" r="2.8"/><circle cx="549.7" cy="320.9" r="2.8"/><circle cx="416.5" cy="413.1" r="2.8"/><circle cx="467.3" cy="385.0" r="2.8"/><circle cx="536.2" cy="330.1" r="2.8"/><circle cx="521.5" cy="352.1" r="2.8"/><circle cx="450.1" cy="390.4" r="2.8"/><circle cx="535.7" cy="330.9" r="2.8"/><circle cx="402.0" cy="425.8" r="2.8"/><circle cx="448.1" cy="392.6" r="2.8"/><circle cx="399.7" cy="429.9" r="2.8"/><circle cx="447.6" cy="392.0" r="2.8"/><circle cx="499.7" cy="354.9" r="2.8"/><circle cx="520.0" cy="342.0" r="2.8"/><circle cx="490.5" cy="361.9" r="2.8"/><circle cx="456.4" cy="388.6" r="2.8"/><circle cx="509.4" cy="357.4" r="2.8"/><circle cx="481.8" cy="375.2" r="2.8"/><circle cx="504.2" cy="350.8" r="2.8"/><circle cx="428.4" cy="411.1" r="2.8"/><circle cx="440.5" cy="401.1" r="2.8"/><circle cx="492.5" cy="368.7" r="2.8"/><circle cx="407.1" cy="425.6" r="2.8"/><circle cx="441.5" cy="395.1" r="2.8"/><circle cx="466.7" cy="384.8" r="2.8"/><circle cx="447.7" cy="391.7" r="2.8"/><circle cx="476.9" cy="378.3" r="2.8"/><circle cx="418.1" cy="413.5" r="2.8"/><circle cx="467.4" cy="386.5" r="2.8"/><circle cx="426.9" cy="410.5" r="2.8"/><circle cx="500.8" cy="352.6" r="2.8"/><circle cx="465.5" cy="386.7" r="2.8"/><circle cx="520.0" cy="343.7" r="2.8"/><circle cx="502.0" cy="361.9" r="2.8"/><circle cx="531.4" cy="332.0" r="2.8"/><circle cx="540.6" cy="325.3" r="2.8"/><circle cx="430.3" cy="408.6" r="2.8"/><circle cx="512.3" cy="348.4" r="2.8"/><circle cx="464.8" cy="383.6" r="2.8"/><circle cx="405.8" cy="425.7" r="2.8"/><circle cx="506.8" cy="359.3" r="2.8"/><circle cx="462.9" cy="384.2" r="2.8"/><circle cx="500.2" cy="364.9" r="2.8"/><circle cx="425.0" cy="413.4" r="2.8"/><circle cx="413.8" cy="417.0" r="2.8"/><circle cx="407.8" cy="419.1" r="2.8"/><circle cx="422.4" cy="408.9" r="2.8"/><circle cx="536.8" cy="342.1" r="2.8"/><circle cx="451.4" cy="389.9" r="2.8"/><circle cx="411.4" cy="417.8" r="2.8"/><circle cx="420.9" cy="413.9" r="2.8"/><circle cx="511.9" cy="357.8" r="2.8"/><circle cx="532.0" cy="345.3" r="2.8"/><circle cx="430.2" cy="402.7" r="2.8"/><circle cx="530.2" cy="345.1" r="2.8"/><circle cx="444.0" cy="395.3" r="2.8"/><circle cx="444.1" cy="394.6" r="2.8"/><circle cx="494.6" cy="368.6" r="2.8"/><circle cx="541.9" cy="337.0" r="2.8"/><circle cx="536.5" cy="329.5" r="2.8"/><circle cx="416.0" cy="418.2" r="2.8"/><circle cx="459.4" cy="391.5" r="2.8"/><circle cx="440.0" cy="396.0" r="2.8"/><circle cx="527.7" cy="338.2" r="2.8"/><circle cx="549.6" cy="320.8" r="2.8"/><circle cx="486.7" cy="364.5" r="2.8"/><circle cx="450.4" cy="390.1" r="2.8"/><circle cx="431.3" cy="401.9" r="2.8"/><circle cx="442.0" cy="400.7" r="2.8"/><circle cx="453.7" cy="388.1" r="2.8"/><circle cx="507.2" cy="358.8" r="2.8"/><circle cx="496.6" cy="366.6" r="2.8"/><circle cx="405.4" cy="424.4" r="2.8"/><circle cx="436.6" cy="404.5" r="2.8"/><circle cx="537.9" cy="328.5" r="2.8"/><circle cx="463.9" cy="382.7" r="2.8"/><circle cx="465.7" cy="383.2" r="2.8"/><circle cx="408.7" cy="423.4" r="2.8"/><circle cx="410.4" cy="422.1" r="2.8"/><circle cx="499.8" cy="365.0" r="2.8"/><circle cx="518.8" cy="342.3" r="2.8"/><circle cx="538.0" cy="340.8" r="2.8"/><circle cx="550.1" cy="319.8" r="2.8"/><circle cx="461.3" cy="388.0" r="2.8"/><circle cx="403.3" cy="423.8" r="2.8"/><circle cx="399.4" cy="429.0" r="2.8"/><circle cx="509.0" cy="349.9" r="2.8"/><circle cx="437.2" cy="403.5" r="2.8"/><circle cx="424.6" cy="411.9" r="2.8"/><circle cx="506.8" cy="360.1" r="2.8"/><circle cx="525.2" cy="339.7" r="2.8"/><circle cx="532.1" cy="333.8" r="2.8"/><circle cx="423.2" cy="407.6" r="2.8"/><circle cx="431.1" cy="403.1" r="2.8"/><circle cx="513.3" cy="357.0" r="2.8"/><circle cx="421.2" cy="413.9" r="2.8"/><circle cx="425.6" cy="406.1" r="2.8"/><circle cx="492.3" cy="368.1" r="2.8"/><circle cx="463.3" cy="387.3" r="2.8"/><circle cx="426.1" cy="407.4" r="2.8"/><circle cx="532.0" cy="331.4" r="2.8"/><circle cx="459.7" cy="389.5" r="2.8"/><circle cx="520.4" cy="350.7" r="2.8"/><circle cx="436.8" cy="399.5" r="2.8"/><circle cx="488.6" cy="362.6" r="2.8"/><circle cx="545.8" cy="320.6" r="2.8"/><circle cx="492.9" cy="359.2" r="2.8"/><circle cx="523.1" cy="341.6" r="2.8"/><circle cx="425.6" cy="406.7" r="2.8"/><circle cx="419.6" cy="417.4" r="2.8"/><circle cx="427.3" cy="404.1" r="2.8"/><circle cx="502.9" cy="362.5" r="2.8"/><circle cx="495.5" cy="367.4" r="2.8"/><circle cx="418.6" cy="412.0" r="2.8"/><circle cx="484.3" cy="375.3" r="2.8"/><circle cx="546.9" cy="333.1" r="2.8"/><circle cx="510.3" cy="348.1" r="2.8"/><circle cx="489.4" cy="370.1" r="2.8"/><circle cx="534.7" cy="330.1" r="2.8"/><circle cx="451.2" cy="389.5" r="2.8"/><circle cx="434.0" cy="405.1" r="2.8"/><circle cx="536.7" cy="328.5" r="2.8"/><circle cx="419.4" cy="410.9" r="2.8"/><circle cx="490.9" cy="368.8" r="2.8"/><circle cx="463.1" cy="386.9" r="2.8"/><circle cx="504.3" cy="362.9" r="2.8"/><circle cx="460.6" cy="385.1" r="2.8"/><circle cx="418.1" cy="411.3" r="2.8"/><circle cx="457.4" cy="390.6" r="2.8"/><circle cx="467.1" cy="385.1" r="2.8"/><circle cx="479.0" cy="376.4" r="2.8"/><circle cx="444.9" cy="395.1" r="2.8"/><circle cx="409.4" cy="418.5" r="2.8"/><circle cx="434.7" cy="399.6" r="2.8"/><circle cx="446.0" cy="399.9" r="2.8"/><circle cx="433.6" cy="401.2" r="2.8"/><circle cx="528.3" cy="347.1" r="2.8"/><circle cx="466.1" cy="382.4" r="2.8"/><circle cx="496.2" cy="358.2" r="2.8"/><circle cx="522.0" cy="351.7" r="2.8"/><circle cx="422.9" cy="408.5" r="2.8"/><circle cx="441.6" cy="396.2" r="2.8"/><circle cx="427.8" cy="406.1" r="2.8"/><circle cx="399.9" cy="427.0" r="2.8"/><circle cx="476.0" cy="373.1" r="2.8"/><circle cx="413.7" cy="417.4" r="2.8"/><circle cx="488.7" cy="361.9" r="2.8"/><circle cx="521.9" cy="341.2" r="2.8"/><circle cx="526.1" cy="347.6" r="2.8"/><circle cx="533.4" cy="331.5" r="2.8"/><circle cx="493.7" cy="360.6" r="2.8"/><circle cx="440.6" cy="396.1" r="2.8"/><circle cx="453.1" cy="393.3" r="2.8"/><circle cx="499.2" cy="365.7" r="2.8"/><circle cx="407.7" cy="425.2" r="2.8"/><circle cx="426.4" cy="407.2" r="2.8"/><circle cx="546.5" cy="331.6" r="2.8"/><circle cx="516.4" cy="343.7" r="2.8"/><circle cx="544.7" cy="334.6" r="2.8"/><circle cx="531.6" cy="334.1" r="2.8"/><circle cx="474.6" cy="382.0" r="2.8"/><circle cx="516.4" cy="355.0" r="2.8"/><circle cx="517.6" cy="353.4" r="2.8"/><circle cx="475.6" cy="380.9" r="2.8"/><circle cx="526.1" cy="336.9" r="2.8"/><circle cx="489.7" cy="371.8" r="2.8"/><circle cx="489.4" cy="370.0" r="2.8"/><circle cx="512.3" cy="358.4" r="2.8"/><circle cx="472.2" cy="376.2" r="2.8"/><circle cx="514.4" cy="356.4" r="2.8"/><circle cx="535.1" cy="330.4" r="2.8"/><circle cx="535.9" cy="340.9" r="2.8"/><circle cx="504.5" cy="361.3" r="2.8"/><circle cx="450.0" cy="398.0" r="2.8"/><circle cx="535.7" cy="341.7" r="2.8"/><circle cx="412.0" cy="420.9" r="2.8"/><circle cx="463.8" cy="387.6" r="2.8"/><circle cx="467.3" cy="386.6" r="2.8"/><circle cx="494.9" cy="368.9" r="2.8"/><circle cx="545.3" cy="322.5" r="2.8"/><circle cx="522.5" cy="351.6" r="2.8"/><circle cx="525.6" cy="338.6" r="2.8"/><circle cx="465.5" cy="387.2" r="2.8"/><circle cx="514.6" cy="357.0" r="2.8"/><circle cx="422.0" cy="415.7" r="2.8"/><circle cx="416.3" cy="417.8" r="2.8"/><circle cx="405.8" cy="424.4" r="2.8"/><circle cx="526.7" cy="348.2" r="2.8"/><circle cx="399.4" cy="429.8" r="2.8"/><circle cx="516.7" cy="344.3" r="2.8"/><circle cx="494.2" cy="368.8" r="2.8"/><circle cx="425.2" cy="413.4" r="2.8"/><circle cx="495.9" cy="358.8" r="2.8"/><circle cx="477.5" cy="372.7" r="2.8"/><circle cx="549.8" cy="325.0" r="2.8"/><circle cx="417.9" cy="413.9" r="2.8"/><circle cx="484.7" cy="368.5" r="2.8"/><circle cx="522.3" cy="350.5" r="2.8"/><circle cx="524.8" cy="347.8" r="2.8"/><circle cx="483.5" cy="368.7" r="2.8"/><circle cx="473.1" cy="376.5" r="2.8"/><circle cx="429.6" cy="407.3" r="2.8"/><circle cx="458.6" cy="387.5" r="2.8"/><circle cx="502.9" cy="363.7" r="2.8"/><circle cx="470.6" cy="383.4" r="2.8"/><circle cx="525.8" cy="339.5" r="2.8"/><circle cx="487.9" cy="370.5" r="2.8"/><circle cx="491.2" cy="361.0" r="2.8"/><circle cx="413.0" cy="417.0" r="2.8"/><circle cx="419.3" cy="411.1" r="2.8"/><circle cx="491.1" cy="369.0" r="2.8"/><circle cx="516.7" cy="344.1" r="2.8"/><circle cx="550.9" cy="327.3" r="2.8"/><circle cx="406.3" cy="423.8" r="2.8"/><circle cx="538.8" cy="326.3" r="2.8"/><circle cx="537.5" cy="328.2" r="2.8"/><circle cx="428.2" cy="404.5" r="2.8"/><circle cx="514.1" cy="348.0" r="2.8"/><circle cx="466.7" cy="387.2" r="2.8"/><circle cx="464.1" cy="381.6" r="2.8"/><circle cx="492.7" cy="369.5" r="2.8"/><circle cx="513.3" cy="347.6" r="2.8"/><circle cx="418.6" cy="418.2" r="2.8"/><circle cx="444.9" cy="400.0" r="2.8"/><circle cx="549.1" cy="322.8" r="2.8"/><circle cx="401.3" cy="426.5" r="2.8"/><circle cx="525.0" cy="338.3" r="2.8"/><circle cx="497.8" cy="364.3" r="2.8"/><circle cx="512.7" cy="355.7" r="2.8"/><circle cx="540.1" cy="339.2" r="2.8"/><circle cx="498.1" cy="364.5" r="2.8"/><circle cx="550.1" cy="319.7" r="2.8"/><circle cx="464.8" cy="381.8" r="2.8"/><circle cx="468.0" cy="384.8" r="2.8"/><circle cx="436.2" cy="405.3" r="2.8"/><circle cx="463.9" cy="382.6" r="2.8"/><circle cx="474.4" cy="382.2" r="2.8"/><circle cx="400.4" cy="429.8" r="2.8"/><circle cx="570.8" cy="313.7" r="2.8"/><circle cx="581.8" cy="298.3" r="2.8"/><circle cx="576.8" cy="302.3" r="2.8"/><circle cx="580.2" cy="301.6" r="2.8"/><circle cx="555.9" cy="318.7" r="2.8"/><circle cx="576.6" cy="304.8" r="2.8"/><circle cx="578.0" cy="310.8" r="2.8"/><circle cx="586.0" cy="301.2" r="2.8"/><circle cx="552.4" cy="327.0" r="2.8"/><circle cx="565.6" cy="318.7" r="2.8"/><circle cx="560.1" cy="326.8" r="2.8"/><circle cx="566.3" cy="317.6" r="2.8"/><circle cx="568.4" cy="316.1" r="2.8"/><circle cx="580.5" cy="307.0" r="2.8"/><circle cx="554.1" cy="328.9" r="2.8"/><circle cx="570.6" cy="308.1" r="2.8"/><circle cx="564.5" cy="310.6" r="2.8"/><circle cx="567.3" cy="314.8" r="2.8"/><circle cx="566.7" cy="320.5" r="2.8"/><circle cx="551.0" cy="332.1" r="2.8"/><circle cx="567.7" cy="311.3" r="2.8"/><circle cx="551.6" cy="331.4" r="2.8"/><circle cx="552.6" cy="324.3" r="2.8"/><circle cx="582.6" cy="300.2" r="2.8"/><circle cx="573.9" cy="310.4" r="2.8"/><circle cx="575.3" cy="305.3" r="2.8"/><circle cx="578.7" cy="304.7" r="2.8"/><circle cx="587.0" cy="300.3" r="2.8"/><circle cx="569.0" cy="319.6" r="2.8"/><circle cx="554.1" cy="330.5" r="2.8"/><circle cx="571.7" cy="305.6" r="2.8"/><circle cx="575.5" cy="301.1" r="2.8"/><circle cx="573.5" cy="314.6" r="2.8"/><circle cx="568.5" cy="320.3" r="2.8"/><circle cx="514.6" cy="356.4" r="2.8"/><circle cx="438.9" cy="407.3" r="2.8"/><circle cx="545.1" cy="336.7" r="2.8"/><circle cx="533.7" cy="329.1" r="2.8"/><circle cx="475.8" cy="384.3" r="2.8"/><circle cx="546.5" cy="325.3" r="2.8"/><circle cx="469.9" cy="381.8" r="2.8"/><circle cx="485.1" cy="367.6" r="2.8"/><circle cx="480.6" cy="369.0" r="2.8"/><circle cx="415.3" cy="421.6" r="2.8"/><circle cx="451.1" cy="388.0" r="2.8"/><circle cx="495.8" cy="371.2" r="2.8"/><circle cx="531.7" cy="338.2" r="2.8"/><circle cx="473.4" cy="373.2" r="2.8"/><circle cx="449.0" cy="392.8" r="2.8"/><circle cx="535.7" cy="328.4" r="2.8"/><circle cx="498.4" cy="363.2" r="2.8"/><circle cx="542.4" cy="338.4" r="2.8"/><circle cx="531.0" cy="339.1" r="2.8"/><circle cx="529.7" cy="346.8" r="2.8"/><circle cx="539.5" cy="331.4" r="2.8"/><circle cx="544.2" cy="336.4" r="2.8"/><circle cx="517.8" cy="348.3" r="2.8"/><circle cx="462.9" cy="388.8" r="2.8"/><circle cx="546.1" cy="332.3" r="2.8"/><circle cx="511.3" cy="352.0" r="2.8"/><circle cx="497.1" cy="357.8" r="2.8"/><circle cx="478.6" cy="381.5" r="2.8"/><circle cx="425.2" cy="413.5" r="2.8"/><circle cx="536.3" cy="331.6" r="2.8"/><circle cx="405.5" cy="427.0" r="2.8"/><circle cx="446.7" cy="402.4" r="2.8"/><circle cx="473.8" cy="374.8" r="2.8"/><circle cx="515.2" cy="358.5" r="2.8"/><circle cx="492.2" cy="362.7" r="2.8"/><circle cx="531.2" cy="343.6" r="2.8"/><circle cx="490.3" cy="366.1" r="2.8"/><circle cx="511.4" cy="343.7" r="2.8"/><circle cx="490.4" cy="365.8" r="2.8"/><circle cx="449.5" cy="395.0" r="2.8"/><circle cx="426.9" cy="414.7" r="2.8"/><circle cx="518.5" cy="352.0" r="2.8"/><circle cx="467.7" cy="383.1" r="2.8"/><circle cx="509.8" cy="351.5" r="2.8"/><circle cx="494.3" cy="370.2" r="2.8"/><circle cx="421.6" cy="411.6" r="2.8"/><circle cx="465.2" cy="382.9" r="2.8"/><circle cx="438.3" cy="404.1" r="2.8"/><circle cx="440.4" cy="396.3" r="2.8"/><circle cx="428.8" cy="409.7" r="2.8"/><circle cx="531.9" cy="345.5" r="2.8"/><circle cx="497.9" cy="356.3" r="2.8"/><circle cx="497.3" cy="357.4" r="2.8"/><circle cx="466.6" cy="379.2" r="2.8"/><circle cx="417.6" cy="414.2" r="2.8"/><circle cx="480.1" cy="378.4" r="2.8"/><circle cx="540.9" cy="328.2" r="2.8"/><circle cx="536.6" cy="325.1" r="2.8"/><circle cx="543.7" cy="324.7" r="2.8"/><circle cx="541.1" cy="332.6" r="2.8"/><circle cx="524.5" cy="353.1" r="2.8"/><circle cx="496.5" cy="367.4" r="2.8"/><circle cx="505.9" cy="357.8" r="2.8"/><circle cx="523.9" cy="340.7" r="2.8"/><circle cx="512.8" cy="342.9" r="2.8"/><circle cx="509.5" cy="356.0" r="2.8"/><circle cx="513.4" cy="352.4" r="2.8"/><circle cx="511.0" cy="361.9" r="2.8"/><circle cx="531.7" cy="332.2" r="2.8"/><circle cx="529.6" cy="346.0" r="2.8"/><circle cx="538.6" cy="335.2" r="2.8"/><circle cx="545.5" cy="337.4" r="2.8"/><circle cx="536.3" cy="345.8" r="2.8"/><circle cx="520.2" cy="347.5" r="2.8"/><circle cx="522.2" cy="337.0" r="2.8"/><circle cx="493.8" cy="372.1" r="2.8"/><circle cx="492.3" cy="374.3" r="2.8"/><circle cx="534.9" cy="337.6" r="2.8"/><circle cx="515.1" cy="357.6" r="2.8"/><circle cx="518.1" cy="340.6" r="2.8"/><circle cx="520.4" cy="350.4" r="2.8"/><circle cx="520.7" cy="350.1" r="2.8"/><circle cx="526.1" cy="337.1" r="2.8"/><circle cx="504.5" cy="358.4" r="2.8"/><circle cx="537.0" cy="338.0" r="2.8"/><circle cx="508.3" cy="348.8" r="2.8"/><circle cx="498.2" cy="369.2" r="2.8"/><circle cx="521.8" cy="341.2" r="2.8"/><circle cx="495.6" cy="360.8" r="2.8"/><circle cx="495.1" cy="361.6" r="2.8"/><circle cx="482.3" cy="384.8" r="2.8"/><circle cx="482.3" cy="387.7" r="2.8"/><circle cx="497.3" cy="391.8" r="2.8"/><circle cx="465.3" cy="395.2" r="2.8"/><circle cx="460.6" cy="378.2" r="2.8"/><circle cx="431.4" cy="399.9" r="2.8"/><circle cx="504.9" cy="374.5" r="2.8"/><circle cx="494.1" cy="350.1" r="2.8"/><circle cx="564.8" cy="294.9" r="2.8"/><circle cx="556.8" cy="308.7" r="2.8"/><circle cx="567.1" cy="305.7" r="2.8"/><circle cx="576.3" cy="299.2" r="2.8"/><circle cx="572.9" cy="305.7" r="2.8"/><circle cx="582.1" cy="309.1" r="2.8"/><circle cx="581.0" cy="320.7" r="2.8"/><circle cx="569.4" cy="318.4" r="2.8"/><circle cx="563.2" cy="331.0" r="2.8"/><circle cx="545.3" cy="341.4" r="2.8"/><circle cx="554.5" cy="334.5" r="2.8"/><circle cx="591.3" cy="287.3" r="2.8"/><circle cx="591.3" cy="302.2" r="2.8"/><circle cx="604.4" cy="281.5" r="2.8"/><circle cx="615.5" cy="281.5" r="2.8"/><circle cx="614.3" cy="288.4" r="2.8"/><circle cx="543.0" cy="320.7" r="2.8"/><circle cx="592.6" cy="399.3" r="2.8"/><circle cx="601.3" cy="262.8" r="2.8"/><circle cx="592.6" cy="301.6" r="2.8"/><circle cx="591.8" cy="286.5" r="2.8"/><circle cx="564.7" cy="294.7" r="2.8"/><circle cx="576.2" cy="298.9" r="2.8"/><circle cx="556.9" cy="308.3" r="2.8"/><circle cx="581.4" cy="320.3" r="2.8"/><circle cx="562.1" cy="331.8" r="2.8"/><circle cx="555.3" cy="334.9" r="2.8"/><circle cx="571.5" cy="324.0" r="2.8"/><circle cx="567.8" cy="305.7" r="2.8"/><circle cx="572.0" cy="305.7" r="2.8"/><circle cx="581.4" cy="309.9" r="2.8"/><circle cx="579.3" cy="311.4" r="2.8"/></g></g>
<line x1="382.80" y1="440.40" x2="674.00" y2="240.30" stroke="#000" stroke-width="1.45" stroke-dasharray="5.4,4.37"/>
<line x1="415.16" y1="440.40" x2="415.16" y2="432.40" stroke="#000" stroke-width="1.4"/>
<line x1="447.51" y1="440.40" x2="447.51" y2="436.40" stroke="#000" stroke-width="1.4"/>
<line x1="479.87" y1="440.40" x2="479.87" y2="432.40" stroke="#000" stroke-width="1.4"/>
<line x1="512.22" y1="440.40" x2="512.22" y2="436.40" stroke="#000" stroke-width="1.4"/>
<line x1="544.58" y1="440.40" x2="544.58" y2="432.40" stroke="#000" stroke-width="1.4"/>
<line x1="576.93" y1="440.40" x2="576.93" y2="436.40" stroke="#000" stroke-width="1.4"/>
<line x1="609.29" y1="440.40" x2="609.29" y2="432.40" stroke="#000" stroke-width="1.4"/>
<line x1="641.64" y1="440.40" x2="641.64" y2="436.40" stroke="#000" stroke-width="1.4"/>
<line x1="382.80" y1="418.17" x2="390.80" y2="418.17" stroke="#000" stroke-width="1.4"/>
<line x1="382.80" y1="395.93" x2="386.80" y2="395.93" stroke="#000" stroke-width="1.4"/>
<line x1="382.80" y1="373.70" x2="390.80" y2="373.70" stroke="#000" stroke-width="1.4"/>
<line x1="382.80" y1="351.47" x2="386.80" y2="351.47" stroke="#000" stroke-width="1.4"/>
<line x1="382.80" y1="329.23" x2="390.80" y2="329.23" stroke="#000" stroke-width="1.4"/>
<line x1="382.80" y1="307.00" x2="386.80" y2="307.00" stroke="#000" stroke-width="1.4"/>
<line x1="382.80" y1="284.77" x2="390.80" y2="284.77" stroke="#000" stroke-width="1.4"/>
<line x1="382.80" y1="262.53" x2="386.80" y2="262.53" stroke="#000" stroke-width="1.4"/>
<rect x="382.80" y="240.30" width="291.20" height="200.10" fill="none" stroke="#000" stroke-width="1.5"/>
<text x="415.16" y="457.60" text-anchor="middle" font-size="11.0">-4</text>
<text x="479.87" y="457.60" text-anchor="middle" font-size="11.0">-2</text>
<text x="544.58" y="457.60" text-anchor="middle" font-size="11.0">0</text>
<text x="609.29" y="457.60" text-anchor="middle" font-size="11.0">2</text>
<text x="674.00" y="457.60" text-anchor="middle" font-size="11.0">4</text>
<text x="373.80" y="421.97" text-anchor="end" font-size="11.0">-4</text>
<text x="373.80" y="377.50" text-anchor="end" font-size="11.0">-2</text>
<text x="373.80" y="333.03" text-anchor="end" font-size="11.0">0</text>
<text x="373.80" y="288.57" text-anchor="end" font-size="11.0">2</text>
<text x="373.80" y="244.10" text-anchor="end" font-size="11.0">4</text>
<text x="423.0" y="471.6" font-size="13.35">Calculated formation energy (eV/atom)</text>
<text transform="translate(356.0,443.1) rotate(-90)" x="0" y="0" font-size="13.45">Predicted formation energy (eV/atom)</text>
<text x="399.0" y="263.0" font-size="20.6">d</text>
<rect x="451.4" y="246.2" width="128.20" height="18.60" fill="#fff" stroke="#555" stroke-width="0.9"/>
<circle cx="468.3" cy="255.5" r="2.7" fill="#7fa8d6"/>
<text x="487.3" y="260.0" font-size="13.1">formation energy</text>
<text x="452.6" y="278.3" font-size="11.4">MAE=0.063eV/atom</text>
</svg></body></html>
